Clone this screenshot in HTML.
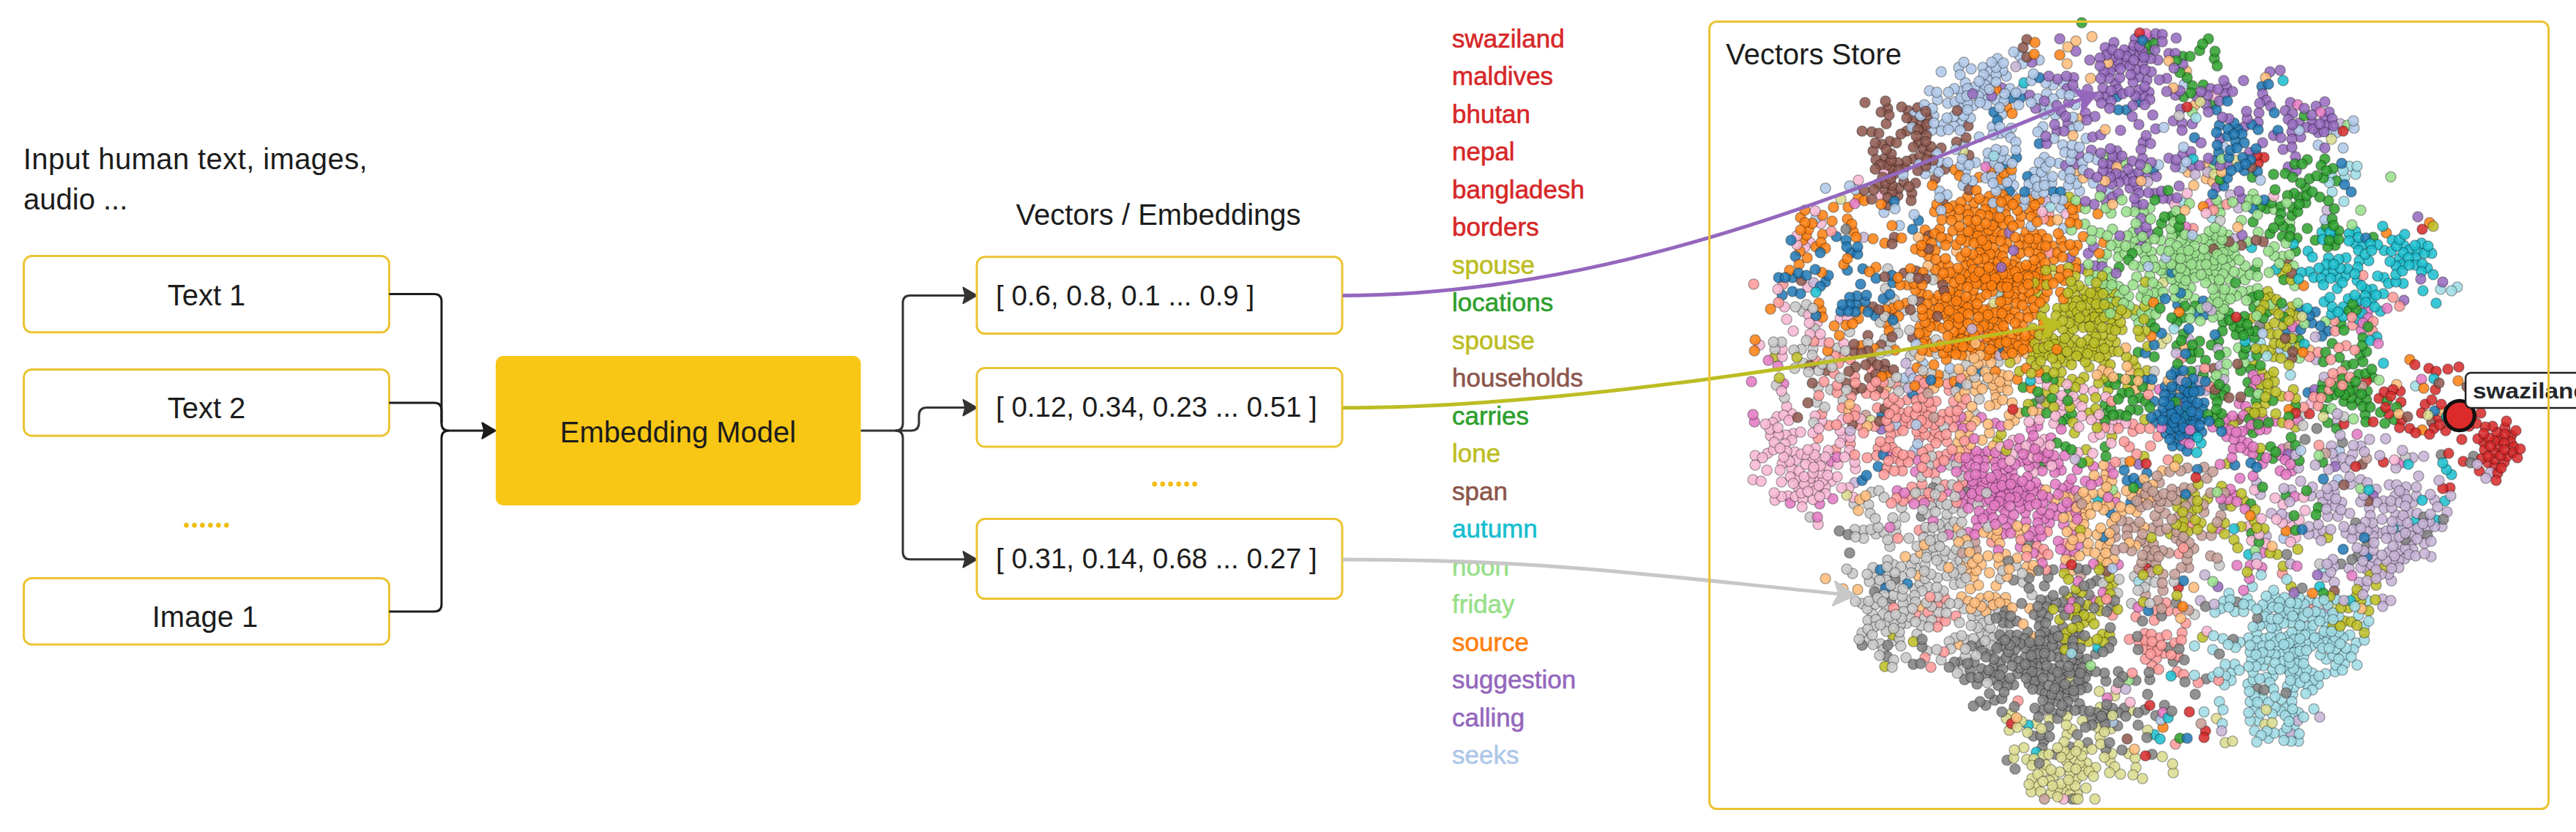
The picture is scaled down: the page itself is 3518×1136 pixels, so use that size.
<!DOCTYPE html>
<html><head><meta charset="utf-8">
<style>
html,body{margin:0;padding:0;background:#fff;width:3518px;height:1136px;overflow:hidden}
svg{position:absolute;left:0;top:0;font-family:"Liberation Sans",sans-serif}
.s circle{r:7.1px;fill-opacity:.85;stroke:rgba(0,0,0,.35);stroke-width:1.3}
.s .a{fill:#1f77b4}.s .b{fill:#aec7e8}.s .c{fill:#ff7f0e}.s .d{fill:#ffbb78}.s .e{fill:#2ca02c}.s .f{fill:#98df8a}.s .g{fill:#d62728}.s .h{fill:#ff9896}.s .i{fill:#9467bd}.s .j{fill:#c5b0d5}.s .k{fill:#8c564b}.s .l{fill:#c49c94}.s .m{fill:#e377c2}.s .n{fill:#f7b6d2}.s .o{fill:#7f7f7f}.s .p{fill:#c7c7c7}.s .q{fill:#bcbd22}.s .r{fill:#dbdb8d}.s .s{fill:#17becf}.s .t{fill:#9edae5}
.box{fill:#fff;stroke:#ebc433;stroke-width:3}
.t{font-size:40px;fill:#1c1c1c}
.w{font-size:35px}
.v{font-size:38.5px}
</style></head><body>
<svg width="3518" height="1136" viewBox="0 0 3518 1136">
<!-- left texts -->
<text class="t" x="31.8" y="231" letter-spacing=".4">Input human text, images,</text>
<text class="t" x="32" y="286">audio ...</text>
<rect class="box" x="32.5" y="349.5" width="499" height="104.3" rx="11"/>
<rect class="box" x="32.5" y="504.4" width="499" height="90.6" rx="11"/>
<rect class="box" x="32.5" y="789.4" width="499" height="90.6" rx="11"/>
<text class="t" x="282" y="417" text-anchor="middle">Text 1</text>
<text class="t" x="282" y="571" text-anchor="middle">Text 2</text>
<text class="t" x="280" y="856" text-anchor="middle">Image 1</text>
<g fill="#f0bf12"><circle cx="254.5" cy="717.1" r="3.4"/><circle cx="265.5" cy="717.1" r="3.4"/><circle cx="276.4" cy="717.1" r="3.4"/><circle cx="287.4" cy="717.1" r="3.4"/><circle cx="298.3" cy="717.1" r="3.4"/><circle cx="309.3" cy="717.1" r="3.4"/></g>
<!-- connectors left -->
<g fill="none" stroke="#1c1c1c" stroke-width="3">
<path d="M531.5 401.6H593Q603 401.6 603 411.6V578Q603 588 613 588H665"/>
<path d="M531.5 550H593Q603 550 603 560V578"/>
<path d="M531.5 835H593Q603 835 603 825V598Q603 588 613 588"/>
</g>
<path d="M677 588L658.4 577.2L661.4 588L658.4 598.8Z" fill="#1c1c1c" stroke="#1c1c1c" stroke-width="2" stroke-linejoin="round"/>
<!-- embedding model -->
<rect x="677" y="486" width="498.6" height="204" rx="10" fill="#f8c614"/>
<text class="t" x="926" y="604" text-anchor="middle">Embedding Model</text>
<!-- connectors right -->
<g fill="none" stroke="#333" stroke-width="3">
<path d="M1175.6 588H1223Q1233 588 1233 578V413.4Q1233 403.4 1243 403.4H1325"/>
<path d="M1223 588H1244Q1255 588 1255 577V567.6Q1255 556.6 1266 556.6H1325"/>
<path d="M1223 588Q1233 588 1233 598V753.8Q1233 763.8 1243 763.8H1325"/>
</g>
<g fill="#333" stroke="#333" stroke-width="2" stroke-linejoin="round">
<path d="M1334 403.4L1315.4 392.6L1318.4 403.4L1315.4 414.2Z"/>
<path d="M1334 556.6L1315.4 545.8L1318.4 556.6L1315.4 567.4Z"/>
<path d="M1334 763.8L1315.4 753L1318.4 763.8L1315.4 774.6Z"/>
</g>
<!-- vector boxes -->
<text class="t" x="1582" y="307" text-anchor="middle">Vectors / Embeddings</text>
<rect class="box" x="1334" y="350.8" width="499" height="104.8" rx="11"/>
<rect class="box" x="1334" y="502.5" width="499" height="107.5" rx="11"/>
<rect class="box" x="1334" y="708.6" width="499" height="109" rx="11"/>
<text class="t v" x="1360" y="417">[ 0.6, 0.8, 0.1 ... 0.9 ]</text>
<text class="t v" x="1360" y="569">[ 0.12, 0.34, 0.23 ... 0.51 ]</text>
<text class="t v" x="1360" y="776">[ 0.31, 0.14, 0.68 ... 0.27 ]</text>
<g fill="#f0bf12"><circle cx="1576.8" cy="660.9" r="3.4"/><circle cx="1587.8" cy="660.9" r="3.4"/><circle cx="1598.7" cy="660.9" r="3.4"/><circle cx="1609.7" cy="660.9" r="3.4"/><circle cx="1620.6" cy="660.9" r="3.4"/><circle cx="1631.6" cy="660.9" r="3.4"/></g>
<!-- word list -->
<g class="w">
<text x="1983" y="64.6" fill="#d62728" stroke="#d62728" stroke-width=".6">swaziland</text>
<text x="1983" y="116.1" fill="#d62728" stroke="#d62728" stroke-width=".6">maldives</text>
<text x="1983" y="167.6" fill="#d62728" stroke="#d62728" stroke-width=".6">bhutan</text>
<text x="1983" y="219.1" fill="#d62728" stroke="#d62728" stroke-width=".6">nepal</text>
<text x="1983" y="270.6" fill="#d62728" stroke="#d62728" stroke-width=".6">bangladesh</text>
<text x="1983" y="322.1" fill="#d62728" stroke="#d62728" stroke-width=".6">borders</text>
<text x="1983" y="373.6" fill="#bcbd22" stroke="#bcbd22" stroke-width=".6">spouse</text>
<text x="1983" y="425.1" fill="#2ca02c" stroke="#2ca02c" stroke-width=".6">locations</text>
<text x="1983" y="476.6" fill="#bcbd22" stroke="#bcbd22" stroke-width=".6">spouse</text>
<text x="1983" y="528.1" fill="#8c564b" stroke="#8c564b" stroke-width=".6">households</text>
<text x="1983" y="579.6" fill="#2ca02c" stroke="#2ca02c" stroke-width=".6">carries</text>
<text x="1983" y="631.1" fill="#bcbd22" stroke="#bcbd22" stroke-width=".6">lone</text>
<text x="1983" y="682.6" fill="#8c564b" stroke="#8c564b" stroke-width=".6">span</text>
<text x="1983" y="734.1" fill="#17becf" stroke="#17becf" stroke-width=".6">autumn</text>
<text x="1983" y="785.6" fill="#98df8a" stroke="#98df8a" stroke-width=".6">noon</text>
<text x="1983" y="837.1" fill="#98df8a" stroke="#98df8a" stroke-width=".6">friday</text>
<text x="1983" y="888.6" fill="#ff7f0e" stroke="#ff7f0e" stroke-width=".6">source</text>
<text x="1983" y="940.1" fill="#9467bd" stroke="#9467bd" stroke-width=".6">suggestion</text>
<text x="1983" y="991.6" fill="#9467bd" stroke="#9467bd" stroke-width=".6">calling</text>
<text x="1983" y="1043.1" fill="#aec7e8" stroke="#aec7e8" stroke-width=".6">seeks</text>
</g>
<!-- scatter -->
<g class="s">
<circle class=d cx=2719 cy=625 r=7.1 /><circle class=f cx=2894 cy=341 r=7.1 /><circle class=p cx=2697 cy=565 r=7.1 /><circle class=q cx=2845 cy=545 r=7.1 /><circle class=c cx=2694 cy=423 r=7.1 /><circle class=o cx=2779 cy=881 r=7.1 /><circle class=d cx=2689 cy=780 r=7.1 /><circle class=p cx=2643 cy=685 r=7.1 /><circle class=b cx=2594 cy=308 r=7.1 /><circle class=m cx=2706 cy=620 r=7.1 /><circle class=b cx=2840 cy=261 r=7.1 /><circle class=p cx=2597 cy=787 r=7.1 /><circle class=s cx=3192 cy=394 r=7.1 /><circle class=j cx=3293 cy=741 r=7.1 /><circle class=d cx=2786 cy=466 r=7.1 /><circle class=a cx=2891 cy=132 r=7.1 /><circle class=c cx=2779 cy=429 r=7.1 /><circle class=p cx=2997 cy=839 r=7.1 /><circle class=p cx=2654 cy=827 r=7.1 /><circle class=s cx=3203 cy=377 r=7.1 /><circle class=h cx=2642 cy=647 r=7.1 /><circle class=t cx=3131 cy=948 r=7.1 /><circle class=q cx=2794 cy=506 r=7.1 /><circle class=i cx=2852 cy=346 r=7.1 /><circle class=c cx=2784 cy=363 r=7.1 /><circle class=h cx=2648 cy=623 r=7.1 /><circle class=o cx=2876 cy=930 r=7.1 /><circle class=m cx=2591 cy=670 r=7.1 /><circle class=t cx=3094 cy=851 r=7.1 /><circle class=k cx=2592 cy=267 r=7.1 /><circle class=h cx=3213 cy=444 r=7.1 /><circle class=f cx=2957 cy=377 r=7.1 /><circle class=k cx=2574 cy=497 r=7.1 /><circle class=n cx=2569 cy=267 r=7.1 /><circle class=o cx=3013 cy=927 r=7.1 /><circle class=q cx=2819 cy=428 r=7.1 /><circle class=m cx=2675 cy=578 r=7.1 /><circle class=q cx=2826 cy=412 r=7.1 /><circle class=a cx=2921 cy=139 r=7.1 /><circle class=r cx=2823 cy=1003 r=7.1 /><circle class=p cx=2635 cy=373 r=7.1 /><circle class=t cx=3082 cy=865 r=7.1 /><circle class=m cx=2799 cy=714 r=7.1 /><circle class=r cx=2830 cy=996 r=7.1 /><circle class=t cx=3139 cy=973 r=7.1 /><circle class=c cx=2716 cy=327 r=7.1 /><circle class=e cx=2981 cy=77 r=7.1 /><circle class=e cx=3051 cy=446 r=7.1 /><circle class=c cx=2738 cy=453 r=7.1 /><circle class=o cx=3197 cy=770 r=7.1 /><circle class=c cx=2663 cy=482 r=7.1 /><circle class=q cx=2801 cy=481 r=7.1 /><circle class=p cx=2575 cy=394 r=7.1 /><circle class=r cx=2824 cy=1074 r=7.1 /><circle class=c cx=2743 cy=426 r=7.1 /><circle class=q cx=2820 cy=494 r=7.1 /><circle class=m cx=2859 cy=820 r=7.1 /><circle class=r cx=2952 cy=469 r=7.1 /><circle class=o cx=2787 cy=885 r=7.1 /><circle class=o cx=2624 cy=705 r=7.1 /><circle class=f cx=3019 cy=347 r=7.1 /><circle class=o cx=2815 cy=942 r=7.1 /><circle class=i cx=3130 cy=180 r=7.1 /><circle class=i cx=2935 cy=126 r=7.1 /><circle class=e cx=3004 cy=69 r=7.1 /><circle class=o cx=2703 cy=880 r=7.1 /><circle class=r cx=2837 cy=1084 r=7.1 /><circle class=h cx=2617 cy=839 r=7.1 /><circle class=l cx=2989 cy=775 r=7.1 /><circle class=p cx=3144 cy=566 r=7.1 /><circle class=q cx=2964 cy=729 r=7.1 /><circle class=q cx=2879 cy=532 r=7.1 /><circle class=e cx=2973 cy=472 r=7.1 /><circle class=c cx=2538 cy=270 r=7.1 /><circle class=e cx=2779 cy=551 r=7.1 /><circle class=d cx=3013 cy=244 r=7.1 /><circle class=n cx=2447 cy=565 r=7.1 /><circle class=p cx=2451 cy=503 r=7.1 /><circle class=c cx=2720 cy=356 r=7.1 /><circle class=f cx=3014 cy=377 r=7.1 /><circle class=j cx=3262 cy=754 r=7.1 /><circle class=q cx=3116 cy=373 r=7.1 /><circle class=k cx=3091 cy=330 r=7.1 /><circle class=f cx=3061 cy=373 r=7.1 /><circle class=r cx=3188 cy=828 r=7.1 /><circle class=f cx=2938 cy=421 r=7.1 /><circle class=p cx=2597 cy=693 r=7.1 /><circle class=f cx=2917 cy=432 r=7.1 /><circle class=a cx=2565 cy=637 r=7.1 /><circle class=b cx=2641 cy=158 r=7.1 /><circle class=j cx=3163 cy=491 r=7.1 /><circle class=i cx=3085 cy=154 r=7.1 /><circle class=r cx=2896 cy=1057 r=7.1 /><circle class=m cx=2949 cy=532 r=7.1 /><circle class=s cx=3075 cy=338 r=7.1 /><circle class=p cx=2472 cy=706 r=7.1 /><circle class=p cx=2598 cy=525 r=7.1 /><circle class=c cx=2741 cy=332 r=7.1 /><circle class=p cx=2556 cy=672 r=7.1 /><circle class=f cx=2893 cy=351 r=7.1 /><circle class=m cx=2688 cy=664 r=7.1 /><circle class=e cx=2986 cy=573 r=7.1 /><circle class=i cx=2876 cy=131 r=7.1 /><circle class=t cx=3139 cy=863 r=7.1 /><circle class=c cx=2651 cy=363 r=7.1 /><circle class=i cx=2921 cy=634 r=7.1 /><circle class=o cx=2771 cy=934 r=7.1 /><circle class=k cx=3321 cy=576 r=7.1 /><circle class=p cx=2654 cy=723 r=7.1 /><circle class=k cx=2643 cy=244 r=7.1 /><circle class=p cx=2532 cy=688 r=7.1 /><circle class=n cx=2517 cy=597 r=7.1 /><circle class=q cx=2917 cy=501 r=7.1 /><circle class=m cx=2582 cy=620 r=7.1 /><circle class=a cx=2508 cy=323 r=7.1 /><circle class=e cx=3140 cy=269 r=7.1 /><circle class=n cx=2495 cy=640 r=7.1 /><circle class=t cx=3137 cy=898 r=7.1 /><circle class=e cx=2942 cy=487 r=7.1 /><circle class=n cx=2451 cy=617 r=7.1 /><circle class=b cx=3037 cy=201 r=7.1 /><circle class=e cx=3135 cy=343 r=7.1 /><circle class=c cx=3259 cy=318 r=7.1 /><circle class=o cx=2700 cy=934 r=7.1 /><circle class=n cx=2531 cy=679 r=7.1 /><circle class=f cx=2871 cy=355 r=7.1 /><circle class=e cx=3270 cy=573 r=7.1 /><circle class=e cx=3076 cy=242 r=7.1 /><circle class=o cx=2797 cy=820 r=7.1 /><circle class=h cx=2991 cy=718 r=7.1 /><circle class=p cx=2615 cy=804 r=7.1 /><circle class=s cx=3168 cy=801 r=7.1 /><circle class=h cx=2917 cy=842 r=7.1 /><circle class=h cx=2955 cy=892 r=7.1 /><circle class=m cx=2709 cy=685 r=7.1 /><circle class=i cx=2824 cy=168 r=7.1 /><circle class=q cx=2884 cy=596 r=7.1 /><circle class=r cx=2861 cy=1091 r=7.1 /><circle class=f cx=2889 cy=421 r=7.1 /><circle class=h cx=2659 cy=603 r=7.1 /><circle class=t cx=3109 cy=863 r=7.1 /><circle class=c cx=2727 cy=304 r=7.1 /><circle class=m cx=2783 cy=582 r=7.1 /><circle class=e cx=3197 cy=442 r=7.1 /><circle class=k cx=2768 cy=54 r=7.1 /><circle class=q cx=2886 cy=442 r=7.1 /><circle class=q cx=2844 cy=409 r=7.1 /><circle class=p cx=2659 cy=512 r=7.1 /><circle class=f cx=2992 cy=393 r=7.1 /><circle class=e cx=2821 cy=610 r=7.1 /><circle class=c cx=2741 cy=146 r=7.1 /><circle class=i cx=3065 cy=173 r=7.1 /><circle class=c cx=2715 cy=451 r=7.1 /><circle class=n cx=2865 cy=575 r=7.1 /><circle class=a cx=2976 cy=567 r=7.1 /><circle class=i cx=2887 cy=91 r=7.1 /><circle class=j cx=3303 cy=650 r=7.1 /><circle class=a cx=2905 cy=656 r=7.1 /><circle class=p cx=2543 cy=824 r=7.1 /><circle class=o cx=2939 cy=1030 r=7.1 /><circle class=b cx=2836 cy=241 r=7.1 /><circle class=r cx=2910 cy=970 r=7.1 /><circle class=j cx=3254 cy=818 r=7.1 /><circle class=c cx=2684 cy=383 r=7.1 /><circle class=m cx=3022 cy=583 r=7.1 /><circle class=n cx=2483 cy=716 r=7.1 /><circle class=g cx=3414 cy=599 r=7.1 /><circle class=j cx=3236 cy=600 r=7.1 /><circle class=b cx=2983 cy=115 r=7.1 /><circle class=q cx=2813 cy=466 r=7.1 /><circle class=i cx=2916 cy=53 r=7.1 /><circle class=e cx=3004 cy=466 r=7.1 /><circle class=t cx=3158 cy=844 r=7.1 /><circle class=j cx=3192 cy=575 r=7.1 /><circle class=p cx=2721 cy=835 r=7.1 /><circle class=h cx=2662 cy=533 r=7.1 /><circle class=e cx=3173 cy=494 r=7.1 /><circle class=p cx=2476 cy=476 r=7.1 /><circle class=c cx=2690 cy=412 r=7.1 /><circle class=o cx=2883 cy=828 r=7.1 /><circle class=j cx=3266 cy=793 r=7.1 /><circle class=t cx=3075 cy=469 r=7.1 /><circle class=c cx=2740 cy=283 r=7.1 /><circle class=b cx=2778 cy=235 r=7.1 /><circle class=p cx=2670 cy=772 r=7.1 /><circle class=q cx=3008 cy=870 r=7.1 /><circle class=r cx=2888 cy=950 r=7.1 /><circle class=t cx=3118 cy=1001 r=7.1 /><circle class=h cx=3204 cy=472 r=7.1 /><circle class=a cx=2528 cy=345 r=7.1 /><circle class=j cx=3177 cy=834 r=7.1 /><circle class=d cx=2876 cy=647 r=7.1 /><circle class=e cx=3240 cy=515 r=7.1 /><circle class=p cx=2669 cy=512 r=7.1 /><circle class=b cx=2791 cy=147 r=7.1 /><circle class=q cx=2834 cy=464 r=7.1 /><circle class=r cx=2850 cy=1042 r=7.1 /><circle class=a cx=2612 cy=313 r=7.1 /><circle class=j cx=3271 cy=677 r=7.1 /><circle class=b cx=2615 cy=615 r=7.1 /><circle class=d cx=2768 cy=483 r=7.1 /><circle class=d cx=2830 cy=761 r=7.1 /><circle class=e cx=3012 cy=492 r=7.1 /><circle class=m cx=2667 cy=625 r=7.1 /><circle class=g cx=3412 cy=610 r=7.1 /><circle class=s cx=3277 cy=353 r=7.1 /><circle class=n cx=2482 cy=440 r=7.1 /><circle class=i cx=3142 cy=187 r=7.1 /><circle class=p cx=2645 cy=737 r=7.1 /><circle class=t cx=3173 cy=778 r=7.1 /><circle class=h cx=2976 cy=756 r=7.1 /><circle class=f cx=2933 cy=329 r=7.1 /><circle class=a cx=2910 cy=686 r=7.1 /><circle class=e cx=2788 cy=633 r=7.1 /><circle class=q cx=2810 cy=421 r=7.1 /><circle class=k cx=3124 cy=357 r=7.1 /><circle class=i cx=3140 cy=168 r=7.1 /><circle class=j cx=3005 cy=820 r=7.1 /><circle class=k cx=2613 cy=217 r=7.1 /><circle class=o cx=2712 cy=963 r=7.1 /><circle class=b cx=2649 cy=261 r=7.1 /><circle class=q cx=2850 cy=405 r=7.1 /><circle class=i cx=2994 cy=169 r=7.1 /><circle class=i cx=3084 cy=167 r=7.1 /><circle class=o cx=2853 cy=812 r=7.1 /><circle class=r cx=2959 cy=462 r=7.1 /><circle class=l cx=2972 cy=735 r=7.1 /><circle class=i cx=2876 cy=274 r=7.1 /><circle class=k cx=2627 cy=177 r=7.1 /><circle class=c cx=2752 cy=425 r=7.1 /><circle class=d cx=2739 cy=816 r=7.1 /><circle class=i cx=2927 cy=194 r=7.1 /><circle class=c cx=2763 cy=384 r=7.1 /><circle class=e cx=3070 cy=522 r=7.1 /><circle class=k cx=2587 cy=324 r=7.1 /><circle class=t cx=3170 cy=869 r=7.1 /><circle class=q cx=2868 cy=770 r=7.1 /><circle class=j cx=3236 cy=694 r=7.1 /><circle class=d cx=2679 cy=815 r=7.1 /><circle class=n cx=2814 cy=562 r=7.1 /><circle class=b cx=2807 cy=157 r=7.1 /><circle class=e cx=2875 cy=552 r=7.1 /><circle class=d cx=2776 cy=869 r=7.1 /><circle class=l cx=2957 cy=701 r=7.1 /><circle class=a cx=2968 cy=557 r=7.1 /><circle class=o cx=2798 cy=867 r=7.1 /><circle class=i cx=2962 cy=216 r=7.1 /><circle class=q cx=2889 cy=467 r=7.1 /><circle class=o cx=2684 cy=671 r=7.1 /><circle class=d cx=2684 cy=576 r=7.1 /><circle class=m cx=2772 cy=617 r=7.1 /><circle class=t cx=3112 cy=885 r=7.1 /><circle class=m cx=2436 cy=524 r=7.1 /><circle class=f cx=3018 cy=326 r=7.1 /><circle class=r cx=2747 cy=974 r=7.1 /><circle class=c cx=2757 cy=461 r=7.1 /><circle class=l cx=2889 cy=733 r=7.1 /><circle class=c cx=2790 cy=344 r=7.1 /><circle class=g cx=3249 cy=544 r=7.1 /><circle class=i cx=2844 cy=367 r=7.1 /><circle class=h cx=3188 cy=438 r=7.1 /><circle class=b cx=2695 cy=144 r=7.1 /><circle class=b cx=2749 cy=267 r=7.1 /><circle class=q cx=2825 cy=455 r=7.1 /><circle class=o cx=2775 cy=887 r=7.1 /><circle class=b cx=2682 cy=197 r=7.1 /><circle class=i cx=2882 cy=98 r=7.1 /><circle class=c cx=2718 cy=421 r=7.1 /><circle class=q cx=2794 cy=536 r=7.1 /><circle class=e cx=3260 cy=548 r=7.1 /><circle class=m cx=2503 cy=681 r=7.1 /><circle class=c cx=2660 cy=326 r=7.1 /><circle class=c cx=2736 cy=436 r=7.1 /><circle class=q cx=2424 cy=487 r=7.1 /><circle class=n cx=2859 cy=534 r=7.1 /><circle class=e cx=3036 cy=440 r=7.1 /><circle class=o cx=2823 cy=879 r=7.1 /><circle class=c cx=2538 cy=435 r=7.1 /><circle class=i cx=3175 cy=162 r=7.1 /><circle class=t cx=3091 cy=909 r=7.1 /><circle class=f cx=3061 cy=301 r=7.1 /><circle class=f cx=2959 cy=368 r=7.1 /><circle class=c cx=2727 cy=390 r=7.1 /><circle class=j cx=2533 cy=659 r=7.1 /><circle class=h cx=2635 cy=682 r=7.1 /><circle class=c cx=3291 cy=491 r=7.1 /><circle class=p cx=2870 cy=787 r=7.1 /><circle class=n cx=2456 cy=666 r=7.1 /><circle class=c cx=2578 cy=443 r=7.1 /><circle class=h cx=2609 cy=622 r=7.1 /><circle class=m cx=2755 cy=662 r=7.1 /><circle class=h cx=3117 cy=783 r=7.1 /><circle class=l cx=2987 cy=639 r=7.1 /><circle class=q cx=3076 cy=496 r=7.1 /><circle class=a cx=2570 cy=566 r=7.1 /><circle class=t cx=3123 cy=913 r=7.1 /><circle class=g cx=3092 cy=215 r=7.1 /><circle class=e cx=2920 cy=481 r=7.1 /><circle class=p cx=2607 cy=819 r=7.1 /><circle class=i cx=2889 cy=114 r=7.1 /><circle class=o cx=2678 cy=904 r=7.1 /><circle class=d cx=2974 cy=535 r=7.1 /><circle class=f cx=2902 cy=222 r=7.1 /><circle class=m cx=2485 cy=688 r=7.1 /><circle class=t cx=3096 cy=833 r=7.1 /><circle class=f cx=3127 cy=304 r=7.1 /><circle class=q cx=2832 cy=434 r=7.1 /><circle class=q cx=2997 cy=675 r=7.1 /><circle class=l cx=2930 cy=812 r=7.1 /><circle class=p cx=2619 cy=776 r=7.1 /><circle class=g cx=3398 cy=632 r=7.1 /><circle class=n cx=2447 cy=640 r=7.1 /><circle class=m cx=2820 cy=774 r=7.1 /><circle class=i cx=2901 cy=86 r=7.1 /><circle class=j cx=3210 cy=661 r=7.1 /><circle class=q cx=2788 cy=432 r=7.1 /><circle class=f cx=2876 cy=215 r=7.1 /><circle class=i cx=2940 cy=157 r=7.1 /><circle class=o cx=2669 cy=904 r=7.1 /><circle class=a cx=3141 cy=423 r=7.1 /><circle class=i cx=2978 cy=149 r=7.1 /><circle class=q cx=3110 cy=757 r=7.1 /><circle class=p cx=2651 cy=688 r=7.1 /><circle class=d cx=2927 cy=682 r=7.1 /><circle class=s cx=3348 cy=648 r=7.1 /><circle class=e cx=3221 cy=547 r=7.1 /><circle class=b cx=3183 cy=180 r=7.1 /><circle class=q cx=2833 cy=591 r=7.1 /><circle class=t cx=3093 cy=872 r=7.1 /><circle class=d cx=2844 cy=698 r=7.1 /><circle class=m cx=2688 cy=727 r=7.1 /><circle class=b cx=2698 cy=222 r=7.1 /><circle class=f cx=3023 cy=380 r=7.1 /><circle class=h cx=2679 cy=553 r=7.1 /><circle class=c cx=2712 cy=468 r=7.1 /><circle class=a cx=3179 cy=452 r=7.1 /><circle class=j cx=3209 cy=701 r=7.1 /><circle class=l cx=2975 cy=672 r=7.1 /><circle class=c cx=2686 cy=456 r=7.1 /><circle class=n cx=2890 cy=941 r=7.1 /><circle class=t cx=3079 cy=968 r=7.1 /><circle class=c cx=2487 cy=424 r=7.1 /><circle class=n cx=2455 cy=653 r=7.1 /><circle class=m cx=2832 cy=686 r=7.1 /><circle class=p cx=2500 cy=532 r=7.1 /><circle class=k cx=2622 cy=168 r=7.1 /><circle class=m cx=2747 cy=713 r=7.1 /><circle class=k cx=3226 cy=634 r=7.1 /><circle class=c cx=2543 cy=421 r=7.1 /><circle class=c cx=2719 cy=383 r=7.1 /><circle class=j cx=3129 cy=669 r=7.1 /><circle class=o cx=2706 cy=913 r=7.1 /><circle class=t cx=3047 cy=919 r=7.1 /><circle class=t cx=3137 cy=924 r=7.1 /><circle class=h cx=2668 cy=548 r=7.1 /><circle class=q cx=2849 cy=474 r=7.1 /><circle class=g cx=3278 cy=534 r=7.1 /><circle class=a cx=3124 cy=452 r=7.1 /><circle class=b cx=2802 cy=250 r=7.1 /><circle class=q cx=2728 cy=602 r=7.1 /><circle class=b cx=2815 cy=284 r=7.1 /><circle class=t cx=3084 cy=984 r=7.1 /><circle class=t cx=3233 cy=820 r=7.1 /><circle class=e cx=3074 cy=504 r=7.1 /><circle class=i cx=2943 cy=264 r=7.1 /><circle class=h cx=2787 cy=760 r=7.1 /><circle class=m cx=2482 cy=706 r=7.1 /><circle class=e cx=3257 cy=578 r=7.1 /><circle class=n cx=3127 cy=717 r=7.1 /><circle class=j cx=3233 cy=778 r=7.1 /><circle class=t cx=3180 cy=869 r=7.1 /><circle class=b cx=2601 cy=516 r=7.1 /><circle class=a cx=3075 cy=170 r=7.1 /><circle class=p cx=2557 cy=838 r=7.1 /><circle class=p cx=2677 cy=766 r=7.1 /><circle class=c cx=2711 cy=343 r=7.1 /><circle class=j cx=3156 cy=677 r=7.1 /><circle class=q cx=3065 cy=684 r=7.1 /><circle class=q cx=2803 cy=368 r=7.1 /><circle class=m cx=2758 cy=612 r=7.1 /><circle class=q cx=2829 cy=840 r=7.1 /><circle class=q cx=2776 cy=448 r=7.1 /><circle class=a cx=2930 cy=482 r=7.1 /><circle class=t cx=3185 cy=262 r=7.1 /><circle class=h cx=2913 cy=589 r=7.1 /><circle class=g cx=3255 cy=631 r=7.1 /><circle class=f cx=2951 cy=369 r=7.1 /><circle class=n cx=2472 cy=331 r=7.1 /><circle class=o cx=3148 cy=600 r=7.1 /><circle class=o cx=2841 cy=902 r=7.1 /><circle class=j cx=2794 cy=275 r=7.1 /><circle class=o cx=2719 cy=890 r=7.1 /><circle class=o cx=3164 cy=585 r=7.1 /><circle class=c cx=2731 cy=383 r=7.1 /><circle class=b cx=2731 cy=182 r=7.1 /><circle class=t cx=3122 cy=842 r=7.1 /><circle class=c cx=2722 cy=486 r=7.1 /><circle class=h cx=2596 cy=564 r=7.1 /><circle class=e cx=3201 cy=548 r=7.1 /><circle class=j cx=3012 cy=533 r=7.1 /><circle class=e cx=3212 cy=553 r=7.1 /><circle class=e cx=3074 cy=688 r=7.1 /><circle class=o cx=2834 cy=814 r=7.1 /><circle class=e cx=3096 cy=285 r=7.1 /><circle class=h cx=2624 cy=679 r=7.1 /><circle class=l cx=2979 cy=775 r=7.1 /><circle class=i cx=2734 cy=120 r=7.1 /><circle class=m cx=3041 cy=596 r=7.1 /><circle class=c cx=2825 cy=278 r=7.1 /><circle class=j cx=3295 cy=686 r=7.1 /><circle class=e cx=3080 cy=368 r=7.1 /><circle class=r cx=2836 cy=1064 r=7.1 /><circle class=o cx=2582 cy=821 r=7.1 /><circle class=e cx=3128 cy=313 r=7.1 /><circle class=h cx=2660 cy=524 r=7.1 /><circle class=i cx=2962 cy=73 r=7.1 /><circle class=o cx=2784 cy=902 r=7.1 /><circle class=c cx=2661 cy=363 r=7.1 /><circle class=h cx=2621 cy=598 r=7.1 /><circle class=p cx=2609 cy=486 r=7.1 /><circle class=f cx=3040 cy=481 r=7.1 /><circle class=h cx=2705 cy=459 r=7.1 /><circle class=l cx=2931 cy=742 r=7.1 /><circle class=j cx=3176 cy=788 r=7.1 /><circle class=p cx=2628 cy=844 r=7.1 /><circle class=f cx=3106 cy=286 r=7.1 /><circle class=e cx=3030 cy=466 r=7.1 /><circle class=o cx=2777 cy=1005 r=7.1 /><circle class=o cx=2786 cy=934 r=7.1 /><circle class=q cx=2853 cy=564 r=7.1 /><circle class=a cx=2965 cy=537 r=7.1 /><circle class=j cx=3002 cy=506 r=7.1 /><circle class=s cx=3206 cy=367 r=7.1 /><circle class=q cx=2814 cy=521 r=7.1 /><circle class=r cx=2847 cy=1023 r=7.1 /><circle class=f cx=3046 cy=359 r=7.1 /><circle class=c cx=2819 cy=383 r=7.1 /><circle class=g cx=3407 cy=637 r=7.1 /><circle class=n cx=2788 cy=555 r=7.1 /><circle class=b cx=2728 cy=237 r=7.1 /><circle class=c cx=2749 cy=381 r=7.1 /><circle class=m cx=2832 cy=727 r=7.1 /><circle class=h cx=3240 cy=452 r=7.1 /><circle class=d cx=2841 cy=162 r=7.1 /><circle class=r cx=3039 cy=1014 r=7.1 /><circle class=d cx=2739 cy=757 r=7.1 /><circle class=f cx=2997 cy=408 r=7.1 /><circle class=c cx=2685 cy=285 r=7.1 /><circle class=c cx=2768 cy=369 r=7.1 /><circle class=b cx=2745 cy=121 r=7.1 /><circle class=g cx=3154 cy=565 r=7.1 /><circle class=b cx=2758 cy=76 r=7.1 /><circle class=o cx=2750 cy=792 r=7.1 /><circle class=n cx=2730 cy=624 r=7.1 /><circle class=r cx=2968 cy=1055 r=7.1 /><circle class=q cx=2828 cy=426 r=7.1 /><circle class=n cx=2817 cy=553 r=7.1 /><circle class=c cx=2639 cy=437 r=7.1 /><circle class=e cx=2876 cy=565 r=7.1 /><circle class=s cx=3283 cy=335 r=7.1 /><circle class=c cx=2758 cy=305 r=7.1 /><circle class=p cx=2622 cy=797 r=7.1 /><circle class=f cx=2893 cy=391 r=7.1 /><circle class=b cx=2678 cy=125 r=7.1 /><circle class=k cx=2654 cy=277 r=7.1 /><circle class=c cx=2769 cy=408 r=7.1 /><circle class=b cx=2818 cy=113 r=7.1 /><circle class=n cx=2534 cy=640 r=7.1 /><circle class=o cx=2835 cy=907 r=7.1 /><circle class=j cx=3224 cy=655 r=7.1 /><circle class=t cx=3142 cy=833 r=7.1 /><circle class=g cx=3407 cy=627 r=7.1 /><circle class=k cx=2620 cy=195 r=7.1 /><circle class=e cx=2937 cy=440 r=7.1 /><circle class=f cx=2907 cy=404 r=7.1 /><circle class=i cx=2936 cy=52 r=7.1 /><circle class=o cx=2704 cy=958 r=7.1 /><circle class=j cx=3095 cy=732 r=7.1 /><circle class=n cx=2469 cy=392 r=7.1 /><circle class=k cx=2613 cy=201 r=7.1 /><circle class=o cx=2808 cy=958 r=7.1 /><circle class=p cx=2681 cy=914 r=7.1 /><circle class=h cx=2516 cy=488 r=7.1 /><circle class=a cx=2434 cy=403 r=7.1 /><circle class=k cx=2558 cy=419 r=7.1 /><circle class=h cx=2498 cy=581 r=7.1 /><circle class=b cx=2675 cy=92 r=7.1 /><circle class=g cx=3280 cy=574 r=7.1 /><circle class=t cx=3122 cy=965 r=7.1 /><circle class=d cx=2715 cy=759 r=7.1 /><circle class=q cx=2824 cy=815 r=7.1 /><circle class=d cx=2688 cy=517 r=7.1 /><circle class=c cx=2722 cy=469 r=7.1 /><circle class=f cx=3073 cy=397 r=7.1 /><circle class=j cx=3237 cy=704 r=7.1 /><circle class=h cx=2533 cy=514 r=7.1 /><circle class=q cx=3129 cy=419 r=7.1 /><circle class=r cx=2907 cy=1029 r=7.1 /><circle class=o cx=2863 cy=793 r=7.1 /><circle class=i cx=2926 cy=87 r=7.1 /><circle class=m cx=3090 cy=633 r=7.1 /><circle class=m cx=2809 cy=704 r=7.1 /><circle class=o cx=2936 cy=928 r=7.1 /><circle class=o cx=2807 cy=1030 r=7.1 /><circle class=c cx=2666 cy=470 r=7.1 /><circle class=c cx=2634 cy=350 r=7.1 /><circle class=i cx=2932 cy=109 r=7.1 /><circle class=b cx=2573 cy=290 r=7.1 /><circle class=d cx=2725 cy=534 r=7.1 /><circle class=t cx=3086 cy=854 r=7.1 /><circle class=h cx=2590 cy=589 r=7.1 /><circle class=h cx=2985 cy=851 r=7.1 /><circle class=p cx=2562 cy=729 r=7.1 /><circle class=e cx=3149 cy=257 r=7.1 /><circle class=l cx=2548 cy=567 r=7.1 /><circle class=r cx=2822 cy=1039 r=7.1 /><circle class=t cx=3071 cy=871 r=7.1 /><circle class=o cx=2776 cy=924 r=7.1 /><circle class=o cx=2795 cy=884 r=7.1 /><circle class=c cx=2696 cy=405 r=7.1 /><circle class=m cx=2859 cy=770 r=7.1 /><circle class=h cx=2582 cy=594 r=7.1 /><circle class=a cx=3009 cy=411 r=7.1 /><circle class=a cx=2984 cy=540 r=7.1 /><circle class=q cx=2837 cy=442 r=7.1 /><circle class=p cx=2899 cy=632 r=7.1 /><circle class=c cx=2562 cy=365 r=7.1 /><circle class=t cx=3107 cy=815 r=7.1 /><circle class=a cx=2739 cy=227 r=7.1 /><circle class=e cx=2991 cy=527 r=7.1 /><circle class=c cx=2776 cy=457 r=7.1 /><circle class=c cx=2605 cy=389 r=7.1 /><circle class=o cx=2741 cy=1038 r=7.1 /><circle class=t cx=3128 cy=920 r=7.1 /><circle class=p cx=2599 cy=824 r=7.1 /><circle class=o cx=2787 cy=819 r=7.1 /><circle class=d cx=2734 cy=512 r=7.1 /><circle class=p cx=2462 cy=425 r=7.1 /><circle class=b cx=2793 cy=243 r=7.1 /><circle class=d cx=2988 cy=235 r=7.1 /><circle class=t cx=3073 cy=958 r=7.1 /><circle class=q cx=2814 cy=483 r=7.1 /><circle class=s cx=3221 cy=436 r=7.1 /><circle class=q cx=2886 cy=796 r=7.1 /><circle class=t cx=3141 cy=916 r=7.1 /><circle class=e cx=2981 cy=434 r=7.1 /><circle class=d cx=2725 cy=816 r=7.1 /><circle class=r cx=2916 cy=1035 r=7.1 /><circle class=s cx=3200 cy=432 r=7.1 /><circle class=a cx=2561 cy=431 r=7.1 /><circle class=c cx=2531 cy=316 r=7.1 /><circle class=n cx=2516 cy=573 r=7.1 /><circle class=m cx=2740 cy=667 r=7.1 /><circle class=j cx=3325 cy=683 r=7.1 /><circle class=g cx=3410 cy=590 r=7.1 /><circle class=t cx=3087 cy=468 r=7.1 /><circle class=t cx=3116 cy=955 r=7.1 /><circle class=e cx=3077 cy=303 r=7.1 /><circle class=n cx=2856 cy=573 r=7.1 /><circle class=c cx=2649 cy=381 r=7.1 /><circle class=t cx=3087 cy=974 r=7.1 /><circle class=j cx=2477 cy=386 r=7.1 /><circle class=j cx=3263 cy=662 r=7.1 /><circle class=a cx=2959 cy=580 r=7.1 /><circle class=c cx=2664 cy=292 r=7.1 /><circle class=t cx=3076 cy=801 r=7.1 /><circle class=s cx=3207 cy=408 r=7.1 /><circle class=q cx=2880 cy=405 r=7.1 /><circle class=f cx=3038 cy=413 r=7.1 /><circle class=g cx=2930 cy=1032 r=7.1 /><circle class=n cx=3135 cy=734 r=7.1 /><circle class=e cx=2974 cy=318 r=7.1 /><circle class=g cx=3279 cy=549 r=7.1 /><circle class=f cx=2878 cy=383 r=7.1 /><circle class=c cx=2649 cy=313 r=7.1 /><circle class=t cx=3070 cy=934 r=7.1 /><circle class=c cx=2779 cy=58 r=7.1 /><circle class=q cx=2838 cy=838 r=7.1 /><circle class=p cx=2467 cy=416 r=7.1 /><circle class=b cx=2818 cy=239 r=7.1 /><circle class=m cx=2748 cy=645 r=7.1 /><circle class=m cx=2785 cy=667 r=7.1 /><circle class=b cx=2849 cy=189 r=7.1 /><circle class=c cx=2680 cy=420 r=7.1 /><circle class=m cx=2826 cy=695 r=7.1 /><circle class=s cx=3255 cy=401 r=7.1 /><circle class=f cx=3028 cy=422 r=7.1 /><circle class=g cx=3420 cy=631 r=7.1 /><circle class=d cx=2726 cy=543 r=7.1 /><circle class=f cx=2861 cy=376 r=7.1 /><circle class=q cx=2882 cy=436 r=7.1 /><circle class=m cx=2693 cy=622 r=7.1 /><circle class=d cx=2705 cy=817 r=7.1 /><circle class=o cx=2901 cy=967 r=7.1 /><circle class=h cx=2656 cy=817 r=7.1 /><circle class=t cx=3134 cy=832 r=7.1 /><circle class=i cx=2964 cy=272 r=7.1 /><circle class=o cx=2819 cy=916 r=7.1 /><circle class=n cx=2835 cy=550 r=7.1 /><circle class=c cx=2735 cy=460 r=7.1 /><circle class=m cx=2681 cy=633 r=7.1 /><circle class=o cx=2783 cy=910 r=7.1 /><circle class=g cx=3430 cy=594 r=7.1 /><circle class=m cx=3107 cy=575 r=7.1 /><circle class=h cx=2908 cy=873 r=7.1 /><circle class=c cx=2468 cy=352 r=7.1 /><circle class=m cx=2714 cy=702 r=7.1 /><circle class=h cx=3190 cy=519 r=7.1 /><circle class=p cx=2932 cy=793 r=7.1 /><circle class=f cx=2990 cy=329 r=7.1 /><circle class=c cx=2708 cy=362 r=7.1 /><circle class=c cx=2459 cy=297 r=7.1 /><circle class=d cx=3014 cy=225 r=7.1 /><circle class=l cx=2962 cy=755 r=7.1 /><circle class=t cx=3098 cy=1008 r=7.1 /><circle class=f cx=2928 cy=347 r=7.1 /><circle class=i cx=2919 cy=75 r=7.1 /><circle class=c cx=2597 cy=325 r=7.1 /><circle class=q cx=2879 cy=468 r=7.1 /><circle class=h cx=2483 cy=598 r=7.1 /><circle class=n cx=2792 cy=600 r=7.1 /><circle class=m cx=2882 cy=638 r=7.1 /><circle class=k cx=2581 cy=193 r=7.1 /><circle class=c cx=2718 cy=443 r=7.1 /><circle class=c cx=2769 cy=424 r=7.1 /><circle class=q cx=2856 cy=425 r=7.1 /><circle class=f cx=3023 cy=229 r=7.1 /><circle class=h cx=2549 cy=537 r=7.1 /><circle class=t cx=3115 cy=971 r=7.1 /><circle class=r cx=3093 cy=989 r=7.1 /><circle class=d cx=2751 cy=574 r=7.1 /><circle class=a cx=2932 cy=646 r=7.1 /><circle class=o cx=2795 cy=829 r=7.1 /><circle class=h cx=2947 cy=596 r=7.1 /><circle class=b cx=2679 cy=144 r=7.1 /><circle class=o cx=3378 cy=623 r=7.1 /><circle class=t cx=3133 cy=938 r=7.1 /><circle class=e cx=3115 cy=282 r=7.1 /><circle class=a cx=3171 cy=459 r=7.1 /><circle class=t cx=3022 cy=924 r=7.1 /><circle class=f cx=3134 cy=390 r=7.1 /><circle class=h cx=2913 cy=579 r=7.1 /><circle class=s cx=3274 cy=719 r=7.1 /><circle class=d cx=2794 cy=669 r=7.1 /><circle class=i cx=2883 cy=138 r=7.1 /><circle class=o cx=3334 cy=621 r=7.1 /><circle class=c cx=2803 cy=336 r=7.1 /><circle class=p cx=2657 cy=712 r=7.1 /><circle class=n cx=2573 cy=233 r=7.1 /><circle class=s cx=3240 cy=395 r=7.1 /><circle class=n cx=2481 cy=654 r=7.1 /><circle class=o cx=2775 cy=903 r=7.1 /><circle class=o cx=2817 cy=856 r=7.1 /><circle class=r cx=2818 cy=1081 r=7.1 /><circle class=q cx=2846 cy=850 r=7.1 /><circle class=b cx=2831 cy=160 r=7.1 /><circle class=e cx=2875 cy=610 r=7.1 /><circle class=f cx=3017 cy=369 r=7.1 /><circle class=e cx=3218 cy=532 r=7.1 /><circle class=s cx=3291 cy=341 r=7.1 /><circle class=s cx=3204 cy=352 r=7.1 /><circle class=f cx=3140 cy=489 r=7.1 /><circle class=j cx=3250 cy=728 r=7.1 /><circle class=f cx=2973 cy=387 r=7.1 /><circle class=o cx=2827 cy=1020 r=7.1 /><circle class=e cx=3119 cy=382 r=7.1 /><circle class=d cx=2953 cy=643 r=7.1 /><circle class=m cx=2830 cy=822 r=7.1 /><circle class=e cx=2920 cy=560 r=7.1 /><circle class=d cx=2873 cy=635 r=7.1 /><circle class=j cx=3164 cy=729 r=7.1 /><circle class=m cx=2789 cy=643 r=7.1 /><circle class=c cx=2705 cy=380 r=7.1 /><circle class=m cx=2735 cy=644 r=7.1 /><circle class=o cx=2865 cy=985 r=7.1 /><circle class=p cx=2460 cy=477 r=7.1 /><circle class=t cx=3120 cy=816 r=7.1 /><circle class=p cx=2713 cy=823 r=7.1 /><circle class=p cx=2607 cy=735 r=7.1 /><circle class=c cx=2727 cy=346 r=7.1 /><circle class=c cx=2687 cy=354 r=7.1 /><circle class=h cx=2647 cy=846 r=7.1 /><circle class=t cx=3150 cy=856 r=7.1 /><circle class=j cx=3203 cy=638 r=7.1 /><circle class=q cx=2855 cy=843 r=7.1 /><circle class=g cx=3326 cy=532 r=7.1 /><circle class=q cx=2916 cy=423 r=7.1 /><circle class=p cx=2450 cy=478 r=7.1 /><circle class=o cx=2810 cy=933 r=7.1 /><circle class=h cx=2638 cy=597 r=7.1 /><circle class=c cx=2676 cy=456 r=7.1 /><circle class=e cx=2982 cy=132 r=7.1 /><circle class=t cx=3160 cy=968 r=7.1 /><circle class=p cx=2618 cy=866 r=7.1 /><circle class=l cx=2954 cy=784 r=7.1 /><circle class=n cx=2442 cy=677 r=7.1 /><circle class=c cx=2484 cy=414 r=7.1 /><circle class=n cx=2440 cy=555 r=7.1 /><circle class=n cx=2501 cy=657 r=7.1 /><circle class=e cx=3175 cy=559 r=7.1 /><circle class=i cx=2892 cy=83 r=7.1 /><circle class=p cx=2545 cy=724 r=7.1 /><circle class=m cx=3058 cy=551 r=7.1 /><circle class=e cx=2763 cy=529 r=7.1 /><circle class=s cx=3217 cy=333 r=7.1 /><circle class=m cx=2415 cy=492 r=7.1 /><circle class=q cx=2993 cy=698 r=7.1 /><circle class=a cx=2976 cy=527 r=7.1 /><circle class=g cx=3232 cy=520 r=7.1 /><circle class=l cx=2996 cy=749 r=7.1 /><circle class=e cx=2998 cy=418 r=7.1 /><circle class=t cx=3299 cy=527 r=7.1 /><circle class=q cx=2886 cy=399 r=7.1 /><circle class=k cx=2574 cy=506 r=7.1 /><circle class=l cx=2923 cy=738 r=7.1 /><circle class=l cx=2954 cy=806 r=7.1 /><circle class=l cx=2933 cy=752 r=7.1 /><circle class=j cx=2609 cy=509 r=7.1 /><circle class=m cx=2825 cy=671 r=7.1 /><circle class=b cx=2716 cy=219 r=7.1 /><circle class=k cx=2611 cy=264 r=7.1 /><circle class=f cx=3026 cy=330 r=7.1 /><circle class=a cx=2547 cy=412 r=7.1 /><circle class=q cx=2933 cy=473 r=7.1 /><circle class=o cx=2961 cy=884 r=7.1 /><circle class=i cx=2809 cy=179 r=7.1 /><circle class=d cx=2846 cy=707 r=7.1 /><circle class=j cx=3196 cy=169 r=7.1 /><circle class=s cx=3339 cy=684 r=7.1 /><circle class=t cx=3106 cy=1001 r=7.1 /><circle class=d cx=2620 cy=786 r=7.1 /><circle class=t cx=3077 cy=928 r=7.1 /><circle class=j cx=3259 cy=725 r=7.1 /><circle class=e cx=3022 cy=142 r=7.1 /><circle class=q cx=2846 cy=396 r=7.1 /><circle class=o cx=3037 cy=690 r=7.1 /><circle class=i cx=3041 cy=119 r=7.1 /><circle class=l cx=2935 cy=768 r=7.1 /><circle class=m cx=2445 cy=687 r=7.1 /><circle class=m cx=3031 cy=722 r=7.1 /><circle class=m cx=3069 cy=615 r=7.1 /><circle class=o cx=2789 cy=970 r=7.1 /><circle class=f cx=3089 cy=532 r=7.1 /><circle class=n cx=2457 cy=643 r=7.1 /><circle class=g cx=3330 cy=570 r=7.1 /><circle class=b cx=2736 cy=258 r=7.1 /><circle class=e cx=2823 cy=572 r=7.1 /><circle class=n cx=2452 cy=678 r=7.1 /><circle class=c cx=2622 cy=446 r=7.1 /><circle class=o cx=2862 cy=893 r=7.1 /><circle class=b cx=2750 cy=253 r=7.1 /><circle class=m cx=3018 cy=278 r=7.1 /><circle class=i cx=2954 cy=271 r=7.1 /><circle class=i cx=3178 cy=171 r=7.1 /><circle class=i cx=2861 cy=363 r=7.1 /><circle class=c cx=2640 cy=423 r=7.1 /><circle class=h cx=3138 cy=440 r=7.1 /><circle class=q cx=2777 cy=484 r=7.1 /><circle class=c cx=2734 cy=404 r=7.1 /><circle class=i cx=3181 cy=153 r=7.1 /><circle class=f cx=2885 cy=313 r=7.1 /><circle class=s cx=3192 cy=379 r=7.1 /><circle class=s cx=3315 cy=366 r=7.1 /><circle class=n cx=2449 cy=592 r=7.1 /><circle class=j cx=3242 cy=723 r=7.1 /><circle class=a cx=2941 cy=232 r=7.1 /><circle class=p cx=2915 cy=787 r=7.1 /><circle class=c cx=2635 cy=469 r=7.1 /><circle class=c cx=2722 cy=338 r=7.1 /><circle class=p cx=2616 cy=432 r=7.1 /><circle class=j cx=3188 cy=795 r=7.1 /><circle class=e cx=3024 cy=80 r=7.1 /><circle class=p cx=2670 cy=731 r=7.1 /><circle class=k cx=2622 cy=213 r=7.1 /><circle class=t cx=3124 cy=869 r=7.1 /><circle class=q cx=2871 cy=866 r=7.1 /><circle class=e cx=3188 cy=539 r=7.1 /><circle class=f cx=2966 cy=322 r=7.1 /><circle class=g cx=3358 cy=501 r=7.1 /><circle class=q cx=2854 cy=438 r=7.1 /><circle class=m cx=2769 cy=673 r=7.1 /><circle class=i cx=2921 cy=105 r=7.1 /><circle class=g cx=3343 cy=504 r=7.1 /><circle class=e cx=3087 cy=282 r=7.1 /><circle class=i cx=2875 cy=65 r=7.1 /><circle class=o cx=2791 cy=1012 r=7.1 /><circle class=q cx=2783 cy=402 r=7.1 /><circle class=m cx=3067 cy=555 r=7.1 /><circle class=a cx=2760 cy=133 r=7.1 /><circle class=c cx=2697 cy=315 r=7.1 /><circle class=o cx=2817 cy=831 r=7.1 /><circle class=j cx=3184 cy=609 r=7.1 /><circle class=c cx=2805 cy=354 r=7.1 /><circle class=h cx=2657 cy=848 r=7.1 /><circle class=p cx=2560 cy=785 r=7.1 /><circle class=t cx=3120 cy=828 r=7.1 /><circle class=f cx=3043 cy=321 r=7.1 /><circle class=c cx=2673 cy=476 r=7.1 /><circle class=d cx=2910 cy=509 r=7.1 /><circle class=d cx=2846 cy=716 r=7.1 /><circle class=m cx=2816 cy=693 r=7.1 /><circle class=e cx=2966 cy=295 r=7.1 /><circle class=n cx=2474 cy=662 r=7.1 /><circle class=s cx=3302 cy=343 r=7.1 /><circle class=i cx=2898 cy=240 r=7.1 /><circle class=l cx=2944 cy=769 r=7.1 /><circle class=f cx=3066 cy=382 r=7.1 /><circle class=o cx=2794 cy=918 r=7.1 /><circle class=c cx=2788 cy=320 r=7.1 /><circle class=p cx=2663 cy=720 r=7.1 /><circle class=f cx=3206 cy=171 r=7.1 /><circle class=t cx=3176 cy=877 r=7.1 /><circle class=p cx=2568 cy=879 r=7.1 /><circle class=a cx=3025 cy=219 r=7.1 /><circle class=i cx=3158 cy=167 r=7.1 /><circle class=s cx=3176 cy=372 r=7.1 /><circle class=h cx=2618 cy=589 r=7.1 /><circle class=a cx=3089 cy=118 r=7.1 /><circle class=t cx=3139 cy=1012 r=7.1 /><circle class=g cx=3317 cy=503 r=7.1 /><circle class=c cx=2643 cy=368 r=7.1 /><circle class=e cx=2815 cy=576 r=7.1 /><circle class=t cx=3209 cy=867 r=7.1 /><circle class=t cx=3137 cy=906 r=7.1 /><circle class=k cx=2574 cy=259 r=7.1 /><circle class=f cx=2936 cy=284 r=7.1 /><circle class=g cx=3421 cy=584 r=7.1 /><circle class=r cx=2883 cy=995 r=7.1 /><circle class=f cx=2985 cy=360 r=7.1 /><circle class=f cx=2912 cy=336 r=7.1 /><circle class=q cx=2843 cy=809 r=7.1 /><circle class=t cx=3077 cy=918 r=7.1 /><circle class=b cx=2635 cy=124 r=7.1 /><circle class=p cx=2610 cy=772 r=7.1 /><circle class=d cx=2623 cy=828 r=7.1 /><circle class=a cx=2992 cy=597 r=7.1 /><circle class=f cx=2883 cy=413 r=7.1 /><circle class=o cx=2749 cy=897 r=7.1 /><circle class=d cx=2984 cy=473 r=7.1 /><circle class=d cx=2833 cy=717 r=7.1 /><circle class=q cx=3202 cy=848 r=7.1 /><circle class=q cx=3097 cy=398 r=7.1 /><circle class=c cx=2727 cy=373 r=7.1 /><circle class=k cx=2593 cy=257 r=7.1 /><circle class=r cx=2866 cy=994 r=7.1 /><circle class=e cx=2804 cy=519 r=7.1 /><circle class=p cx=2586 cy=813 r=7.1 /><circle class=h cx=2885 cy=840 r=7.1 /><circle class=c cx=2772 cy=464 r=7.1 /><circle class=f cx=3062 cy=398 r=7.1 /><circle class=c cx=2502 cy=302 r=7.1 /><circle class=h cx=2611 cy=665 r=7.1 /><circle class=p cx=2483 cy=529 r=7.1 /><circle class=j cx=3306 cy=729 r=7.1 /><circle class=c cx=2780 cy=289 r=7.1 /><circle class=k cx=3057 cy=573 r=7.1 /><circle class=b cx=2682 cy=85 r=7.1 /><circle class=c cx=2635 cy=480 r=7.1 /><circle class=p cx=2640 cy=382 r=7.1 /><circle class=q cx=3211 cy=849 r=7.1 /><circle class=p cx=2550 cy=874 r=7.1 /><circle class=c cx=2724 cy=325 r=7.1 /><circle class=c cx=3009 cy=282 r=7.1 /><circle class=f cx=3038 cy=336 r=7.1 /><circle class=d cx=2740 cy=825 r=7.1 /><circle class=h cx=2720 cy=740 r=7.1 /><circle class=m cx=2697 cy=666 r=7.1 /><circle class=m cx=2893 cy=771 r=7.1 /><circle class=d cx=2672 cy=343 r=7.1 /><circle class=a cx=2535 cy=416 r=7.1 /><circle class=q cx=2862 cy=397 r=7.1 /><circle class=r cx=2514 cy=272 r=7.1 /><circle class=i cx=2910 cy=70 r=7.1 /><circle class=q cx=3092 cy=722 r=7.1 /><circle class=d cx=2772 cy=831 r=7.1 /><circle class=f cx=3026 cy=321 r=7.1 /><circle class=q cx=2846 cy=515 r=7.1 /><circle class=e cx=3191 cy=585 r=7.1 /><circle class=k cx=2627 cy=203 r=7.1 /><circle class=c cx=2660 cy=434 r=7.1 /><circle class=p cx=2694 cy=841 r=7.1 /><circle class=e cx=3185 cy=469 r=7.1 /><circle class=m cx=2792 cy=708 r=7.1 /><circle class=t cx=3082 cy=875 r=7.1 /><circle class=i cx=3163 cy=145 r=7.1 /><circle class=t cx=3037 cy=821 r=7.1 /><circle class=c cx=2775 cy=271 r=7.1 /><circle class=q cx=2813 cy=490 r=7.1 /><circle class=f cx=3043 cy=351 r=7.1 /><circle class=p cx=2574 cy=463 r=7.1 /><circle class=c cx=2647 cy=512 r=7.1 /><circle class=t cx=3356 cy=392 r=7.1 /><circle class=a cx=2973 cy=602 r=7.1 /><circle class=c cx=2772 cy=474 r=7.1 /><circle class=j cx=3241 cy=732 r=7.1 /><circle class=t cx=3166 cy=934 r=7.1 /><circle class=j cx=2989 cy=463 r=7.1 /><circle class=k cx=2532 cy=533 r=7.1 /><circle class=p cx=2669 cy=713 r=7.1 /><circle class=n cx=2427 cy=569 r=7.1 /><circle class=a cx=2993 cy=570 r=7.1 /><circle class=n cx=2487 cy=466 r=7.1 /><circle class=q cx=2574 cy=910 r=7.1 /><circle class=e cx=2894 cy=365 r=7.1 /><circle class=c cx=2736 cy=306 r=7.1 /><circle class=q cx=2803 cy=462 r=7.1 /><circle class=h cx=2564 cy=557 r=7.1 /><circle class=d cx=2709 cy=493 r=7.1 /><circle class=c cx=2777 cy=371 r=7.1 /><circle class=e cx=3162 cy=328 r=7.1 /><circle class=a cx=3027 cy=150 r=7.1 /><circle class=b cx=2747 cy=175 r=7.1 /><circle class=i cx=2947 cy=82 r=7.1 /><circle class=o cx=3055 cy=822 r=7.1 /><circle class=j cx=3190 cy=628 r=7.1 /><circle class=k cx=3023 cy=503 r=7.1 /><circle class=p cx=2585 cy=875 r=7.1 /><circle class=l cx=2940 cy=721 r=7.1 /><circle class=q cx=3135 cy=583 r=7.1 /><circle class=d cx=2685 cy=479 r=7.1 /><circle class=q cx=2868 cy=834 r=7.1 /><circle class=q cx=2928 cy=623 r=7.1 /><circle class=e cx=3009 cy=512 r=7.1 /><circle class=l cx=2975 cy=706 r=7.1 /><circle class=e cx=3102 cy=277 r=7.1 /><circle class=q cx=2828 cy=486 r=7.1 /><circle class=q cx=2869 cy=468 r=7.1 /><circle class=o cx=2810 cy=888 r=7.1 /><circle class=a cx=2493 cy=385 r=7.1 /><circle class=p cx=2892 cy=810 r=7.1 /><circle class=j cx=3198 cy=686 r=7.1 /><circle class=t cx=3081 cy=885 r=7.1 /><circle class=k cx=2586 cy=238 r=7.1 /><circle class=o cx=2844 cy=831 r=7.1 /><circle class=d cx=2707 cy=601 r=7.1 /><circle class=q cx=2813 cy=846 r=7.1 /><circle class=h cx=2945 cy=899 r=7.1 /><circle class=l cx=2947 cy=713 r=7.1 /><circle class=o cx=2797 cy=842 r=7.1 /><circle class=c cx=2489 cy=320 r=7.1 /><circle class=b cx=2727 cy=137 r=7.1 /><circle class=a cx=2967 cy=609 r=7.1 /><circle class=c cx=2624 cy=401 r=7.1 /><circle class=b cx=2730 cy=253 r=7.1 /><circle class=h cx=2625 cy=565 r=7.1 /><circle class=m cx=2763 cy=666 r=7.1 /><circle class=j cx=3142 cy=657 r=7.1 /><circle class=i cx=2930 cy=239 r=7.1 /><circle class=j cx=3173 cy=725 r=7.1 /><circle class=k cx=2905 cy=1009 r=7.1 /><circle class=c cx=2954 cy=993 r=7.1 /><circle class=c cx=2489 cy=433 r=7.1 /><circle class=p cx=2706 cy=865 r=7.1 /><circle class=r cx=2740 cy=981 r=7.1 /><circle class=e cx=3028 cy=90 r=7.1 /><circle class=f cx=3083 cy=394 r=7.1 /><circle class=j cx=3188 cy=672 r=7.1 /><circle class=j cx=3276 cy=752 r=7.1 /><circle class=d cx=2868 cy=744 r=7.1 /><circle class=i cx=2909 cy=257 r=7.1 /><circle class=s cx=3152 cy=343 r=7.1 /><circle class=e cx=3039 cy=531 r=7.1 /><circle class=m cx=2766 cy=684 r=7.1 /><circle class=c cx=2697 cy=289 r=7.1 /><circle class=l cx=2966 cy=668 r=7.1 /><circle class=i cx=2924 cy=332 r=7.1 /><circle class=o cx=2821 cy=949 r=7.1 /><circle class=j cx=3032 cy=500 r=7.1 /><circle class=c cx=2865 cy=292 r=7.1 /><circle class=q cx=2898 cy=450 r=7.1 /><circle class=b cx=2684 cy=113 r=7.1 /><circle class=f cx=3054 cy=404 r=7.1 /><circle class=h cx=3011 cy=503 r=7.1 /><circle class=c cx=2684 cy=363 r=7.1 /><circle class=b cx=3193 cy=655 r=7.1 /><circle class=h cx=2922 cy=878 r=7.1 /><circle class=i cx=2981 cy=211 r=7.1 /><circle class=o cx=2844 cy=934 r=7.1 /><circle class=j cx=3153 cy=729 r=7.1 /><circle class=i cx=3039 cy=128 r=7.1 /><circle class=o cx=2774 cy=910 r=7.1 /><circle class=i cx=3121 cy=151 r=7.1 /><circle class=p cx=2659 cy=702 r=7.1 /><circle class=q cx=3097 cy=447 r=7.1 /><circle class=h cx=2939 cy=909 r=7.1 /><circle class=q cx=2884 cy=459 r=7.1 /><circle class=b cx=2746 cy=241 r=7.1 /><circle class=c cx=2762 cy=326 r=7.1 /><circle class=k cx=3188 cy=807 r=7.1 /><circle class=j cx=3277 cy=686 r=7.1 /><circle class=c cx=2645 cy=445 r=7.1 /><circle class=c cx=2786 cy=372 r=7.1 /><circle class=a cx=2976 cy=543 r=7.1 /><circle class=o cx=2745 cy=867 r=7.1 /><circle class=o cx=2766 cy=885 r=7.1 /><circle class=j cx=3208 cy=776 r=7.1 /><circle class=c cx=2629 cy=514 r=7.1 /><circle class=d cx=2674 cy=721 r=7.1 /><circle class=m cx=2815 cy=642 r=7.1 /><circle class=h cx=2628 cy=556 r=7.1 /><circle class=d cx=2936 cy=527 r=7.1 /><circle class=i cx=2885 cy=78 r=7.1 /><circle class=i cx=2968 cy=165 r=7.1 /><circle class=h cx=2756 cy=957 r=7.1 /><circle class=c cx=2764 cy=467 r=7.1 /><circle class=o cx=2852 cy=917 r=7.1 /><circle class=l cx=2983 cy=666 r=7.1 /><circle class=p cx=2679 cy=729 r=7.1 /><circle class=f cx=3031 cy=337 r=7.1 /><circle class=t cx=2980 cy=277 r=7.1 /><circle class=d cx=2897 cy=701 r=7.1 /><circle class=k cx=2689 cy=212 r=7.1 /><circle class=i cx=2980 cy=168 r=7.1 /><circle class=m cx=2396 cy=576 r=7.1 /><circle class=d cx=2698 cy=534 r=7.1 /><circle class=r cx=2781 cy=1073 r=7.1 /><circle class=c cx=2748 cy=390 r=7.1 /><circle class=l cx=2950 cy=725 r=7.1 /><circle class=d cx=2540 cy=682 r=7.1 /><circle class=c cx=2724 cy=365 r=7.1 /><circle class=k cx=2571 cy=242 r=7.1 /><circle class=f cx=3027 cy=371 r=7.1 /><circle class=b cx=2805 cy=189 r=7.1 /><circle class=c cx=2679 cy=318 r=7.1 /><circle class=b cx=2834 cy=143 r=7.1 /><circle class=s cx=2865 cy=884 r=7.1 /><circle class=j cx=3289 cy=699 r=7.1 /><circle class=l cx=2993 cy=667 r=7.1 /><circle class=e cx=3078 cy=420 r=7.1 /><circle class=c cx=2760 cy=406 r=7.1 /><circle class=m cx=3040 cy=581 r=7.1 /><circle class=m cx=2743 cy=638 r=7.1 /><circle class=l cx=2907 cy=713 r=7.1 /><circle class=q cx=3135 cy=431 r=7.1 /><circle class=l cx=2941 cy=743 r=7.1 /><circle class=h cx=2653 cy=566 r=7.1 /><circle class=f cx=3047 cy=397 r=7.1 /><circle class=d cx=2827 cy=705 r=7.1 /><circle class=c cx=2672 cy=396 r=7.1 /><circle class=c cx=2695 cy=396 r=7.1 /><circle class=b cx=2740 cy=218 r=7.1 /><circle class=t cx=3131 cy=470 r=7.1 /><circle class=q cx=2974 cy=627 r=7.1 /><circle class=q cx=2845 cy=447 r=7.1 /><circle class=e cx=2935 cy=71 r=7.1 /><circle class=n cx=2465 cy=337 r=7.1 /><circle class=m cx=2706 cy=570 r=7.1 /><circle class=n cx=2893 cy=575 r=7.1 /><circle class=p cx=2551 cy=847 r=7.1 /><circle class=c cx=2667 cy=405 r=7.1 /><circle class=m cx=2797 cy=630 r=7.1 /><circle class=c cx=2756 cy=389 r=7.1 /><circle class=a cx=2964 cy=544 r=7.1 /><circle class=r cx=2882 cy=1040 r=7.1 /><circle class=m cx=2699 cy=616 r=7.1 /><circle class=i cx=2976 cy=254 r=7.1 /><circle class=j cx=3179 cy=705 r=7.1 /><circle class=o cx=2944 cy=977 r=7.1 /><circle class=g cx=3084 cy=223 r=7.1 /><circle class=e cx=2992 cy=490 r=7.1 /><circle class=p cx=2510 cy=475 r=7.1 /><circle class=o cx=2956 cy=963 r=7.1 /><circle class=d cx=2918 cy=699 r=7.1 /><circle class=e cx=3175 cy=217 r=7.1 /><circle class=n cx=3105 cy=268 r=7.1 /><circle class=q cx=3050 cy=579 r=7.1 /><circle class=q cx=2832 cy=475 r=7.1 /><circle class=i cx=2971 cy=73 r=7.1 /><circle class=r cx=2791 cy=1053 r=7.1 /><circle class=c cx=2781 cy=343 r=7.1 /><circle class=m cx=2724 cy=681 r=7.1 /><circle class=c cx=2747 cy=460 r=7.1 /><circle class=f cx=2951 cy=328 r=7.1 /><circle class=p cx=2704 cy=842 r=7.1 /><circle class=d cx=2879 cy=86 r=7.1 /><circle class=j cx=3335 cy=719 r=7.1 /><circle class=o cx=2819 cy=807 r=7.1 /><circle class=n cx=2884 cy=576 r=7.1 /><circle class=c cx=2669 cy=462 r=7.1 /><circle class=c cx=2762 cy=443 r=7.1 /><circle class=m cx=2685 cy=680 r=7.1 /><circle class=q cx=3101 cy=406 r=7.1 /><circle class=a cx=2944 cy=577 r=7.1 /><circle class=f cx=2982 cy=391 r=7.1 /><circle class=i cx=3128 cy=140 r=7.1 /><circle class=m cx=2774 cy=604 r=7.1 /><circle class=f cx=3035 cy=404 r=7.1 /><circle class=t cx=3132 cy=913 r=7.1 /><circle class=o cx=2803 cy=973 r=7.1 /><circle class=n cx=3071 cy=719 r=7.1 /><circle class=b cx=2711 cy=133 r=7.1 /><circle class=r cx=2954 cy=386 r=7.1 /><circle class=h cx=2948 cy=914 r=7.1 /><circle class=p cx=2640 cy=757 r=7.1 /><circle class=h cx=2540 cy=581 r=7.1 /><circle class=j cx=3316 cy=722 r=7.1 /><circle class=e cx=3221 cy=511 r=7.1 /><circle class=r cx=2681 cy=207 r=7.1 /><circle class=b cx=2859 cy=250 r=7.1 /><circle class=c cx=2815 cy=368 r=7.1 /><circle class=o cx=2769 cy=863 r=7.1 /><circle class=t cx=3191 cy=819 r=7.1 /><circle class=q cx=2913 cy=492 r=7.1 /><circle class=i cx=3125 cy=228 r=7.1 /><circle class=b cx=2534 cy=259 r=7.1 /><circle class=b cx=2836 cy=251 r=7.1 /><circle class=g cx=3346 cy=666 r=7.1 /><circle class=r cx=2833 cy=1036 r=7.1 /><circle class=p cx=2534 cy=821 r=7.1 /><circle class=r cx=2744 cy=997 r=7.1 /><circle class=o cx=2917 cy=929 r=7.1 /><circle class=j cx=3239 cy=771 r=7.1 /><circle class=o cx=2832 cy=951 r=7.1 /><circle class=k cx=2551 cy=458 r=7.1 /><circle class=i cx=3100 cy=98 r=7.1 /><circle class=s cx=3256 cy=379 r=7.1 /><circle class=r cx=2781 cy=988 r=7.1 /><circle class=c cx=2671 cy=375 r=7.1 /><circle class=b cx=2734 cy=156 r=7.1 /><circle class=i cx=2569 cy=586 r=7.1 /><circle class=b cx=2708 cy=92 r=7.1 /><circle class=c cx=2628 cy=461 r=7.1 /><circle class=d cx=3335 cy=562 r=7.1 /><circle class=q cx=2585 cy=867 r=7.1 /><circle class=m cx=3040 cy=572 r=7.1 /><circle class=c cx=2739 cy=293 r=7.1 /><circle class=t cx=3157 cy=882 r=7.1 /><circle class=f cx=2916 cy=326 r=7.1 /><circle class=k cx=2617 cy=370 r=7.1 /><circle class=l cx=2961 cy=685 r=7.1 /><circle class=q cx=3015 cy=681 r=7.1 /><circle class=q cx=2906 cy=527 r=7.1 /><circle class=e cx=3104 cy=626 r=7.1 /><circle class=b cx=2774 cy=259 r=7.1 /><circle class=q cx=3237 cy=785 r=7.1 /><circle class=r cx=2844 cy=1050 r=7.1 /><circle class=o cx=2893 cy=917 r=7.1 /><circle class=i cx=2772 cy=130 r=7.1 /><circle class=r cx=2826 cy=1030 r=7.1 /><circle class=c cx=2755 cy=518 r=7.1 /><circle class=h cx=2973 cy=917 r=7.1 /><circle class=a cx=2744 cy=261 r=7.1 /><circle class=g cx=3262 cy=565 r=7.1 /><circle class=t cx=3221 cy=840 r=7.1 /><circle class=m cx=2651 cy=638 r=7.1 /><circle class=c cx=2752 cy=398 r=7.1 /><circle class=a cx=2974 cy=416 r=7.1 /><circle class=g cx=3392 cy=604 r=7.1 /><circle class=m cx=3226 cy=419 r=7.1 /><circle class=j cx=2603 cy=496 r=7.1 /><circle class=c cx=2735 cy=266 r=7.1 /><circle class=c cx=2616 cy=396 r=7.1 /><circle class=m cx=3219 cy=593 r=7.1 /><circle class=f cx=3073 cy=375 r=7.1 /><circle class=b cx=2761 cy=122 r=7.1 /><circle class=o cx=2784 cy=919 r=7.1 /><circle class=e cx=3137 cy=325 r=7.1 /><circle class=c cx=2755 cy=451 r=7.1 /><circle class=j cx=3401 cy=645 r=7.1 /><circle class=b cx=2792 cy=156 r=7.1 /><circle class=e cx=3189 cy=335 r=7.1 /><circle class=b cx=3119 cy=422 r=7.1 /><circle class=c cx=3308 cy=587 r=7.1 /><circle class=d cx=2874 cy=656 r=7.1 /><circle class=m cx=2762 cy=677 r=7.1 /><circle class=c cx=2771 cy=286 r=7.1 /><circle class=o cx=2933 cy=948 r=7.1 /><circle class=n cx=2476 cy=682 r=7.1 /><circle class=e cx=2922 cy=543 r=7.1 /><circle class=t cx=3073 cy=487 r=7.1 /><circle class=c cx=2523 cy=299 r=7.1 /><circle class=j cx=3015 cy=235 r=7.1 /><circle class=f cx=2936 cy=376 r=7.1 /><circle class=m cx=2725 cy=631 r=7.1 /><circle class=c cx=2631 cy=453 r=7.1 /><circle class=h cx=2923 cy=585 r=7.1 /><circle class=i cx=3118 cy=204 r=7.1 /><circle class=r cx=3027 cy=981 r=7.1 /><circle class=j cx=3286 cy=665 r=7.1 /><circle class=i cx=2854 cy=82 r=7.1 /><circle class=k cx=2610 cy=274 r=7.1 /><circle class=a cx=2769 cy=241 r=7.1 /><circle class=a cx=2534 cy=426 r=7.1 /><circle class=h cx=2556 cy=504 r=7.1 /><circle class=p cx=2615 cy=763 r=7.1 /><circle class=e cx=3142 cy=250 r=7.1 /><circle class=o cx=2834 cy=914 r=7.1 /><circle class=j cx=3134 cy=454 r=7.1 /><circle class=r cx=2775 cy=1063 r=7.1 /><circle class=n cx=2421 cy=577 r=7.1 /><circle class=c cx=2696 cy=277 r=7.1 /><circle class=f cx=3031 cy=363 r=7.1 /><circle class=i cx=2935 cy=319 r=7.1 /><circle class=f cx=3176 cy=439 r=7.1 /><circle class=a cx=2448 cy=379 r=7.1 /><circle class=h cx=2944 cy=833 r=7.1 /><circle class=p cx=2667 cy=694 r=7.1 /><circle class=f cx=2981 cy=409 r=7.1 /><circle class=o cx=2801 cy=924 r=7.1 /><circle class=e cx=3035 cy=452 r=7.1 /><circle class=c cx=2720 cy=232 r=7.1 /><circle class=p cx=2588 cy=446 r=7.1 /><circle class=b cx=2730 cy=285 r=7.1 /><circle class=e cx=3086 cy=622 r=7.1 /><circle class=p cx=2526 cy=453 r=7.1 /><circle class=b cx=2817 cy=198 r=7.1 /><circle class=f cx=2966 cy=381 r=7.1 /><circle class=n cx=3156 cy=551 r=7.1 /><circle class=n cx=2453 cy=628 r=7.1 /><circle class=b cx=2879 cy=259 r=7.1 /><circle class=j cx=3170 cy=676 r=7.1 /><circle class=e cx=3172 cy=524 r=7.1 /><circle class=c cx=2458 cy=343 r=7.1 /><circle class=i cx=2877 cy=75 r=7.1 /><circle class=e cx=3054 cy=457 r=7.1 /><circle class=c cx=2736 cy=383 r=7.1 /><circle class=h cx=2608 cy=578 r=7.1 /><circle class=t cx=3107 cy=966 r=7.1 /><circle class=a cx=2979 cy=609 r=7.1 /><circle class=d cx=2878 cy=747 r=7.1 /><circle class=o cx=2755 cy=867 r=7.1 /><circle class=t cx=3133 cy=992 r=7.1 /><circle class=l cx=2942 cy=686 r=7.1 /><circle class=f cx=3023 cy=520 r=7.1 /><circle class=e cx=2829 cy=565 r=7.1 /><circle class=e cx=2984 cy=561 r=7.1 /><circle class=f cx=3084 cy=412 r=7.1 /><circle class=f cx=2990 cy=376 r=7.1 /><circle class=n cx=2513 cy=435 r=7.1 /><circle class=c cx=2524 cy=283 r=7.1 /><circle class=a cx=3010 cy=550 r=7.1 /><circle class=n cx=2414 cy=619 r=7.1 /><circle class=q cx=2774 cy=493 r=7.1 /><circle class=t cx=3021 cy=297 r=7.1 /><circle class=f cx=3012 cy=352 r=7.1 /><circle class=l cx=2989 cy=706 r=7.1 /><circle class=i cx=3090 cy=128 r=7.1 /><circle class=j cx=3295 cy=625 r=7.1 /><circle class=s cx=2764 cy=113 r=7.1 /><circle class=c cx=2726 cy=316 r=7.1 /><circle class=t cx=3333 cy=395 r=7.1 /><circle class=p cx=2637 cy=509 r=7.1 /><circle class=b cx=3119 cy=735 r=7.1 /><circle class=c cx=2714 cy=460 r=7.1 /><circle class=p cx=2582 cy=470 r=7.1 /><circle class=o cx=2789 cy=1021 r=7.1 /><circle class=m cx=2659 cy=671 r=7.1 /><circle class=o cx=2695 cy=964 r=7.1 /><circle class=j cx=3181 cy=686 r=7.1 /><circle class=c cx=2678 cy=390 r=7.1 /><circle class=a cx=2987 cy=579 r=7.1 /><circle class=r cx=2555 cy=574 r=7.1 /><circle class=h cx=2598 cy=579 r=7.1 /><circle class=m cx=2734 cy=693 r=7.1 /><circle class=c cx=2703 cy=242 r=7.1 /><circle class=s cx=3188 cy=322 r=7.1 /><circle class=f cx=3031 cy=281 r=7.1 /><circle class=e cx=3009 cy=116 r=7.1 /><circle class=q cx=2846 cy=840 r=7.1 /><circle class=k cx=2584 cy=229 r=7.1 /><circle class=c cx=2750 cy=406 r=7.1 /><circle class=c cx=2671 cy=420 r=7.1 /><circle class=s cx=3200 cy=419 r=7.1 /><circle class=o cx=2723 cy=928 r=7.1 /><circle class=h cx=2820 cy=742 r=7.1 /><circle class=d cx=2576 cy=530 r=7.1 /><circle class=f cx=3052 cy=348 r=7.1 /><circle class=o cx=2736 cy=929 r=7.1 /><circle class=c cx=3122 cy=725 r=7.1 /><circle class=j cx=2933 cy=248 r=7.1 /><circle class=p cx=2558 cy=880 r=7.1 /><circle class=t cx=3031 cy=958 r=7.1 /><circle class=n cx=2749 cy=601 r=7.1 /><circle class=h cx=3146 cy=556 r=7.1 /><circle class=h cx=2930 cy=900 r=7.1 /><circle class=i cx=3019 cy=121 r=7.1 /><circle class=l cx=2943 cy=704 r=7.1 /><circle class=q cx=2874 cy=494 r=7.1 /><circle class=h cx=2798 cy=292 r=7.1 /><circle class=k cx=2622 cy=412 r=7.1 /><circle class=f cx=2892 cy=331 r=7.1 /><circle class=i cx=2887 cy=58 r=7.1 /><circle class=c cx=2669 cy=521 r=7.1 /><circle class=h cx=2980 cy=864 r=7.1 /><circle class=h cx=3194 cy=475 r=7.1 /><circle class=a cx=2947 cy=566 r=7.1 /><circle class=d cx=2676 cy=880 r=7.1 /><circle class=m cx=2726 cy=658 r=7.1 /><circle class=d cx=2917 cy=745 r=7.1 /><circle class=b cx=2980 cy=229 r=7.1 /><circle class=j cx=3284 cy=763 r=7.1 /><circle class=o cx=2840 cy=961 r=7.1 /><circle class=a cx=3162 cy=426 r=7.1 /><circle class=b cx=2728 cy=80 r=7.1 /><circle class=i cx=2901 cy=68 r=7.1 /><circle class=m cx=2715 cy=616 r=7.1 /><circle class=o cx=2851 cy=1014 r=7.1 /><circle class=k cx=2574 cy=216 r=7.1 /><circle class=c cx=3146 cy=390 r=7.1 /><circle class=o cx=2821 cy=925 r=7.1 /><circle class=a cx=2929 cy=519 r=7.1 /><circle class=m cx=2787 cy=617 r=7.1 /><circle class=h cx=2929 cy=865 r=7.1 /><circle class=h cx=2608 cy=680 r=7.1 /><circle class=d cx=2768 cy=774 r=7.1 /><circle class=m cx=3049 cy=568 r=7.1 /><circle class=b cx=2707 cy=124 r=7.1 /><circle class=c cx=2788 cy=381 r=7.1 /><circle class=n cx=2523 cy=435 r=7.1 /><circle class=c cx=2735 cy=320 r=7.1 /><circle class=e cx=2973 cy=440 r=7.1 /><circle class=q cx=2827 cy=556 r=7.1 /><circle class=o cx=2765 cy=898 r=7.1 /><circle class=p cx=2632 cy=889 r=7.1 /><circle class=a cx=3152 cy=536 r=7.1 /><circle class=d cx=2726 cy=552 r=7.1 /><circle class=f cx=2902 cy=346 r=7.1 /><circle class=r cx=2805 cy=1059 r=7.1 /><circle class=p cx=2633 cy=801 r=7.1 /><circle class=b cx=2785 cy=82 r=7.1 /><circle class=m cx=2806 cy=645 r=7.1 /><circle class=a cx=2882 cy=700 r=7.1 /><circle class=t cx=3104 cy=923 r=7.1 /><circle class=d cx=2493 cy=790 r=7.1 /><circle class=j cx=3347 cy=677 r=7.1 /><circle class=c cx=2580 cy=513 r=7.1 /><circle class=c cx=2745 cy=435 r=7.1 /><circle class=n cx=3024 cy=131 r=7.1 /><circle class=d cx=3154 cy=478 r=7.1 /><circle class=n cx=2487 cy=305 r=7.1 /><circle class=l cx=2920 cy=675 r=7.1 /><circle class=q cx=2879 cy=802 r=7.1 /><circle class=p cx=2700 cy=834 r=7.1 /><circle class=b cx=2721 cy=173 r=7.1 /><circle class=i cx=2870 cy=258 r=7.1 /><circle class=r cx=2750 cy=1035 r=7.1 /><circle class=b cx=2864 cy=218 r=7.1 /><circle class=t cx=3117 cy=893 r=7.1 /><circle class=k cx=2556 cy=180 r=7.1 /><circle class=a cx=2746 cy=134 r=7.1 /><circle class=o cx=2711 cy=923 r=7.1 /><circle class=h cx=2605 cy=546 r=7.1 /><circle class=j cx=3124 cy=707 r=7.1 /><circle class=j cx=3276 cy=765 r=7.1 /><circle class=l cx=2949 cy=659 r=7.1 /><circle class=j cx=3172 cy=686 r=7.1 /><circle class=p cx=2589 cy=726 r=7.1 /><circle class=q cx=2932 cy=506 r=7.1 /><circle class=d cx=2688 cy=568 r=7.1 /><circle class=p cx=2942 cy=507 r=7.1 /><circle class=f cx=3017 cy=334 r=7.1 /><circle class=o cx=2968 cy=903 r=7.1 /><circle class=c cx=2779 cy=394 r=7.1 /><circle class=h cx=2633 cy=529 r=7.1 /><circle class=n cx=2781 cy=680 r=7.1 /><circle class=p cx=2566 cy=801 r=7.1 /><circle class=q cx=3118 cy=444 r=7.1 /><circle class=a cx=2523 cy=369 r=7.1 /><circle class=f cx=3044 cy=381 r=7.1 /><circle class=d cx=2872 cy=686 r=7.1 /><circle class=c cx=2692 cy=308 r=7.1 /><circle class=e cx=3179 cy=337 r=7.1 /><circle class=i cx=3189 cy=637 r=7.1 /><circle class=d cx=2688 cy=821 r=7.1 /><circle class=e cx=3025 cy=570 r=7.1 /><circle class=h cx=2961 cy=834 r=7.1 /><circle class=o cx=2845 cy=970 r=7.1 /><circle class=h cx=2511 cy=496 r=7.1 /><circle class=r cx=2868 cy=966 r=7.1 /><circle class=c cx=2679 cy=463 r=7.1 /><circle class=o cx=2824 cy=968 r=7.1 /><circle class=b cx=2684 cy=234 r=7.1 /><circle class=d cx=2829 cy=679 r=7.1 /><circle class=j cx=3245 cy=668 r=7.1 /><circle class=q cx=3079 cy=712 r=7.1 /><circle class=a cx=3000 cy=429 r=7.1 /><circle class=d cx=2889 cy=677 r=7.1 /><circle class=o cx=2724 cy=918 r=7.1 /><circle class=i cx=2861 cy=159 r=7.1 /><circle class=q cx=2880 cy=420 r=7.1 /><circle class=f cx=2924 cy=405 r=7.1 /><circle class=i cx=2860 cy=279 r=7.1 /><circle class=c cx=2718 cy=347 r=7.1 /><circle class=a cx=2804 cy=262 r=7.1 /><circle class=r cx=2768 cy=1037 r=7.1 /><circle class=f cx=2925 cy=427 r=7.1 /><circle class=m cx=3234 cy=424 r=7.1 /><circle class=m cx=2811 cy=633 r=7.1 /><circle class=g cx=3429 cy=603 r=7.1 /><circle class=b cx=3195 cy=616 r=7.1 /><circle class=i cx=2880 cy=107 r=7.1 /><circle class=a cx=3011 cy=430 r=7.1 /><circle class=p cx=2553 cy=794 r=7.1 /><circle class=j cx=3255 cy=684 r=7.1 /><circle class=a cx=3056 cy=176 r=7.1 /><circle class=m cx=2767 cy=712 r=7.1 /><circle class=d cx=3022 cy=248 r=7.1 /><circle class=a cx=3065 cy=233 r=7.1 /><circle class=e cx=3079 cy=461 r=7.1 /><circle class=t cx=2921 cy=794 r=7.1 /><circle class=t cx=3166 cy=878 r=7.1 /><circle class=o cx=2811 cy=898 r=7.1 /><circle class=c cx=2636 cy=446 r=7.1 /><circle class=q cx=3074 cy=435 r=7.1 /><circle class=d cx=2884 cy=714 r=7.1 /><circle class=k cx=2578 cy=148 r=7.1 /><circle class=t cx=3218 cy=878 r=7.1 /><circle class=b cx=2654 cy=170 r=7.1 /><circle class=s cx=3219 cy=383 r=7.1 /><circle class=i cx=2823 cy=121 r=7.1 /><circle class=l cx=2979 cy=741 r=7.1 /><circle class=e cx=2826 cy=534 r=7.1 /><circle class=d cx=2806 cy=683 r=7.1 /><circle class=d cx=2767 cy=722 r=7.1 /><circle class=k cx=2578 cy=280 r=7.1 /><circle class=e cx=3035 cy=540 r=7.1 /><circle class=f cx=3117 cy=350 r=7.1 /><circle class=c cx=2757 cy=481 r=7.1 /><circle class=c cx=2650 cy=412 r=7.1 /><circle class=a cx=2983 cy=568 r=7.1 /><circle class=b cx=2712 cy=243 r=7.1 /><circle class=k cx=3130 cy=489 r=7.1 /><circle class=j cx=3262 cy=784 r=7.1 /><circle class=d cx=2911 cy=677 r=7.1 /><circle class=o cx=2811 cy=949 r=7.1 /><circle class=p cx=2676 cy=786 r=7.1 /><circle class=j cx=3129 cy=1002 r=7.1 /><circle class=m cx=2739 cy=700 r=7.1 /><circle class=s cx=2781 cy=1027 r=7.1 /><circle class=e cx=3016 cy=53 r=7.1 /><circle class=h cx=3156 cy=828 r=7.1 /><circle class=t cx=3033 cy=831 r=7.1 /><circle class=p cx=2629 cy=790 r=7.1 /><circle class=p cx=2665 cy=757 r=7.1 /><circle class=t cx=3133 cy=883 r=7.1 /><circle class=h cx=2634 cy=613 r=7.1 /><circle class=s cx=3184 cy=429 r=7.1 /><circle class=d cx=2716 cy=814 r=7.1 /><circle class=p cx=2730 cy=833 r=7.1 /><circle class=c cx=2640 cy=409 r=7.1 /><circle class=i cx=2892 cy=122 r=7.1 /><circle class=c cx=2614 cy=387 r=7.1 /><circle class=l cx=3232 cy=626 r=7.1 /><circle class=m cx=2721 cy=673 r=7.1 /><circle class=t cx=3158 cy=919 r=7.1 /><circle class=r cx=2804 cy=377 r=7.1 /><circle class=i cx=2959 cy=107 r=7.1 /><circle class=h cx=2491 cy=521 r=7.1 /><circle class=p cx=3168 cy=770 r=7.1 /><circle class=e cx=2880 cy=522 r=7.1 /><circle class=h cx=2643 cy=632 r=7.1 /><circle class=r cx=2844 cy=1059 r=7.1 /><circle class=s cx=3298 cy=712 r=7.1 /><circle class=b cx=2626 cy=496 r=7.1 /><circle class=t cx=3177 cy=852 r=7.1 /><circle class=f cx=2873 cy=425 r=7.1 /><circle class=f cx=3032 cy=291 r=7.1 /><circle class=r cx=2774 cy=1081 r=7.1 /><circle class=h cx=2527 cy=606 r=7.1 /><circle class=a cx=2914 cy=653 r=7.1 /><circle class=a cx=3030 cy=208 r=7.1 /><circle class=d cx=2785 cy=564 r=7.1 /><circle class=h cx=2528 cy=542 r=7.1 /><circle class=e cx=3117 cy=323 r=7.1 /><circle class=r cx=2827 cy=1056 r=7.1 /><circle class=n cx=2424 cy=683 r=7.1 /><circle class=e cx=3097 cy=426 r=7.1 /><circle class=i cx=3165 cy=785 r=7.1 /><circle class=j cx=3166 cy=716 r=7.1 /><circle class=m cx=3131 cy=446 r=7.1 /><circle class=o cx=2834 cy=923 r=7.1 /><circle class=a cx=2723 cy=153 r=7.1 /><circle class=r cx=2799 cy=982 r=7.1 /><circle class=a cx=2702 cy=507 r=7.1 /><circle class=t cx=3115 cy=837 r=7.1 /><circle class=m cx=3078 cy=528 r=7.1 /><circle class=m cx=2825 cy=662 r=7.1 /><circle class=s cx=3226 cy=428 r=7.1 /><circle class=b cx=2951 cy=983 r=7.1 /><circle class=a cx=2785 cy=196 r=7.1 /><circle class=q cx=2852 cy=372 r=7.1 /><circle class=g cx=3327 cy=507 r=7.1 /><circle class=d cx=2683 cy=509 r=7.1 /><circle class=t cx=3156 cy=863 r=7.1 /><circle class=q cx=2809 cy=443 r=7.1 /><circle class=p cx=2734 cy=859 r=7.1 /><circle class=t cx=3130 cy=863 r=7.1 /><circle class=r cx=3053 cy=219 r=7.1 /><circle class=p cx=2586 cy=771 r=7.1 /><circle class=m cx=2978 cy=552 r=7.1 /><circle class=o cx=2813 cy=879 r=7.1 /><circle class=a cx=2942 cy=471 r=7.1 /><circle class=o cx=2729 cy=936 r=7.1 /><circle class=r cx=2794 cy=1044 r=7.1 /><circle class=t cx=3159 cy=929 r=7.1 /><circle class=k cx=2577 cy=225 r=7.1 /><circle class=p cx=2545 cy=735 r=7.1 /><circle class=a cx=3142 cy=450 r=7.1 /><circle class=s cx=3154 cy=371 r=7.1 /><circle class=s cx=3327 cy=414 r=7.1 /><circle class=b cx=2783 cy=135 r=7.1 /><circle class=d cx=2710 cy=476 r=7.1 /><circle class=f cx=2991 cy=425 r=7.1 /><circle class=d cx=2722 cy=609 r=7.1 /><circle class=c cx=2835 cy=358 r=7.1 /><circle class=s cx=3171 cy=317 r=7.1 /><circle class=f cx=2947 cy=392 r=7.1 /><circle class=c cx=2639 cy=253 r=7.1 /><circle class=a cx=2952 cy=455 r=7.1 /><circle class=c cx=2642 cy=289 r=7.1 /><circle class=f cx=3132 cy=363 r=7.1 /><circle class=f cx=2965 cy=312 r=7.1 /><circle class=i cx=3150 cy=174 r=7.1 /><circle class=i cx=3175 cy=139 r=7.1 /><circle class=h cx=2949 cy=871 r=7.1 /><circle class=i cx=2780 cy=148 r=7.1 /><circle class=n cx=3140 cy=710 r=7.1 /><circle class=s cx=3132 cy=333 r=7.1 /><circle class=m cx=2694 cy=683 r=7.1 /><circle class=m cx=3066 cy=695 r=7.1 /><circle class=m cx=2616 cy=644 r=7.1 /><circle class=m cx=2766 cy=700 r=7.1 /><circle class=p cx=2600 cy=424 r=7.1 /><circle class=g cx=3362 cy=600 r=7.1 /><circle class=q cx=3071 cy=563 r=7.1 /><circle class=e cx=3166 cy=693 r=7.1 /><circle class=b cx=2718 cy=97 r=7.1 /><circle class=q cx=3224 cy=821 r=7.1 /><circle class=j cx=3052 cy=326 r=7.1 /><circle class=j cx=3241 cy=761 r=7.1 /><circle class=q cx=2793 cy=485 r=7.1 /><circle class=p cx=2713 cy=524 r=7.1 /><circle class=m cx=2779 cy=634 r=7.1 /><circle class=h cx=2799 cy=345 r=7.1 /><circle class=e cx=3273 cy=556 r=7.1 /><circle class=o cx=2836 cy=847 r=7.1 /><circle class=f cx=2948 cy=407 r=7.1 /><circle class=d cx=2688 cy=486 r=7.1 /><circle class=d cx=3273 cy=525 r=7.1 /><circle class=i cx=2882 cy=232 r=7.1 /><circle class=q cx=2884 cy=480 r=7.1 /><circle class=o cx=2779 cy=967 r=7.1 /><circle class=o cx=2998 cy=948 r=7.1 /><circle class=k cx=2556 cy=492 r=7.1 /><circle class=o cx=2786 cy=942 r=7.1 /><circle class=h cx=3166 cy=554 r=7.1 /><circle class=g cx=2975 cy=802 r=7.1 /><circle class=t cx=3208 cy=227 r=7.1 /><circle class=t cx=3125 cy=887 r=7.1 /><circle class=d cx=2917 cy=531 r=7.1 /><circle class=h cx=2435 cy=388 r=7.1 /><circle class=l cx=2949 cy=693 r=7.1 /><circle class=p cx=2635 cy=729 r=7.1 /><circle class=c cx=2480 cy=337 r=7.1 /><circle class=k cx=2612 cy=461 r=7.1 /><circle class=i cx=3029 cy=122 r=7.1 /><circle class=k cx=2601 cy=229 r=7.1 /><circle class=h cx=2477 cy=466 r=7.1 /><circle class=o cx=2765 cy=872 r=7.1 /><circle class=f cx=3020 cy=412 r=7.1 /><circle class=m cx=2931 cy=46 r=7.1 /><circle class=s cx=3187 cy=370 r=7.1 /><circle class=c cx=2641 cy=498 r=7.1 /><circle class=p cx=2686 cy=874 r=7.1 /><circle class=c cx=2754 cy=414 r=7.1 /><circle class=c cx=2504 cy=283 r=7.1 /><circle class=c cx=2873 cy=331 r=7.1 /><circle class=q cx=2852 cy=876 r=7.1 /><circle class=s cx=3006 cy=605 r=7.1 /><circle class=s cx=3222 cy=356 r=7.1 /><circle class=a cx=3053 cy=193 r=7.1 /><circle class=f cx=2907 cy=929 r=7.1 /><circle class=g cx=3386 cy=643 r=7.1 /><circle class=m cx=2712 cy=228 r=7.1 /><circle class=i cx=2927 cy=131 r=7.1 /><circle class=c cx=2629 cy=314 r=7.1 /><circle class=o cx=2759 cy=879 r=7.1 /><circle class=t cx=3105 cy=806 r=7.1 /><circle class=e cx=3147 cy=158 r=7.1 /><circle class=s cx=3158 cy=351 r=7.1 /><circle class=f cx=2921 cy=441 r=7.1 /><circle class=f cx=3065 cy=495 r=7.1 /><circle class=p cx=2478 cy=449 r=7.1 /><circle class=m cx=2683 cy=642 r=7.1 /><circle class=m cx=2759 cy=694 r=7.1 /><circle class=h cx=2506 cy=486 r=7.1 /><circle class=o cx=3086 cy=445 r=7.1 /><circle class=i cx=2851 cy=122 r=7.1 /><circle class=o cx=2837 cy=1003 r=7.1 /><circle class=k cx=2460 cy=383 r=7.1 /><circle class=q cx=3089 cy=509 r=7.1 /><circle class=g cx=2747 cy=988 r=7.1 /><circle class=j cx=3188 cy=773 r=7.1 /><circle class=q cx=3245 cy=799 r=7.1 /><circle class=n cx=2513 cy=588 r=7.1 /><circle class=m cx=2774 cy=586 r=7.1 /><circle class=b cx=2651 cy=179 r=7.1 /><circle class=m cx=2865 cy=657 r=7.1 /><circle class=c cx=2774 cy=530 r=7.1 /><circle class=j cx=3282 cy=721 r=7.1 /><circle class=f cx=3004 cy=351 r=7.1 /><circle class=c cx=2704 cy=336 r=7.1 /><circle class=i cx=2775 cy=85 r=7.1 /><circle class=p cx=2872 cy=796 r=7.1 /><circle class=h cx=2629 cy=898 r=7.1 /><circle class=c cx=2771 cy=399 r=7.1 /><circle class=s cx=2865 cy=681 r=7.1 /><circle class=b cx=2820 cy=208 r=7.1 /><circle class=h cx=2527 cy=491 r=7.1 /><circle class=c cx=2634 cy=429 r=7.1 /><circle class=i cx=2871 cy=364 r=7.1 /><circle class=t cx=3177 cy=900 r=7.1 /><circle class=c cx=2760 cy=295 r=7.1 /><circle class=o cx=2683 cy=928 r=7.1 /><circle class=r cx=2953 cy=1033 r=7.1 /><circle class=d cx=2851 cy=752 r=7.1 /><circle class=j cx=3082 cy=659 r=7.1 /><circle class=c cx=2786 cy=334 r=7.1 /><circle class=j cx=3278 cy=743 r=7.1 /><circle class=g cx=3364 cy=630 r=7.1 /><circle class=f cx=2883 cy=291 r=7.1 /><circle class=o cx=2786 cy=845 r=7.1 /><circle class=e cx=3133 cy=264 r=7.1 /><circle class=n cx=2538 cy=246 r=7.1 /><circle class=p cx=2753 cy=772 r=7.1 /><circle class=l cx=2991 cy=683 r=7.1 /><circle class=c cx=2713 cy=335 r=7.1 /><circle class=t cx=3201 cy=275 r=7.1 /><circle class=k cx=2532 cy=480 r=7.1 /><circle class=b cx=2724 cy=223 r=7.1 /><circle class=b cx=2740 cy=181 r=7.1 /><circle class=j cx=3268 cy=731 r=7.1 /><circle class=c cx=2835 cy=367 r=7.1 /><circle class=c cx=2737 cy=340 r=7.1 /><circle class=n cx=2777 cy=645 r=7.1 /><circle class=n cx=2518 cy=469 r=7.1 /><circle class=e cx=3135 cy=554 r=7.1 /><circle class=e cx=2984 cy=418 r=7.1 /><circle class=h cx=2560 cy=582 r=7.1 /><circle class=n cx=2459 cy=590 r=7.1 /><circle class=o cx=2739 cy=834 r=7.1 /><circle class=i cx=3166 cy=181 r=7.1 /><circle class=g cx=3256 cy=535 r=7.1 /><circle class=e cx=3122 cy=677 r=7.1 /><circle class=t cx=3090 cy=882 r=7.1 /><circle class=g cx=2931 cy=776 r=7.1 /><circle class=h cx=2509 cy=536 r=7.1 /><circle class=q cx=2849 cy=614 r=7.1 /><circle class=o cx=2787 cy=1004 r=7.1 /><circle class=q cx=2864 cy=427 r=7.1 /><circle class=e cx=3208 cy=525 r=7.1 /><circle class=d cx=2753 cy=490 r=7.1 /><circle class=m cx=2859 cy=637 r=7.1 /><circle class=a cx=2904 cy=150 r=7.1 /><circle class=c cx=2681 cy=373 r=7.1 /><circle class=e cx=2971 cy=549 r=7.1 /><circle class=m cx=2750 cy=703 r=7.1 /><circle class=t cx=3052 cy=835 r=7.1 /><circle class=k cx=2600 cy=373 r=7.1 /><circle class=g cx=3411 cy=646 r=7.1 /><circle class=n cx=2859 cy=597 r=7.1 /><circle class=r cx=2819 cy=1025 r=7.1 /><circle class=h cx=2580 cy=603 r=7.1 /><circle class=h cx=2633 cy=836 r=7.1 /><circle class=m cx=2501 cy=630 r=7.1 /><circle class=m cx=2780 cy=737 r=7.1 /><circle class=r cx=2828 cy=929 r=7.1 /><circle class=c cx=2670 cy=232 r=7.1 /><circle class=f cx=3040 cy=366 r=7.1 /><circle class=s cx=3217 cy=316 r=7.1 /><circle class=o cx=2804 cy=778 r=7.1 /><circle class=c cx=2675 cy=296 r=7.1 /><circle class=e cx=3223 cy=485 r=7.1 /><circle class=l cx=3019 cy=673 r=7.1 /><circle class=q cx=2843 cy=487 r=7.1 /><circle class=i cx=2972 cy=52 r=7.1 /><circle class=j cx=3189 cy=691 r=7.1 /><circle class=c cx=2521 cy=444 r=7.1 /><circle class=r cx=2967 cy=1043 r=7.1 /><circle class=o cx=3315 cy=731 r=7.1 /><circle class=b cx=2771 cy=251 r=7.1 /><circle class=b cx=2589 cy=580 r=7.1 /><circle class=t cx=3217 cy=238 r=7.1 /><circle class=f cx=2920 cy=341 r=7.1 /><circle class=m cx=2818 cy=716 r=7.1 /><circle class=a cx=2754 cy=215 r=7.1 /><circle class=m cx=3279 cy=632 r=7.1 /><circle class=m cx=2803 cy=693 r=7.1 /><circle class=h cx=2643 cy=589 r=7.1 /><circle class=m cx=2739 cy=623 r=7.1 /><circle class=i cx=2744 cy=318 r=7.1 /><circle class=j cx=3254 cy=828 r=7.1 /><circle class=b cx=2679 cy=168 r=7.1 /><circle class=p cx=2610 cy=782 r=7.1 /><circle class=c cx=2709 cy=318 r=7.1 /><circle class=d cx=2748 cy=830 r=7.1 /><circle class=t cx=3177 cy=843 r=7.1 /><circle class=p cx=2651 cy=901 r=7.1 /><circle class=m cx=2823 cy=755 r=7.1 /><circle class=l cx=2699 cy=751 r=7.1 /><circle class=k cx=2763 cy=65 r=7.1 /><circle class=b cx=2638 cy=178 r=7.1 /><circle class=p cx=2550 cy=831 r=7.1 /><circle class=k cx=2606 cy=151 r=7.1 /><circle class=l cx=2953 cy=752 r=7.1 /><circle class=m cx=2392 cy=521 r=7.1 /><circle class=h cx=2649 cy=596 r=7.1 /><circle class=s cx=3281 cy=361 r=7.1 /><circle class=c cx=2796 cy=379 r=7.1 /><circle class=d cx=2740 cy=523 r=7.1 /><circle class=c cx=2728 cy=441 r=7.1 /><circle class=t cx=3200 cy=871 r=7.1 /><circle class=t cx=3179 cy=826 r=7.1 /><circle class=s cx=3256 cy=342 r=7.1 /><circle class=m cx=2801 cy=598 r=7.1 /><circle class=i cx=2896 cy=178 r=7.1 /><circle class=a cx=3233 cy=759 r=7.1 /><circle class=d cx=2928 cy=720 r=7.1 /><circle class=p cx=2577 cy=851 r=7.1 /><circle class=q cx=3235 cy=834 r=7.1 /><circle class=b cx=2614 cy=156 r=7.1 /><circle class=f cx=3066 cy=363 r=7.1 /><circle class=m cx=2726 cy=639 r=7.1 /><circle class=l cx=3007 cy=731 r=7.1 /><circle class=c cx=2698 cy=441 r=7.1 /><circle class=q cx=2881 cy=867 r=7.1 /><circle class=m cx=3070 cy=586 r=7.1 /><circle class=p cx=2603 cy=898 r=7.1 /><circle class=e cx=3107 cy=259 r=7.1 /><circle class=c cx=2645 cy=279 r=7.1 /><circle class=n cx=2460 cy=620 r=7.1 /><circle class=d cx=2871 cy=762 r=7.1 /><circle class=p cx=2576 cy=783 r=7.1 /><circle class=i cx=3241 cy=677 r=7.1 /><circle class=q cx=2881 cy=788 r=7.1 /><circle class=i cx=2913 cy=144 r=7.1 /><circle class=h cx=2603 cy=570 r=7.1 /><circle class=p cx=2976 cy=158 r=7.1 /><circle class=e cx=3135 cy=724 r=7.1 /><circle class=q cx=2880 cy=449 r=7.1 /><circle class=m cx=3077 cy=620 r=7.1 /><circle class=f cx=2908 cy=418 r=7.1 /><circle class=d cx=2623 cy=755 r=7.1 /><circle class=t cx=3131 cy=978 r=7.1 /><circle class=p cx=2663 cy=635 r=7.1 /><circle class=c cx=2702 cy=424 r=7.1 /><circle class=i cx=2905 cy=246 r=7.1 /><circle class=o cx=2863 cy=973 r=7.1 /><circle class=a cx=2543 cy=656 r=7.1 /><circle class=f cx=2927 cy=289 r=7.1 /><circle class=c cx=2785 cy=273 r=7.1 /><circle class=e cx=3194 cy=315 r=7.1 /><circle class=o cx=2793 cy=947 r=7.1 /><circle class=e cx=3060 cy=506 r=7.1 /><circle class=f cx=3069 cy=330 r=7.1 /><circle class=m cx=2760 cy=630 r=7.1 /><circle class=a cx=3025 cy=457 r=7.1 /><circle class=m cx=3083 cy=571 r=7.1 /><circle class=j cx=3293 cy=722 r=7.1 /><circle class=j cx=3246 cy=686 r=7.1 /><circle class=b cx=2812 cy=223 r=7.1 /><circle class=m cx=3061 cy=601 r=7.1 /><circle class=o cx=3083 cy=941 r=7.1 /><circle class=i cx=2872 cy=120 r=7.1 /><circle class=m cx=3077 cy=512 r=7.1 /><circle class=h cx=2588 cy=626 r=7.1 /><circle class=g cx=3082 cy=212 r=7.1 /><circle class=g cx=3312 cy=552 r=7.1 /><circle class=c cx=2792 cy=407 r=7.1 /><circle class=s cx=3227 cy=334 r=7.1 /><circle class=t cx=3093 cy=842 r=7.1 /><circle class=e cx=2947 cy=317 r=7.1 /><circle class=g cx=3424 cy=623 r=7.1 /><circle class=q cx=2779 cy=469 r=7.1 /><circle class=p cx=2654 cy=762 r=7.1 /><circle class=p cx=2576 cy=829 r=7.1 /><circle class=o cx=2794 cy=875 r=7.1 /><circle class=t cx=3202 cy=242 r=7.1 /><circle class=d cx=2881 cy=738 r=7.1 /><circle class=b cx=2781 cy=265 r=7.1 /><circle class=d cx=2699 cy=524 r=7.1 /><circle class=o cx=2893 cy=973 r=7.1 /><circle class=j cx=3272 cy=639 r=7.1 /><circle class=c cx=2674 cy=366 r=7.1 /><circle class=p cx=2632 cy=752 r=7.1 /><circle class=b cx=2804 cy=116 r=7.1 /><circle class=k cx=2619 cy=147 r=7.1 /><circle class=s cx=2942 cy=1003 r=7.1 /><circle class=c cx=2462 cy=328 r=7.1 /><circle class=i cx=2895 cy=106 r=7.1 /><circle class=p cx=2682 cy=831 r=7.1 /><circle class=i cx=2912 cy=220 r=7.1 /><circle class=e cx=3025 cy=540 r=7.1 /><circle class=k cx=2576 cy=169 r=7.1 /><circle class=t cx=3036 cy=872 r=7.1 /><circle class=h cx=3166 cy=481 r=7.1 /><circle class=q cx=3117 cy=577 r=7.1 /><circle class=o cx=2824 cy=958 r=7.1 /><circle class=t cx=3169 cy=894 r=7.1 /><circle class=r cx=3049 cy=1012 r=7.1 /><circle class=o cx=2724 cy=956 r=7.1 /><circle class=k cx=2600 cy=248 r=7.1 /><circle class=b cx=2737 cy=138 r=7.1 /><circle class=p cx=2590 cy=801 r=7.1 /><circle class=t cx=3186 cy=895 r=7.1 /><circle class=e cx=3121 cy=237 r=7.1 /><circle class=p cx=2625 cy=670 r=7.1 /><circle class=c cx=2616 cy=340 r=7.1 /><circle class=s cx=3246 cy=460 r=7.1 /><circle class=g cx=3268 cy=532 r=7.1 /><circle class=q cx=2860 cy=433 r=7.1 /><circle class=b cx=2779 cy=245 r=7.1 /><circle class=l cx=2697 cy=740 r=7.1 /><circle class=f cx=2868 cy=318 r=7.1 /><circle class=c cx=2729 cy=357 r=7.1 /><circle class=k cx=2632 cy=161 r=7.1 /><circle class=k cx=2542 cy=530 r=7.1 /><circle class=o cx=2799 cy=956 r=7.1 /><circle class=t cx=3059 cy=877 r=7.1 /><circle class=g cx=3416 cy=639 r=7.1 /><circle class=d cx=2735 cy=546 r=7.1 /><circle class=n cx=2479 cy=670 r=7.1 /><circle class=a cx=2873 cy=733 r=7.1 /><circle class=c cx=2667 cy=315 r=7.1 /><circle class=h cx=2599 cy=588 r=7.1 /><circle class=f cx=3036 cy=374 r=7.1 /><circle class=i cx=3161 cy=532 r=7.1 /><circle class=i cx=3062 cy=271 r=7.1 /><circle class=a cx=2612 cy=538 r=7.1 /><circle class=o cx=2813 cy=909 r=7.1 /><circle class=f cx=2924 cy=364 r=7.1 /><circle class=e cx=3080 cy=452 r=7.1 /><circle class=p cx=2576 cy=862 r=7.1 /><circle class=e cx=3233 cy=534 r=7.1 /><circle class=f cx=3031 cy=431 r=7.1 /><circle class=m cx=2702 cy=656 r=7.1 /><circle class=e cx=3176 cy=481 r=7.1 /><circle class=i cx=3105 cy=185 r=7.1 /><circle class=f cx=2991 cy=435 r=7.1 /><circle class=i cx=3029 cy=801 r=7.1 /><circle class=b cx=2669 cy=172 r=7.1 /><circle class=o cx=2874 cy=919 r=7.1 /><circle class=e cx=3082 cy=485 r=7.1 /><circle class=o cx=3012 cy=828 r=7.1 /><circle class=i cx=2858 cy=187 r=7.1 /><circle class=m cx=2748 cy=671 r=7.1 /><circle class=n cx=2397 cy=622 r=7.1 /><circle class=h cx=2889 cy=631 r=7.1 /><circle class=o cx=2798 cy=992 r=7.1 /><circle class=d cx=2871 cy=673 r=7.1 /><circle class=t cx=3129 cy=1012 r=7.1 /><circle class=q cx=2826 cy=269 r=7.1 /><circle class=p cx=2481 cy=549 r=7.1 /><circle class=d cx=2923 cy=668 r=7.1 /><circle class=e cx=3101 cy=610 r=7.1 /><circle class=k cx=2584 cy=262 r=7.1 /><circle class=l cx=2915 cy=720 r=7.1 /><circle class=c cx=2518 cy=361 r=7.1 /><circle class=h cx=2480 cy=493 r=7.1 /><circle class=n cx=2525 cy=666 r=7.1 /><circle class=p cx=2463 cy=496 r=7.1 /><circle class=h cx=2958 cy=823 r=7.1 /><circle class=n cx=2437 cy=419 r=7.1 /><circle class=c cx=2775 cy=363 r=7.1 /><circle class=l cx=2905 cy=723 r=7.1 /><circle class=l cx=3020 cy=731 r=7.1 /><circle class=m cx=3051 cy=676 r=7.1 /><circle class=o cx=2876 cy=971 r=7.1 /><circle class=k cx=2472 cy=499 r=7.1 /><circle class=c cx=2711 cy=437 r=7.1 /><circle class=o cx=2752 cy=1050 r=7.1 /><circle class=i cx=2926 cy=216 r=7.1 /><circle class=k cx=2651 cy=202 r=7.1 /><circle class=k cx=3061 cy=335 r=7.1 /><circle class=k cx=2578 cy=270 r=7.1 /><circle class=q cx=2904 cy=487 r=7.1 /><circle class=e cx=3241 cy=324 r=7.1 /><circle class=q cx=2829 cy=498 r=7.1 /><circle class=b cx=2669 cy=121 r=7.1 /><circle class=k cx=3234 cy=684 r=7.1 /><circle class=c cx=2722 cy=435 r=7.1 /><circle class=l cx=3014 cy=653 r=7.1 /><circle class=n cx=2970 cy=279 r=7.1 /><circle class=f cx=3184 cy=558 r=7.1 /><circle class=r cx=2888 cy=1047 r=7.1 /><circle class=f cx=3083 cy=377 r=7.1 /><circle class=m cx=3064 cy=567 r=7.1 /><circle class=c cx=2767 cy=317 r=7.1 /><circle class=t cx=3099 cy=822 r=7.1 /><circle class=q cx=2848 cy=433 r=7.1 /><circle class=r cx=2840 cy=1042 r=7.1 /><circle class=q cx=2830 cy=518 r=7.1 /><circle class=b cx=2702 cy=131 r=7.1 /><circle class=b cx=2687 cy=140 r=7.1 /><circle class=f cx=2918 cy=378 r=7.1 /><circle class=p cx=2697 cy=515 r=7.1 /><circle class=b cx=2659 cy=266 r=7.1 /><circle class=t cx=3128 cy=512 r=7.1 /><circle class=a cx=3083 cy=234 r=7.1 /><circle class=c cx=2467 cy=321 r=7.1 /><circle class=a cx=2957 cy=565 r=7.1 /><circle class=p cx=2894 cy=791 r=7.1 /><circle class=c cx=2707 cy=389 r=7.1 /><circle class=d cx=2997 cy=144 r=7.1 /><circle class=p cx=2452 cy=419 r=7.1 /><circle class=p cx=2625 cy=807 r=7.1 /><circle class=o cx=2735 cy=841 r=7.1 /><circle class=s cx=3282 cy=345 r=7.1 /><circle class=r cx=2787 cy=1081 r=7.1 /><circle class=p cx=2579 cy=414 r=7.1 /><circle class=i cx=2949 cy=109 r=7.1 /><circle class=l cx=2888 cy=723 r=7.1 /><circle class=j cx=3259 cy=735 r=7.1 /><circle class=n cx=2468 cy=624 r=7.1 /><circle class=b cx=2668 cy=159 r=7.1 /><circle class=i cx=2821 cy=226 r=7.1 /><circle class=c cx=2749 cy=469 r=7.1 /><circle class=i cx=3069 cy=162 r=7.1 /><circle class=d cx=2852 cy=742 r=7.1 /><circle class=c cx=2697 cy=479 r=7.1 /><circle class=l cx=2938 cy=781 r=7.1 /><circle class=t cx=3137 cy=846 r=7.1 /><circle class=t cx=3022 cy=887 r=7.1 /><circle class=f cx=2938 cy=344 r=7.1 /><circle class=n cx=2439 cy=594 r=7.1 /><circle class=g cx=3344 cy=619 r=7.1 /><circle class=e cx=3020 cy=471 r=7.1 /><circle class=p cx=2572 cy=887 r=7.1 /><circle class=t cx=3044 cy=810 r=7.1 /><circle class=f cx=3044 cy=342 r=7.1 /><circle class=h cx=2573 cy=538 r=7.1 /><circle class=k cx=2569 cy=471 r=7.1 /><circle class=l cx=3010 cy=638 r=7.1 /><circle class=c cx=2800 cy=302 r=7.1 /><circle class=d cx=2936 cy=680 r=7.1 /><circle class=p cx=2608 cy=451 r=7.1 /><circle class=e cx=3115 cy=292 r=7.1 /><circle class=p cx=2708 cy=851 r=7.1 /><circle class=i cx=2917 cy=95 r=7.1 /><circle class=b cx=3215 cy=175 r=7.1 /><circle class=h cx=2929 cy=886 r=7.1 /><circle class=n cx=2785 cy=517 r=7.1 /><circle class=b cx=2646 cy=136 r=7.1 /><circle class=f cx=3022 cy=362 r=7.1 /><circle class=p cx=2601 cy=706 r=7.1 /><circle class=i cx=2882 cy=223 r=7.1 /><circle class=c cx=2839 cy=283 r=7.1 /><circle class=o cx=2543 cy=881 r=7.1 /><circle class=p cx=2604 cy=851 r=7.1 /><circle class=h cx=2623 cy=531 r=7.1 /><circle class=m cx=3115 cy=622 r=7.1 /><circle class=d cx=2850 cy=728 r=7.1 /><circle class=e cx=3227 cy=494 r=7.1 /><circle class=a cx=2954 cy=557 r=7.1 /><circle class=p cx=2670 cy=871 r=7.1 /><circle class=e cx=3149 cy=277 r=7.1 /><circle class=j cx=3301 cy=701 r=7.1 /><circle class=f cx=3083 cy=359 r=7.1 /><circle class=m cx=3062 cy=589 r=7.1 /><circle class=o cx=2778 cy=839 r=7.1 /><circle class=o cx=2750 cy=935 r=7.1 /><circle class=d cx=2986 cy=97 r=7.1 /><circle class=a cx=2429 cy=379 r=7.1 /><circle class=e cx=3171 cy=533 r=7.1 /><circle class=o cx=2802 cy=948 r=7.1 /><circle class=q cx=3042 cy=633 r=7.1 /><circle class=p cx=2645 cy=658 r=7.1 /><circle class=d cx=2748 cy=550 r=7.1 /><circle class=i cx=2994 cy=227 r=7.1 /><circle class=r cx=2790 cy=1031 r=7.1 /><circle class=t cx=3169 cy=838 r=7.1 /><circle class=j cx=3087 cy=675 r=7.1 /><circle class=n cx=3117 cy=714 r=7.1 /><circle class=n cx=2462 cy=682 r=7.1 /><circle class=t cx=3047 cy=929 r=7.1 /><circle class=i cx=2894 cy=249 r=7.1 /><circle class=j cx=3273 cy=662 r=7.1 /><circle class=d cx=2823 cy=726 r=7.1 /><circle class=r cx=2827 cy=1085 r=7.1 /><circle class=q cx=2794 cy=464 r=7.1 /><circle class=t cx=3189 cy=917 r=7.1 /><circle class=e cx=2932 cy=62 r=7.1 /><circle class=b cx=2788 cy=235 r=7.1 /><circle class=q cx=2820 cy=419 r=7.1 /><circle class=c cx=2753 cy=353 r=7.1 /><circle class=p cx=2517 cy=547 r=7.1 /><circle class=o cx=2736 cy=850 r=7.1 /><circle class=d cx=2864 cy=730 r=7.1 /><circle class=m cx=2835 cy=700 r=7.1 /><circle class=i cx=3027 cy=256 r=7.1 /><circle class=i cx=2992 cy=207 r=7.1 /><circle class=d cx=2852 cy=691 r=7.1 /><circle class=d cx=2685 cy=771 r=7.1 /><circle class=r cx=3024 cy=238 r=7.1 /><circle class=m cx=2983 cy=601 r=7.1 /><circle class=t cx=2729 cy=399 r=7.1 /><circle class=e cx=3133 cy=704 r=7.1 /><circle class=p cx=2596 cy=774 r=7.1 /><circle class=t cx=3194 cy=842 r=7.1 /><circle class=j cx=3256 cy=694 r=7.1 /><circle class=m cx=3134 cy=678 r=7.1 /><circle class=a cx=2998 cy=589 r=7.1 /><circle class=c cx=2810 cy=345 r=7.1 /><circle class=q cx=2860 cy=852 r=7.1 /><circle class=a cx=2521 cy=328 r=7.1 /><circle class=j cx=3233 cy=725 r=7.1 /><circle class=p cx=2615 cy=480 r=7.1 /><circle class=e cx=3179 cy=543 r=7.1 /><circle class=i cx=2883 cy=124 r=7.1 /><circle class=c cx=2725 cy=507 r=7.1 /><circle class=b cx=2795 cy=128 r=7.1 /><circle class=q cx=2853 cy=501 r=7.1 /><circle class=q cx=2865 cy=478 r=7.1 /><circle class=h cx=2629 cy=593 r=7.1 /><circle class=l cx=3019 cy=759 r=7.1 /><circle class=m cx=2759 cy=747 r=7.1 /><circle class=c cx=2732 cy=245 r=7.1 /><circle class=m cx=2678 cy=569 r=7.1 /><circle class=c cx=2756 cy=472 r=7.1 /><circle class=a cx=2901 cy=642 r=7.1 /><circle class=m cx=2680 cy=688 r=7.1 /><circle class=j cx=3272 cy=703 r=7.1 /><circle class=a cx=2986 cy=548 r=7.1 /><circle class=o cx=2766 cy=917 r=7.1 /><circle class=h cx=2646 cy=826 r=7.1 /><circle class=j cx=3138 cy=984 r=7.1 /><circle class=s cx=3160 cy=379 r=7.1 /><circle class=k cx=2569 cy=153 r=7.1 /><circle class=s cx=3272 cy=363 r=7.1 /><circle class=q cx=2921 cy=510 r=7.1 /><circle class=q cx=2794 cy=550 r=7.1 /><circle class=m cx=2777 cy=671 r=7.1 /><circle class=p cx=2775 cy=812 r=7.1 /><circle class=d cx=2887 cy=764 r=7.1 /><circle class=f cx=2997 cy=369 r=7.1 /><circle class=c cx=2633 cy=403 r=7.1 /><circle class=l cx=2946 cy=650 r=7.1 /><circle class=q cx=3101 cy=456 r=7.1 /><circle class=n cx=2527 cy=597 r=7.1 /><circle class=m cx=2773 cy=681 r=7.1 /><circle class=q cx=2867 cy=420 r=7.1 /><circle class=o cx=3220 cy=759 r=7.1 /><circle class=t cx=3149 cy=877 r=7.1 /><circle class=e cx=3232 cy=546 r=7.1 /><circle class=o cx=2512 cy=725 r=7.1 /><circle class=k cx=2604 cy=220 r=7.1 /><circle class=p cx=2637 cy=691 r=7.1 /><circle class=h cx=2908 cy=610 r=7.1 /><circle class=p cx=2595 cy=853 r=7.1 /><circle class=l cx=3010 cy=699 r=7.1 /><circle class=r cx=2778 cy=1036 r=7.1 /><circle class=l cx=3226 cy=527 r=7.1 /><circle class=r cx=2862 cy=1048 r=7.1 /><circle class=b cx=2746 cy=188 r=7.1 /><circle class=d cx=2674 cy=604 r=7.1 /><circle class=i cx=3032 cy=189 r=7.1 /><circle class=o cx=2784 cy=979 r=7.1 /><circle class=o cx=2691 cy=915 r=7.1 /><circle class=h cx=3154 cy=487 r=7.1 /><circle class=s cx=3299 cy=352 r=7.1 /><circle class=t cx=3052 cy=907 r=7.1 /><circle class=a cx=2452 cy=350 r=7.1 /><circle class=c cx=2776 cy=334 r=7.1 /><circle class=b cx=3214 cy=165 r=7.1 /><circle class=c cx=2689 cy=375 r=7.1 /><circle class=e cx=3044 cy=427 r=7.1 /><circle class=p cx=2651 cy=772 r=7.1 /><circle class=e cx=2898 cy=537 r=7.1 /><circle class=b cx=2715 cy=209 r=7.1 /><circle class=q cx=3002 cy=661 r=7.1 /><circle class=n cx=2445 cy=651 r=7.1 /><circle class=t cx=3146 cy=897 r=7.1 /><circle class=o cx=3123 cy=757 r=7.1 /><circle class=p cx=2929 cy=802 r=7.1 /><circle class=f cx=3084 cy=317 r=7.1 /><circle class=g cx=3389 cy=626 r=7.1 /><circle class=p cx=2568 cy=440 r=7.1 /><circle class=s cx=3239 cy=409 r=7.1 /><circle class=j cx=3295 cy=750 r=7.1 /><circle class=c cx=2726 cy=270 r=7.1 /><circle class=a cx=2922 cy=660 r=7.1 /><circle class=j cx=3229 cy=802 r=7.1 /><circle class=i cx=3049 cy=125 r=7.1 /><circle class=e cx=3077 cy=591 r=7.1 /><circle class=s cx=3208 cy=319 r=7.1 /><circle class=a cx=3037 cy=254 r=7.1 /><circle class=m cx=2756 cy=671 r=7.1 /><circle class=n cx=2434 cy=633 r=7.1 /><circle class=k cx=2583 cy=429 r=7.1 /><circle class=g cx=3291 cy=585 r=7.1 /><circle class=i cx=3031 cy=138 r=7.1 /><circle class=m cx=2725 cy=578 r=7.1 /><circle class=f cx=2835 cy=274 r=7.1 /><circle class=t cx=3202 cy=906 r=7.1 /><circle class=q cx=3118 cy=773 r=7.1 /><circle class=f cx=3037 cy=509 r=7.1 /><circle class=q cx=2871 cy=457 r=7.1 /><circle class=q cx=3098 cy=533 r=7.1 /><circle class=n cx=2447 cy=601 r=7.1 /><circle class=b cx=2697 cy=119 r=7.1 /><circle class=n cx=2509 cy=651 r=7.1 /><circle class=e cx=3025 cy=70 r=7.1 /><circle class=i cx=2919 cy=255 r=7.1 /><circle class=c cx=2678 cy=351 r=7.1 /><circle class=p cx=2587 cy=409 r=7.1 /><circle class=i cx=3130 cy=190 r=7.1 /><circle class=a cx=2497 cy=376 r=7.1 /><circle class=q cx=3129 cy=382 r=7.1 /><circle class=i cx=2904 cy=77 r=7.1 /><circle class=a cx=2814 cy=262 r=7.1 /><circle class=m cx=2816 cy=667 r=7.1 /><circle class=c cx=2787 cy=352 r=7.1 /><circle class=b cx=2650 cy=222 r=7.1 /><circle class=e cx=3204 cy=499 r=7.1 /><circle class=r cx=2857 cy=1023 r=7.1 /><circle class=m cx=2820 cy=622 r=7.1 /><circle class=a cx=2537 cy=347 r=7.1 /><circle class=c cx=2814 cy=399 r=7.1 /><circle class=a cx=2728 cy=164 r=7.1 /><circle class=c cx=2658 cy=491 r=7.1 /><circle class=a cx=3052 cy=635 r=7.1 /><circle class=f cx=3025 cy=355 r=7.1 /><circle class=c cx=2796 cy=326 r=7.1 /><circle class=e cx=2943 cy=273 r=7.1 /><circle class=c cx=2542 cy=472 r=7.1 /><circle class=b cx=2660 cy=141 r=7.1 /><circle class=q cx=3106 cy=423 r=7.1 /><circle class=t cx=3190 cy=908 r=7.1 /><circle class=k cx=2635 cy=209 r=7.1 /><circle class=d cx=2845 cy=243 r=7.1 /><circle class=e cx=2994 cy=117 r=7.1 /><circle class=i cx=2795 cy=196 r=7.1 /><circle class=o cx=2588 cy=791 r=7.1 /><circle class=t cx=3121 cy=482 r=7.1 /><circle class=o cx=2820 cy=840 r=7.1 /><circle class=i cx=2896 cy=94 r=7.1 /><circle class=g cx=3012 cy=998 r=7.1 /><circle class=s cx=3321 cy=346 r=7.1 /><circle class=c cx=2465 cy=287 r=7.1 /><circle class=n cx=3094 cy=742 r=7.1 /><circle class=c cx=2716 cy=314 r=7.1 /><circle class=f cx=2940 cy=355 r=7.1 /><circle class=k cx=2543 cy=179 r=7.1 /><circle class=c cx=2678 cy=449 r=7.1 /><circle class=p cx=2589 cy=716 r=7.1 /><circle class=m cx=2889 cy=686 r=7.1 /><circle class=a cx=3031 cy=171 r=7.1 /><circle class=j cx=3311 cy=742 r=7.1 /><circle class=b cx=2678 cy=226 r=7.1 /><circle class=q cx=2454 cy=488 r=7.1 /><circle class=a cx=3008 cy=559 r=7.1 /><circle class=j cx=3284 cy=675 r=7.1 /><circle class=t cx=3129 cy=850 r=7.1 /><circle class=m cx=2740 cy=720 r=7.1 /><circle class=b cx=2731 cy=173 r=7.1 /><circle class=d cx=2685 cy=737 r=7.1 /><circle class=c cx=2784 cy=508 r=7.1 /><circle class=p cx=2715 cy=866 r=7.1 /><circle class=d cx=2688 cy=592 r=7.1 /><circle class=m cx=2757 cy=685 r=7.1 /><circle class=b cx=2692 cy=94 r=7.1 /><circle class=n cx=2822 cy=292 r=7.1 /><circle class=n cx=2470 cy=430 r=7.1 /><circle class=h cx=2939 cy=884 r=7.1 /><circle class=c cx=2837 cy=335 r=7.1 /><circle class=p cx=2672 cy=634 r=7.1 /><circle class=a cx=2958 cy=592 r=7.1 /><circle class=d cx=2903 cy=475 r=7.1 /><circle class=q cx=3218 cy=814 r=7.1 /><circle class=c cx=2625 cy=344 r=7.1 /><circle class=i cx=2981 cy=88 r=7.1 /><circle class=c cx=2648 cy=403 r=7.1 /><circle class=o cx=2717 cy=947 r=7.1 /><circle class=f cx=3051 cy=337 r=7.1 /><circle class=i cx=2918 cy=280 r=7.1 /><circle class=e cx=3081 cy=547 r=7.1 /><circle class=m cx=2428 cy=500 r=7.1 /><circle class=h cx=3181 cy=532 r=7.1 /><circle class=q cx=3106 cy=441 r=7.1 /><circle class=t cx=3151 cy=935 r=7.1 /><circle class=n cx=2454 cy=334 r=7.1 /><circle class=e cx=3053 cy=386 r=7.1 /><circle class=j cx=3180 cy=641 r=7.1 /><circle class=h cx=2930 cy=874 r=7.1 /><circle class=c cx=2731 cy=420 r=7.1 /><circle class=k cx=2558 cy=206 r=7.1 /><circle class=a cx=2966 cy=372 r=7.1 /><circle class=o cx=2736 cy=883 r=7.1 /><circle class=h cx=2961 cy=628 r=7.1 /><circle class=c cx=2574 cy=332 r=7.1 /><circle class=e cx=3072 cy=535 r=7.1 /><circle class=h cx=2671 cy=841 r=7.1 /><circle class=m cx=2739 cy=675 r=7.1 /><circle class=j cx=3128 cy=770 r=7.1 /><circle class=c cx=2778 cy=355 r=7.1 /><circle class=q cx=2840 cy=522 r=7.1 /><circle class=q cx=2981 cy=683 r=7.1 /><circle class=t cx=3010 cy=972 r=7.1 /><circle class=q cx=3061 cy=719 r=7.1 /><circle class=p cx=2645 cy=483 r=7.1 /><circle class=f cx=3025 cy=404 r=7.1 /><circle class=m cx=2736 cy=729 r=7.1 /><circle class=b cx=3111 cy=479 r=7.1 /><circle class=h cx=2625 cy=617 r=7.1 /><circle class=b cx=2663 cy=503 r=7.1 /><circle class=q cx=2868 cy=821 r=7.1 /><circle class=q cx=3038 cy=714 r=7.1 /><circle class=q cx=2873 cy=516 r=7.1 /><circle class=o cx=2806 cy=861 r=7.1 /><circle class=r cx=2799 cy=1066 r=7.1 /><circle class=m cx=2710 cy=629 r=7.1 /><circle class=s cx=3327 cy=710 r=7.1 /><circle class=j cx=3224 cy=609 r=7.1 /><circle class=e cx=2911 cy=519 r=7.1 /><circle class=j cx=3046 cy=266 r=7.1 /><circle class=i cx=3015 cy=130 r=7.1 /><circle class=n cx=2488 cy=575 r=7.1 /><circle class=f cx=2990 cy=278 r=7.1 /><circle class=j cx=3174 cy=515 r=7.1 /><circle class=b cx=2757 cy=143 r=7.1 /><circle class=h cx=2580 cy=583 r=7.1 /><circle class=j cx=2606 cy=530 r=7.1 /><circle class=j cx=3287 cy=682 r=7.1 /><circle class=j cx=3224 cy=775 r=7.1 /><circle class=k cx=2685 cy=188 r=7.1 /><circle class=s cx=3180 cy=352 r=7.1 /><circle class=p cx=3341 cy=578 r=7.1 /><circle class=h cx=2617 cy=546 r=7.1 /><circle class=o cx=2798 cy=966 r=7.1 /><circle class=c cx=2740 cy=418 r=7.1 /><circle class=d cx=2698 cy=575 r=7.1 /><circle class=a cx=2541 cy=388 r=7.1 /><circle class=t cx=3090 cy=952 r=7.1 /><circle class=f cx=2985 cy=335 r=7.1 /><circle class=a cx=2999 cy=526 r=7.1 /><circle class=f cx=2894 cy=403 r=7.1 /><circle class=h cx=2942 cy=847 r=7.1 /><circle class=o cx=2862 cy=917 r=7.1 /><circle class=q cx=2866 cy=523 r=7.1 /><circle class=a cx=3057 cy=228 r=7.1 /><circle class=a cx=2536 cy=404 r=7.1 /><circle class=h cx=2970 cy=878 r=7.1 /><circle class=m cx=2872 cy=809 r=7.1 /><circle class=c cx=2687 cy=269 r=7.1 /><circle class=m cx=2717 cy=663 r=7.1 /><circle class=q cx=2938 cy=734 r=7.1 /><circle class=t cx=3158 cy=942 r=7.1 /><circle class=d cx=2909 cy=695 r=7.1 /><circle class=a cx=3077 cy=285 r=7.1 /><circle class=p cx=2679 cy=777 r=7.1 /><circle class=j cx=3249 cy=769 r=7.1 /><circle class=l cx=2951 cy=684 r=7.1 /><circle class=c cx=2735 cy=350 r=7.1 /><circle class=a cx=2994 cy=554 r=7.1 /><circle class=d cx=2928 cy=654 r=7.1 /><circle class=k cx=2532 cy=470 r=7.1 /><circle class=e cx=3172 cy=631 r=7.1 /><circle class=c cx=2664 cy=414 r=7.1 /><circle class=o cx=2640 cy=666 r=7.1 /><circle class=d cx=2706 cy=771 r=7.1 /><circle class=g cx=3407 cy=602 r=7.1 /><circle class=n cx=2403 cy=471 r=7.1 /><circle class=q cx=2862 cy=445 r=7.1 /><circle class=m cx=2743 cy=653 r=7.1 /><circle class=c cx=2732 cy=329 r=7.1 /><circle class=j cx=3302 cy=721 r=7.1 /><circle class=a cx=2969 cy=593 r=7.1 /><circle class=g cx=3384 cy=599 r=7.1 /><circle class=k cx=2612 cy=165 r=7.1 /><circle class=i cx=2909 cy=90 r=7.1 /><circle class=e cx=3230 cy=566 r=7.1 /><circle class=r cx=2810 cy=1078 r=7.1 /><circle class=s cx=3108 cy=368 r=7.1 /><circle class=b cx=2790 cy=173 r=7.1 /><circle class=f cx=3077 cy=265 r=7.1 /><circle class=l cx=2987 cy=764 r=7.1 /><circle class=h cx=3227 cy=376 r=7.1 /><circle class=d cx=2858 cy=674 r=7.1 /><circle class=t cx=3229 cy=874 r=7.1 /><circle class=l cx=2990 cy=741 r=7.1 /><circle class=h cx=2971 cy=1016 r=7.1 /><circle class=c cx=2719 cy=374 r=7.1 /><circle class=t cx=3069 cy=817 r=7.1 /><circle class=h cx=2979 cy=489 r=7.1 /><circle class=d cx=2876 cy=755 r=7.1 /><circle class=f cx=3017 cy=316 r=7.1 /><circle class=q cx=2815 cy=508 r=7.1 /><circle class=d cx=2756 cy=728 r=7.1 /><circle class=h cx=2516 cy=557 r=7.1 /><circle class=n cx=2418 cy=595 r=7.1 /><circle class=l cx=2947 cy=820 r=7.1 /><circle class=c cx=2693 cy=323 r=7.1 /><circle class=c cx=2686 cy=465 r=7.1 /><circle class=p cx=2594 cy=872 r=7.1 /><circle class=q cx=3093 cy=408 r=7.1 /><circle class=n cx=2493 cy=665 r=7.1 /><circle class=b cx=3166 cy=198 r=7.1 /><circle class=o cx=2751 cy=965 r=7.1 /><circle class=o cx=2577 cy=896 r=7.1 /><circle class=m cx=2753 cy=679 r=7.1 /><circle class=o cx=3374 cy=632 r=7.1 /><circle class=a cx=2562 cy=380 r=7.1 /><circle class=b cx=2762 cy=87 r=7.1 /><circle class=i cx=3174 cy=180 r=7.1 /><circle class=i cx=3283 cy=410 r=7.1 /><circle class=m cx=3046 cy=587 r=7.1 /><circle class=b cx=2645 cy=209 r=7.1 /><circle class=k cx=2562 cy=218 r=7.1 /><circle class=r cx=2917 cy=1048 r=7.1 /><circle class=o cx=2884 cy=876 r=7.1 /><circle class=c cx=2789 cy=449 r=7.1 /><circle class=c cx=2728 cy=450 r=7.1 /><circle class=q cx=2869 cy=394 r=7.1 /><circle class=f cx=3004 cy=362 r=7.1 /><circle class=q cx=3244 cy=819 r=7.1 /><circle class=k cx=2586 cy=505 r=7.1 /><circle class=f cx=3036 cy=345 r=7.1 /><circle class=p cx=2646 cy=789 r=7.1 /><circle class=q cx=2808 cy=498 r=7.1 /><circle class=t cx=3184 cy=240 r=7.1 /><circle class=k cx=2580 cy=157 r=7.1 /><circle class=b cx=2670 cy=139 r=7.1 /><circle class=t cx=3095 cy=814 r=7.1 /><circle class=f cx=3101 cy=416 r=7.1 /><circle class=k cx=2469 cy=550 r=7.1 /><circle class=j cx=3268 cy=768 r=7.1 /><circle class=e cx=3208 cy=424 r=7.1 /><circle class=a cx=3169 cy=445 r=7.1 /><circle class=d cx=2836 cy=233 r=7.1 /><circle class=k cx=2634 cy=322 r=7.1 /><circle class=a cx=2985 cy=592 r=7.1 /><circle class=j cx=3177 cy=695 r=7.1 /><circle class=m cx=2720 cy=696 r=7.1 /><circle class=o cx=2850 cy=900 r=7.1 /><circle class=m cx=2780 cy=659 r=7.1 /><circle class=g cx=3324 cy=585 r=7.1 /><circle class=q cx=3047 cy=691 r=7.1 /><circle class=b cx=2613 cy=517 r=7.1 /><circle class=c cx=2761 cy=374 r=7.1 /><circle class=p cx=2645 cy=765 r=7.1 /><circle class=t cx=3154 cy=819 r=7.1 /><circle class=q cx=2781 cy=499 r=7.1 /><circle class=l cx=2911 cy=752 r=7.1 /><circle class=j cx=2545 cy=324 r=7.1 /><circle class=c cx=2701 cy=322 r=7.1 /><circle class=l cx=2842 cy=785 r=7.1 /><circle class=e cx=3150 cy=267 r=7.1 /><circle class=c cx=2692 cy=384 r=7.1 /><circle class=p cx=2558 cy=775 r=7.1 /><circle class=c cx=2560 cy=476 r=7.1 /><circle class=e cx=2987 cy=106 r=7.1 /><circle class=p cx=2669 cy=798 r=7.1 /><circle class=r cx=2853 cy=1053 r=7.1 /><circle class=a cx=3042 cy=138 r=7.1 /><circle class=b cx=3191 cy=181 r=7.1 /><circle class=s cx=3299 cy=362 r=7.1 /><circle class=t cx=3190 cy=886 r=7.1 /><circle class=c cx=2717 cy=268 r=7.1 /><circle class=o cx=2723 cy=909 r=7.1 /><circle class=j cx=3193 cy=705 r=7.1 /><circle class=j cx=3220 cy=730 r=7.1 /><circle class=a cx=2544 cy=367 r=7.1 /><circle class=e cx=3075 cy=728 r=7.1 /><circle class=e cx=3045 cy=437 r=7.1 /><circle class=p cx=2578 cy=367 r=7.1 /><circle class=c cx=2767 cy=335 r=7.1 /><circle class=d cx=2775 cy=781 r=7.1 /><circle class=f cx=2868 cy=268 r=7.1 /><circle class=a cx=2976 cy=513 r=7.1 /><circle class=j cx=3320 cy=739 r=7.1 /><circle class=m cx=2833 cy=753 r=7.1 /><circle class=s cx=3262 cy=387 r=7.1 /><circle class=m cx=3130 cy=643 r=7.1 /><circle class=p cx=2684 cy=896 r=7.1 /><circle class=i cx=2973 cy=270 r=7.1 /><circle class=s cx=3308 cy=360 r=7.1 /><circle class=h cx=2621 cy=724 r=7.1 /><circle class=f cx=2931 cy=338 r=7.1 /><circle class=h cx=2637 cy=911 r=7.1 /><circle class=a cx=2977 cy=595 r=7.1 /><circle class=q cx=3080 cy=696 r=7.1 /><circle class=m cx=2815 cy=586 r=7.1 /><circle class=t cx=3146 cy=979 r=7.1 /><circle class=q cx=2868 cy=438 r=7.1 /><circle class=c cx=2688 cy=293 r=7.1 /><circle class=h cx=2669 cy=570 r=7.1 /><circle class=n cx=2429 cy=594 r=7.1 /><circle class=i cx=2868 cy=79 r=7.1 /><circle class=f cx=3022 cy=433 r=7.1 /><circle class=m cx=3138 cy=574 r=7.1 /><circle class=g cx=2931 cy=633 r=7.1 /><circle class=c cx=2642 cy=474 r=7.1 /><circle class=c cx=2709 cy=445 r=7.1 /><circle class=o cx=2696 cy=904 r=7.1 /><circle class=m cx=3064 cy=806 r=7.1 /><circle class=e cx=2895 cy=566 r=7.1 /><circle class=e cx=3231 cy=576 r=7.1 /><circle class=e cx=3118 cy=309 r=7.1 /><circle class=p cx=2763 cy=795 r=7.1 /><circle class=a cx=2549 cy=403 r=7.1 /><circle class=l cx=3009 cy=689 r=7.1 /><circle class=f cx=3072 cy=273 r=7.1 /><circle class=q cx=3127 cy=428 r=7.1 /><circle class=k cx=2534 cy=501 r=7.1 /><circle class=i cx=3037 cy=110 r=7.1 /><circle class=n cx=2838 cy=618 r=7.1 /><circle class=o cx=2803 cy=913 r=7.1 /><circle class=n cx=2903 cy=578 r=7.1 /><circle class=a cx=3325 cy=561 r=7.1 /><circle class=b cx=2825 cy=253 r=7.1 /><circle class=r cx=2815 cy=1070 r=7.1 /><circle class=i cx=2914 cy=62 r=7.1 /><circle class=t cx=3199 cy=915 r=7.1 /><circle class=o cx=2560 cy=808 r=7.1 /><circle class=o cx=2771 cy=742 r=7.1 /><circle class=o cx=3199 cy=604 r=7.1 /><circle class=h cx=2577 cy=639 r=7.1 /><circle class=i cx=2813 cy=53 r=7.1 /><circle class=h cx=2501 cy=316 r=7.1 /><circle class=f cx=2877 cy=347 r=7.1 /><circle class=f cx=3122 cy=332 r=7.1 /><circle class=q cx=3207 cy=830 r=7.1 /><circle class=k cx=2494 cy=506 r=7.1 /><circle class=b cx=2774 cy=110 r=7.1 /><circle class=c cx=2757 cy=335 r=7.1 /><circle class=o cx=2687 cy=906 r=7.1 /><circle class=b cx=2834 cy=125 r=7.1 /><circle class=d cx=2884 cy=657 r=7.1 /><circle class=j cx=3268 cy=746 r=7.1 /><circle class=h cx=2565 cy=612 r=7.1 /><circle class=j cx=3204 cy=728 r=7.1 /><circle class=b cx=2750 cy=71 r=7.1 /><circle class=t cx=3079 cy=950 r=7.1 /><circle class=b cx=2645 cy=126 r=7.1 /><circle class=m cx=2677 cy=674 r=7.1 /><circle class=e cx=2942 cy=59 r=7.1 /><circle class=a cx=3157 cy=441 r=7.1 /><circle class=e cx=3032 cy=245 r=7.1 /><circle class=m cx=2681 cy=585 r=7.1 /><circle class=o cx=2856 cy=980 r=7.1 /><circle class=e cx=3191 cy=247 r=7.1 /><circle class=j cx=3011 cy=785 r=7.1 /><circle class=o cx=2779 cy=930 r=7.1 /><circle class=r cx=2819 cy=1013 r=7.1 /><circle class=t cx=3146 cy=842 r=7.1 /><circle class=s cx=3172 cy=327 r=7.1 /><circle class=c cx=2749 cy=362 r=7.1 /><circle class=d cx=2719 cy=729 r=7.1 /><circle class=t cx=3181 cy=249 r=7.1 /><circle class=h cx=3189 cy=452 r=7.1 /><circle class=h cx=2918 cy=620 r=7.1 /><circle class=a cx=2964 cy=586 r=7.1 /><circle class=k cx=2553 cy=516 r=7.1 /><circle class=h cx=2596 cy=631 r=7.1 /><circle class=n cx=2843 cy=555 r=7.1 /><circle class=s cx=3245 cy=403 r=7.1 /><circle class=b cx=2659 cy=161 r=7.1 /><circle class=k cx=2584 cy=253 r=7.1 /><circle class=b cx=2715 cy=109 r=7.1 /><circle class=j cx=3224 cy=685 r=7.1 /><circle class=h cx=2667 cy=583 r=7.1 /><circle class=p cx=2701 cy=689 r=7.1 /><circle class=o cx=2903 cy=978 r=7.1 /><circle class=p cx=2566 cy=670 r=7.1 /><circle class=d cx=2550 cy=582 r=7.1 /><circle class=c cx=2721 cy=308 r=7.1 /><circle class=j cx=3300 cy=677 r=7.1 /><circle class=a cx=2572 cy=408 r=7.1 /><circle class=e cx=3130 cy=294 r=7.1 /><circle class=a cx=2585 cy=386 r=7.1 /><circle class=o cx=2935 cy=918 r=7.1 /><circle class=d cx=2871 cy=505 r=7.1 /><circle class=c cx=2742 cy=366 r=7.1 /><circle class=o cx=2785 cy=855 r=7.1 /><circle class=q cx=3105 cy=487 r=7.1 /><circle class=c cx=2457 cy=361 r=7.1 /><circle class=c cx=2693 cy=360 r=7.1 /><circle class=i cx=2848 cy=154 r=7.1 /><circle class=f cx=2974 cy=371 r=7.1 /><circle class=m cx=3137 cy=773 r=7.1 /><circle class=p cx=2552 cy=689 r=7.1 /><circle class=m cx=2752 cy=654 r=7.1 /><circle class=n cx=2909 cy=959 r=7.1 /><circle class=k cx=3044 cy=330 r=7.1 /><circle class=n cx=2431 cy=642 r=7.1 /><circle class=p cx=2533 cy=723 r=7.1 /><circle class=k cx=2604 cy=179 r=7.1 /><circle class=g cx=3336 cy=667 r=7.1 /><circle class=j cx=3270 cy=759 r=7.1 /><circle class=t cx=3110 cy=854 r=7.1 /><circle class=c cx=2742 cy=383 r=7.1 /><circle class=e cx=3218 cy=423 r=7.1 /><circle class=p cx=3031 cy=772 r=7.1 /><circle class=c cx=2618 cy=502 r=7.1 /><circle class=c cx=2727 cy=477 r=7.1 /><circle class=b cx=2815 cy=128 r=7.1 /><circle class=i cx=3013 cy=143 r=7.1 /><circle class=m cx=2797 cy=679 r=7.1 /><circle class=n cx=2422 cy=614 r=7.1 /><circle class=b cx=2803 cy=241 r=7.1 /><circle class=h cx=2621 cy=519 r=7.1 /><circle class=m cx=3234 cy=434 r=7.1 /><circle class=e cx=3119 cy=433 r=7.1 /><circle class=n cx=2434 cy=487 r=7.1 /><circle class=h cx=2936 cy=585 r=7.1 /><circle class=t cx=3201 cy=894 r=7.1 /><circle class=o cx=3083 cy=844 r=7.1 /><circle class=s cx=3307 cy=371 r=7.1 /><circle class=f cx=2994 cy=153 r=7.1 /><circle class=o cx=2878 cy=981 r=7.1 /><circle class=p cx=2634 cy=635 r=7.1 /><circle class=h cx=2760 cy=737 r=7.1 /><circle class=s cx=3341 cy=569 r=7.1 /><circle class=o cx=2524 cy=730 r=7.1 /><circle class=b cx=3140 cy=178 r=7.1 /><circle class=i cx=2936 cy=136 r=7.1 /><circle class=p cx=2729 cy=893 r=7.1 /><circle class=o cx=3233 cy=744 r=7.1 /><circle class=h cx=2625 cy=661 r=7.1 /><circle class=t cx=3124 cy=937 r=7.1 /><circle class=m cx=2783 cy=704 r=7.1 /><circle class=e cx=3179 cy=577 r=7.1 /><circle class=b cx=2661 cy=126 r=7.1 /><circle class=q cx=2806 cy=470 r=7.1 /><circle class=d cx=2633 cy=363 r=7.1 /><circle class=i cx=2980 cy=178 r=7.1 /><circle class=p cx=2729 cy=494 r=7.1 /><circle class=c cx=2470 cy=313 r=7.1 /><circle class=i cx=2926 cy=70 r=7.1 /><circle class=e cx=2908 cy=536 r=7.1 /><circle class=n cx=2423 cy=604 r=7.1 /><circle class=a cx=2522 cy=337 r=7.1 /><circle class=k cx=2530 cy=579 r=7.1 /><circle class=b cx=2681 cy=253 r=7.1 /><circle class=l cx=2921 cy=777 r=7.1 /><circle class=p cx=2648 cy=716 r=7.1 /><circle class=e cx=2994 cy=480 r=7.1 /><circle class=i cx=2856 cy=205 r=7.1 /><circle class=m cx=2878 cy=953 r=7.1 /><circle class=m cx=2661 cy=730 r=7.1 /><circle class=h cx=2796 cy=726 r=7.1 /><circle class=p cx=3032 cy=301 r=7.1 /><circle class=i cx=2873 cy=98 r=7.1 /><circle class=o cx=3050 cy=873 r=7.1 /><circle class=c cx=2588 cy=478 r=7.1 /><circle class=m cx=2735 cy=709 r=7.1 /><circle class=t cx=3095 cy=925 r=7.1 /><circle class=e cx=2912 cy=346 r=7.1 /><circle class=q cx=2873 cy=877 r=7.1 /><circle class=o cx=2857 cy=990 r=7.1 /><circle class=d cx=2733 cy=529 r=7.1 /><circle class=o cx=2692 cy=925 r=7.1 /><circle class=c cx=3357 cy=520 r=7.1 /><circle class=j cx=3342 cy=699 r=7.1 /><circle class=h cx=2660 cy=574 r=7.1 /><circle class=a cx=2963 cy=600 r=7.1 /><circle class=n cx=2810 cy=548 r=7.1 /><circle class=n cx=2407 cy=625 r=7.1 /><circle class=p cx=2543 cy=864 r=7.1 /><circle class=d cx=2828 cy=780 r=7.1 /><circle class=g cx=3388 cy=564 r=7.1 /><circle class=o cx=2792 cy=800 r=7.1 /><circle class=i cx=3062 cy=321 r=7.1 /><circle class=j cx=3240 cy=714 r=7.1 /><circle class=i cx=2869 cy=184 r=7.1 /><circle class=q cx=3101 cy=478 r=7.1 /><circle class=d cx=2810 cy=300 r=7.1 /><circle class=d cx=2707 cy=531 r=7.1 /><circle class=t cx=3098 cy=959 r=7.1 /><circle class=n cx=2479 cy=612 r=7.1 /><circle class=m cx=3090 cy=517 r=7.1 /><circle class=i cx=2832 cy=106 r=7.1 /><circle class=c cx=2488 cy=372 r=7.1 /><circle class=b cx=2763 cy=281 r=7.1 /><circle class=j cx=3186 cy=764 r=7.1 /><circle class=m cx=3169 cy=153 r=7.1 /><circle class=q cx=3099 cy=514 r=7.1 /><circle class=q cx=2988 cy=726 r=7.1 /><circle class=i cx=2825 cy=140 r=7.1 /><circle class=b cx=2480 cy=298 r=7.1 /><circle class=a cx=2994 cy=544 r=7.1 /><circle class=t cx=3186 cy=877 r=7.1 /><circle class=o cx=2625 cy=883 r=7.1 /><circle class=o cx=2729 cy=876 r=7.1 /><circle class=j cx=3162 cy=635 r=7.1 /><circle class=e cx=2952 cy=305 r=7.1 /><circle class=f cx=3224 cy=287 r=7.1 /><circle class=e cx=2909 cy=560 r=7.1 /><circle class=h cx=2626 cy=584 r=7.1 /><circle class=h cx=2979 cy=874 r=7.1 /><circle class=m cx=3095 cy=586 r=7.1 /><circle class=a cx=3084 cy=177 r=7.1 /><circle class=m cx=2835 cy=670 r=7.1 /><circle class=l cx=2889 cy=751 r=7.1 /><circle class=j cx=3180 cy=676 r=7.1 /><circle class=t cx=3077 cy=856 r=7.1 /><circle class=e cx=3105 cy=238 r=7.1 /><circle class=m cx=2758 cy=599 r=7.1 /><circle class=s cx=3221 cy=342 r=7.1 /><circle class=m cx=3043 cy=682 r=7.1 /><circle class=p cx=2626 cy=506 r=7.1 /><circle class=m cx=3077 cy=650 r=7.1 /><circle class=d cx=2726 cy=800 r=7.1 /><circle class=c cx=2553 cy=371 r=7.1 /><circle class=h cx=2974 cy=835 r=7.1 /><circle class=c cx=2626 cy=372 r=7.1 /><circle class=f cx=2876 cy=284 r=7.1 /><circle class=t cx=3101 cy=869 r=7.1 /><circle class=c cx=2777 cy=410 r=7.1 /><circle class=e cx=3065 cy=432 r=7.1 /><circle class=h cx=3198 cy=507 r=7.1 /><circle class=b cx=3087 cy=246 r=7.1 /><circle class=o cx=2854 cy=971 r=7.1 /><circle class=t cx=3074 cy=826 r=7.1 /><circle class=c cx=2487 cy=331 r=7.1 /><circle class=c cx=2695 cy=368 r=7.1 /><circle class=o cx=2849 cy=778 r=7.1 /><circle class=a cx=2977 cy=587 r=7.1 /><circle class=d cx=3094 cy=106 r=7.1 /><circle class=c cx=2512 cy=458 r=7.1 /><circle class=p cx=2662 cy=876 r=7.1 /><circle class=i cx=2835 cy=224 r=7.1 /><circle class=n cx=2490 cy=656 r=7.1 /><circle class=p cx=2615 cy=813 r=7.1 /><circle class=o cx=2882 cy=857 r=7.1 /><circle class=h cx=2975 cy=896 r=7.1 /><circle class=n cx=2472 cy=456 r=7.1 /><circle class=e cx=3087 cy=499 r=7.1 /><circle class=m cx=2731 cy=671 r=7.1 /><circle class=j cx=3395 cy=653 r=7.1 /><circle class=d cx=2758 cy=564 r=7.1 /><circle class=j cx=3241 cy=751 r=7.1 /><circle class=n cx=2454 cy=322 r=7.1 /><circle class=f cx=3106 cy=349 r=7.1 /><circle class=c cx=2667 cy=438 r=7.1 /><circle class=r cx=2823 cy=978 r=7.1 /><circle class=i cx=2839 cy=211 r=7.1 /><circle class=k cx=2597 cy=146 r=7.1 /><circle class=n cx=2526 cy=615 r=7.1 /><circle class=l cx=3022 cy=644 r=7.1 /><circle class=m cx=3051 cy=600 r=7.1 /><circle class=f cx=2885 cy=669 r=7.1 /><circle class=q cx=2857 cy=453 r=7.1 /><circle class=j cx=2731 cy=485 r=7.1 /><circle class=j cx=3222 cy=795 r=7.1 /><circle class=q cx=3116 cy=541 r=7.1 /><circle class=l cx=2946 cy=677 r=7.1 /><circle class=a cx=2736 cy=476 r=7.1 /><circle class=s cx=2773 cy=520 r=7.1 /><circle class=p cx=2608 cy=842 r=7.1 /><circle class=f cx=3030 cy=390 r=7.1 /><circle class=g cx=3404 cy=582 r=7.1 /><circle class=n cx=2417 cy=586 r=7.1 /><circle class=e cx=3211 cy=543 r=7.1 /><circle class=g cx=3433 cy=610 r=7.1 /><circle class=i cx=3159 cy=176 r=7.1 /><circle class=f cx=2903 cy=336 r=7.1 /><circle class=b cx=2844 cy=222 r=7.1 /><circle class=k cx=2656 cy=231 r=7.1 /><circle class=t cx=3176 cy=920 r=7.1 /><circle class=j cx=3139 cy=639 r=7.1 /><circle class=p cx=2718 cy=857 r=7.1 /><circle class=b cx=2845 cy=232 r=7.1 /><circle class=o cx=2792 cy=862 r=7.1 /><circle class=s cx=3051 cy=722 r=7.1 /><circle class=i cx=3135 cy=214 r=7.1 /><circle class=r cx=2884 cy=1029 r=7.1 /><circle class=q cx=2862 cy=460 r=7.1 /><circle class=t cx=3147 cy=825 r=7.1 /><circle class=p cx=2943 cy=795 r=7.1 /><circle class=p cx=2656 cy=752 r=7.1 /><circle class=a cx=2587 cy=275 r=7.1 /><circle class=h cx=2607 cy=562 r=7.1 /><circle class=o cx=2919 cy=869 r=7.1 /><circle class=o cx=2817 cy=822 r=7.1 /><circle class=p cx=2633 cy=702 r=7.1 /><circle class=c cx=2703 cy=345 r=7.1 /><circle class=a cx=2999 cy=573 r=7.1 /><circle class=m cx=3212 cy=786 r=7.1 /><circle class=t cx=3096 cy=900 r=7.1 /><circle class=i cx=2885 cy=68 r=7.1 /><circle class=l cx=3033 cy=704 r=7.1 /><circle class=m cx=2717 cy=682 r=7.1 /><circle class=c cx=2603 cy=414 r=7.1 /><circle class=q cx=3135 cy=544 r=7.1 /><circle class=f cx=2984 cy=371 r=7.1 /><circle class=h cx=3160 cy=542 r=7.1 /><circle class=f cx=2942 cy=326 r=7.1 /><circle class=d cx=2692 cy=831 r=7.1 /><circle class=t cx=3189 cy=870 r=7.1 /><circle class=l cx=2973 cy=726 r=7.1 /><circle class=s cx=2770 cy=990 r=7.1 /><circle class=l cx=2925 cy=768 r=7.1 /><circle class=i cx=2937 cy=80 r=7.1 /><circle class=h cx=2550 cy=625 r=7.1 /><circle class=q cx=2833 cy=402 r=7.1 /><circle class=j cx=3178 cy=287 r=7.1 /><circle class=d cx=2996 cy=802 r=7.1 /><circle class=a cx=3007 cy=590 r=7.1 /><circle class=m cx=3117 cy=613 r=7.1 /><circle class=f cx=2883 cy=335 r=7.1 /><circle class=b cx=2651 cy=98 r=7.1 /><circle class=c cx=2786 cy=389 r=7.1 /><circle class=n cx=3014 cy=862 r=7.1 /><circle class=h cx=2638 cy=558 r=7.1 /><circle class=g cx=3201 cy=579 r=7.1 /><circle class=e cx=2943 cy=448 r=7.1 /><circle class=b cx=2711 cy=116 r=7.1 /><circle class=c cx=2726 cy=122 r=7.1 /><circle class=c cx=2796 cy=398 r=7.1 /><circle class=i cx=2921 cy=123 r=7.1 /><circle class=e cx=2894 cy=517 r=7.1 /><circle class=i cx=2914 cy=82 r=7.1 /><circle class=c cx=2676 cy=403 r=7.1 /><circle class=s cx=3231 cy=395 r=7.1 /><circle class=k cx=2521 cy=523 r=7.1 /><circle class=b cx=2982 cy=201 r=7.1 /><circle class=t cx=3103 cy=975 r=7.1 /><circle class=h cx=2641 cy=580 r=7.1 /><circle class=o cx=2952 cy=841 r=7.1 /><circle class=p cx=2475 cy=485 r=7.1 /><circle class=p cx=2686 cy=762 r=7.1 /><circle class=s cx=3174 cy=412 r=7.1 /><circle class=e cx=3173 cy=243 r=7.1 /><circle class=p cx=2572 cy=838 r=7.1 /><circle class=b cx=2628 cy=143 r=7.1 /><circle class=q cx=2785 cy=484 r=7.1 /><circle class=l cx=2978 cy=643 r=7.1 /><circle class=d cx=2622 cy=487 r=7.1 /><circle class=h cx=2782 cy=746 r=7.1 /><circle class=c cx=2723 cy=293 r=7.1 /><circle class=i cx=2944 cy=46 r=7.1 /><circle class=c cx=2593 cy=432 r=7.1 /><circle class=s cx=3071 cy=757 r=7.1 /><circle class=p cx=2576 cy=792 r=7.1 /><circle class=h cx=2685 cy=615 r=7.1 /><circle class=m cx=2771 cy=637 r=7.1 /><circle class=q cx=2882 cy=811 r=7.1 /><circle class=j cx=3199 cy=625 r=7.1 /><circle class=a cx=2942 cy=548 r=7.1 /><circle class=t cx=3148 cy=867 r=7.1 /><circle class=p cx=2714 cy=932 r=7.1 /><circle class=m cx=2701 cy=628 r=7.1 /><circle class=i cx=2924 cy=204 r=7.1 /><circle class=m cx=3089 cy=775 r=7.1 /><circle class=g cx=3361 cy=580 r=7.1 /><circle class=s cx=3222 cy=410 r=7.1 /><circle class=f cx=2942 cy=400 r=7.1 /><circle class=t cx=3121 cy=977 r=7.1 /><circle class=d cx=2722 cy=526 r=7.1 /><circle class=s cx=2995 cy=217 r=7.1 /><circle class=n cx=2460 cy=673 r=7.1 /><circle class=c cx=2739 cy=358 r=7.1 /><circle class=n cx=2434 cy=477 r=7.1 /><circle class=h cx=2659 cy=620 r=7.1 /><circle class=q cx=2852 cy=630 r=7.1 /><circle class=b cx=2791 cy=263 r=7.1 /><circle class=t cx=3200 cy=233 r=7.1 /><circle class=i cx=2913 cy=112 r=7.1 /><circle class=n cx=2796 cy=526 r=7.1 /><circle class=i cx=3090 cy=195 r=7.1 /><circle class=o cx=2810 cy=981 r=7.1 /><circle class=j cx=3325 cy=719 r=7.1 /><circle class=g cx=2922 cy=45 r=7.1 /><circle class=e cx=2972 cy=83 r=7.1 /><circle class=n cx=2533 cy=631 r=7.1 /><circle class=m cx=3054 cy=590 r=7.1 /><circle class=o cx=2892 cy=991 r=7.1 /><circle class=b cx=2828 cy=219 r=7.1 /><circle class=p cx=2554 cy=701 r=7.1 /><circle class=t cx=3086 cy=901 r=7.1 /><circle class=e cx=2802 cy=544 r=7.1 /><circle class=t cx=3102 cy=857 r=7.1 /><circle class=p cx=2530 cy=783 r=7.1 /><circle class=d cx=2755 cy=762 r=7.1 /><circle class=j cx=3037 cy=518 r=7.1 /><circle class=a cx=2970 cy=520 r=7.1 /><circle class=t cx=3214 cy=887 r=7.1 /><circle class=m cx=2739 cy=685 r=7.1 /><circle class=h cx=2680 cy=659 r=7.1 /><circle class=g cx=3318 cy=593 r=7.1 /><circle class=a cx=2957 cy=528 r=7.1 /><circle class=h cx=2508 cy=580 r=7.1 /><circle class=p cx=2674 cy=824 r=7.1 /><circle class=o cx=2920 cy=990 r=7.1 /><circle class=p cx=2630 cy=720 r=7.1 /><circle class=d cx=2538 cy=697 r=7.1 /><circle class=c cx=2688 cy=316 r=7.1 /><circle class=a cx=2982 cy=793 r=7.1 /><circle class=e cx=3232 cy=480 r=7.1 /><circle class=i cx=2912 cy=238 r=7.1 /><circle class=d cx=2727 cy=734 r=7.1 /><circle class=d cx=2676 cy=616 r=7.1 /><circle class=c cx=2642 cy=319 r=7.1 /><circle class=k cx=2688 cy=172 r=7.1 /><circle class=b cx=2691 cy=161 r=7.1 /><circle class=q cx=3006 cy=714 r=7.1 /><circle class=c cx=2660 cy=381 r=7.1 /><circle class=o cx=2743 cy=766 r=7.1 /><circle class=j cx=3212 cy=735 r=7.1 /><circle class=q cx=2998 cy=710 r=7.1 /><circle class=p cx=2567 cy=792 r=7.1 /><circle class=j cx=3266 cy=693 r=7.1 /><circle class=i cx=2815 cy=152 r=7.1 /><circle class=t cx=3079 cy=998 r=7.1 /><circle class=m cx=2777 cy=725 r=7.1 /><circle class=f cx=2935 cy=429 r=7.1 /><circle class=c cx=2699 cy=387 r=7.1 /><circle class=h cx=2507 cy=614 r=7.1 /><circle class=k cx=3130 cy=373 r=7.1 /><circle class=b cx=2830 cy=209 r=7.1 /><circle class=s cx=3235 cy=356 r=7.1 /><circle class=e cx=3195 cy=488 r=7.1 /><circle class=p cx=2578 cy=765 r=7.1 /><circle class=f cx=2847 cy=306 r=7.1 /><circle class=q cx=2892 cy=832 r=7.1 /><circle class=t cx=3039 cy=923 r=7.1 /><circle class=q cx=2783 cy=476 r=7.1 /><circle class=l cx=2924 cy=692 r=7.1 /><circle class=t cx=3140 cy=816 r=7.1 /><circle class=t cx=3053 cy=884 r=7.1 /><circle class=o cx=2885 cy=967 r=7.1 /><circle class=e cx=2829 cy=614 r=7.1 /><circle class=e cx=3231 cy=510 r=7.1 /><circle class=p cx=2638 cy=623 r=7.1 /><circle class=k cx=2672 cy=194 r=7.1 /><circle class=j cx=3285 cy=691 r=7.1 /><circle class=d cx=2857 cy=50 r=7.1 /><circle class=h cx=2644 cy=548 r=7.1 /><circle class=c cx=2779 cy=378 r=7.1 /><circle class=p cx=2654 cy=807 r=7.1 /><circle class=h cx=2598 cy=643 r=7.1 /><circle class=d cx=2711 cy=508 r=7.1 /><circle class=f cx=2857 cy=315 r=7.1 /><circle class=a cx=3001 cy=641 r=7.1 /><circle class=m cx=3073 cy=772 r=7.1 /><circle class=h cx=3241 cy=439 r=7.1 /><circle class=t cx=3126 cy=833 r=7.1 /><circle class=m cx=2725 cy=618 r=7.1 /><circle class=n cx=2987 cy=264 r=7.1 /><circle class=a cx=2526 cy=406 r=7.1 /><circle class=r cx=2839 cy=1017 r=7.1 /><circle class=r cx=2771 cy=1071 r=7.1 /><circle class=m cx=2838 cy=744 r=7.1 /><circle class=f cx=2944 cy=429 r=7.1 /><circle class=m cx=2694 cy=657 r=7.1 /><circle class=s cx=3221 cy=324 r=7.1 /><circle class=q cx=3123 cy=473 r=7.1 /><circle class=n cx=2475 cy=630 r=7.1 /><circle class=a cx=3008 cy=572 r=7.1 /><circle class=o cx=3031 cy=893 r=7.1 /><circle class=p cx=2426 cy=526 r=7.1 /><circle class=d cx=2986 cy=514 r=7.1 /><circle class=o cx=2888 cy=820 r=7.1 /><circle class=r cx=2813 cy=1054 r=7.1 /><circle class=h cx=2959 cy=867 r=7.1 /><circle class=q cx=2851 cy=826 r=7.1 /><circle class=q cx=2893 cy=480 r=7.1 /><circle class=d cx=2691 cy=804 r=7.1 /><circle class=t cx=3141 cy=881 r=7.1 /><circle class=j cx=3233 cy=793 r=7.1 /><circle class=q cx=3129 cy=801 r=7.1 /><circle class=d cx=2996 cy=253 r=7.1 /><circle class=k cx=2768 cy=78 r=7.1 /><circle class=o cx=2830 cy=1091 r=7.1 /><circle class=q cx=2864 cy=873 r=7.1 /><circle class=q cx=3106 cy=469 r=7.1 /><circle class=j cx=3187 cy=663 r=7.1 /><circle class=b cx=2709 cy=102 r=7.1 /><circle class=o cx=2813 cy=926 r=7.1 /><circle class=f cx=3027 cy=273 r=7.1 /><circle class=i cx=2827 cy=352 r=7.1 /><circle class=e cx=2977 cy=1008 r=7.1 /><circle class=i cx=3131 cy=155 r=7.1 /><circle class=o cx=2808 cy=823 r=7.1 /><circle class=p cx=2732 cy=790 r=7.1 /><circle class=n cx=2411 cy=579 r=7.1 /><circle class=k cx=2592 cy=222 r=7.1 /><circle class=q cx=3094 cy=551 r=7.1 /><circle class=k cx=2567 cy=575 r=7.1 /><circle class=i cx=2868 cy=90 r=7.1 /><circle class=f cx=2878 cy=395 r=7.1 /><circle class=l cx=2930 cy=674 r=7.1 /><circle class=n cx=2472 cy=653 r=7.1 /><circle class=g cx=3421 cy=593 r=7.1 /><circle class=d cx=2701 cy=497 r=7.1 /><circle class=b cx=2885 cy=986 r=7.1 /><circle class=p cx=2695 cy=872 r=7.1 /><circle class=b cx=2678 cy=134 r=7.1 /><circle class=r cx=2913 cy=1058 r=7.1 /><circle class=e cx=2907 cy=355 r=7.1 /><circle class=a cx=2584 cy=376 r=7.1 /><circle class=r cx=3095 cy=969 r=7.1 /><circle class=f cx=3046 cy=408 r=7.1 /><circle class=m cx=3046 cy=668 r=7.1 /><circle class=q cx=3001 cy=694 r=7.1 /><circle class=a cx=2962 cy=572 r=7.1 /><circle class=n cx=2466 cy=634 r=7.1 /><circle class=e cx=3180 cy=274 r=7.1 /><circle class=e cx=3124 cy=267 r=7.1 /><circle class=q cx=3182 cy=814 r=7.1 /><circle class=j cx=3057 cy=284 r=7.1 /><circle class=c cx=2475 cy=305 r=7.1 /><circle class=j cx=3278 cy=711 r=7.1 /><circle class=o cx=2734 cy=972 r=7.1 /><circle class=f cx=2969 cy=303 r=7.1 /><circle class=c cx=2794 cy=336 r=7.1 /><circle class=m cx=3050 cy=613 r=7.1 /><circle class=h cx=2589 cy=525 r=7.1 /><circle class=i cx=3157 cy=157 r=7.1 /><circle class=p cx=2638 cy=847 r=7.1 /><circle class=e cx=3199 cy=517 r=7.1 /><circle class=q cx=3001 cy=684 r=7.1 /><circle class=o cx=2983 cy=901 r=7.1 /><circle class=i cx=2891 cy=219 r=7.1 /><circle class=p cx=2701 cy=857 r=7.1 /><circle class=e cx=3140 cy=629 r=7.1 /><circle class=p cx=2551 cy=468 r=7.1 /><circle class=h cx=2395 cy=388 r=7.1 /><circle class=i cx=2912 cy=159 r=7.1 /><circle class=p cx=2567 cy=895 r=7.1 /><circle class=m cx=3138 cy=143 r=7.1 /><circle class=d cx=3225 cy=831 r=7.1 /><circle class=p cx=2640 cy=747 r=7.1 /><circle class=f cx=2901 cy=396 r=7.1 /><circle class=f cx=3009 cy=326 r=7.1 /><circle class=p cx=2612 cy=410 r=7.1 /><circle class=n cx=2485 cy=627 r=7.1 /><circle class=l cx=2897 cy=711 r=7.1 /><circle class=a cx=2893 cy=150 r=7.1 /><circle class=e cx=3225 cy=538 r=7.1 /><circle class=m cx=3225 cy=451 r=7.1 /><circle class=a cx=2987 cy=616 r=7.1 /><circle class=o cx=2783 cy=893 r=7.1 /><circle class=c cx=2702 cy=450 r=7.1 /><circle class=j cx=3267 cy=722 r=7.1 /><circle class=c cx=2815 cy=328 r=7.1 /><circle class=c cx=2813 cy=75 r=7.1 /><circle class=q cx=2839 cy=390 r=7.1 /><circle class=t cx=2800 cy=283 r=7.1 /><circle class=c cx=2682 cy=436 r=7.1 /><circle class=i cx=3136 cy=233 r=7.1 /><circle class=i cx=2899 cy=128 r=7.1 /><circle class=d cx=2731 cy=742 r=7.1 /><circle class=i cx=2938 cy=98 r=7.1 /><circle class=j cx=3153 cy=719 r=7.1 /><circle class=o cx=2876 cy=1023 r=7.1 /><circle class=e cx=2889 cy=525 r=7.1 /><circle class=p cx=2911 cy=824 r=7.1 /><circle class=b cx=2804 cy=135 r=7.1 /><circle class=h cx=2791 cy=750 r=7.1 /><circle class=o cx=2775 cy=917 r=7.1 /><circle class=q cx=2876 cy=485 r=7.1 /><circle class=f cx=2973 cy=361 r=7.1 /><circle class=a cx=3231 cy=325 r=7.1 /><circle class=c cx=2656 cy=419 r=7.1 /><circle class=q cx=2795 cy=389 r=7.1 /><circle class=s cx=3254 cy=309 r=7.1 /><circle class=h cx=3277 cy=418 r=7.1 /><circle class=q cx=2613 cy=876 r=7.1 /><circle class=p cx=2679 cy=868 r=7.1 /><circle class=t cx=3064 cy=835 r=7.1 /><circle class=q cx=3087 cy=612 r=7.1 /><circle class=c cx=2444 cy=369 r=7.1 /><circle class=s cx=3251 cy=425 r=7.1 /><circle class=e cx=3227 cy=461 r=7.1 /><circle class=e cx=3209 cy=534 r=7.1 /><circle class=a cx=3092 cy=273 r=7.1 /><circle class=e cx=3015 cy=566 r=7.1 /><circle class=q cx=3087 cy=525 r=7.1 /><circle class=p cx=2680 cy=700 r=7.1 /><circle class=c cx=2818 cy=408 r=7.1 /><circle class=c cx=2629 cy=328 r=7.1 /><circle class=b cx=2720 cy=241 r=7.1 /><circle class=h cx=2606 cy=631 r=7.1 /><circle class=c cx=2720 cy=285 r=7.1 /><circle class=p cx=2581 cy=522 r=7.1 /><circle class=n cx=3118 cy=689 r=7.1 /><circle class=i cx=3016 cy=153 r=7.1 /><circle class=c cx=2832 cy=343 r=7.1 /><circle class=i cx=3168 cy=169 r=7.1 /><circle class=s cx=3282 cy=387 r=7.1 /><circle class=l cx=3126 cy=610 r=7.1 /><circle class=k cx=2568 cy=225 r=7.1 /><circle class=q cx=2825 cy=365 r=7.1 /><circle class=q cx=3001 cy=723 r=7.1 /><circle class=h cx=2965 cy=894 r=7.1 /><circle class=m cx=2733 cy=678 r=7.1 /><circle class=c cx=2704 cy=473 r=7.1 /><circle class=n cx=2438 cy=606 r=7.1 /><circle class=n cx=2440 cy=616 r=7.1 /><circle class=q cx=2831 cy=449 r=7.1 /><circle class=k cx=2565 cy=251 r=7.1 /><circle class=h cx=2656 cy=662 r=7.1 /><circle class=g cx=3200 cy=179 r=7.1 /><circle class=s cx=3170 cy=380 r=7.1 /><circle class=c cx=2505 cy=445 r=7.1 /><circle class=m cx=2811 cy=739 r=7.1 /><circle class=f cx=2955 cy=360 r=7.1 /><circle class=p cx=2588 cy=782 r=7.1 /><circle class=o cx=2829 cy=901 r=7.1 /><circle class=p cx=2648 cy=836 r=7.1 /><circle class=n cx=3148 cy=697 r=7.1 /><circle class=b cx=2792 cy=215 r=7.1 /><circle class=q cx=2982 cy=712 r=7.1 /><circle class=o cx=3122 cy=946 r=7.1 /><circle class=f cx=3082 cy=273 r=7.1 /><circle class=c cx=2680 cy=412 r=7.1 /><circle class=i cx=3042 cy=225 r=7.1 /><circle class=a cx=2972 cy=583 r=7.1 /><circle class=s cx=3243 cy=419 r=7.1 /><circle class=e cx=3060 cy=449 r=7.1 /><circle class=n cx=2883 cy=605 r=7.1 /><circle class=i cx=2884 cy=251 r=7.1 /><circle class=f cx=3027 cy=512 r=7.1 /><circle class=c cx=2976 cy=426 r=7.1 /><circle class=o cx=2840 cy=822 r=7.1 /><circle class=n cx=2510 cy=634 r=7.1 /><circle class=i cx=2885 cy=269 r=7.1 /><circle class=i cx=2872 cy=233 r=7.1 /><circle class=p cx=3201 cy=569 r=7.1 /><circle class=h cx=2791 cy=299 r=7.1 /><circle class=p cx=2638 cy=828 r=7.1 /><circle class=t cx=3038 cy=935 r=7.1 /><circle class=c cx=2672 cy=334 r=7.1 /><circle class=q cx=2929 cy=573 r=7.1 /><circle class=f cx=2954 cy=399 r=7.1 /><circle class=s cx=3173 cy=389 r=7.1 /><circle class=q cx=2927 cy=785 r=7.1 /><circle class=t cx=3096 cy=998 r=7.1 /><circle class=q cx=2770 cy=552 r=7.1 /><circle class=t cx=3150 cy=914 r=7.1 /><circle class=q cx=3126 cy=498 r=7.1 /><circle class=d cx=2821 cy=764 r=7.1 /><circle class=b cx=2830 cy=198 r=7.1 /><circle class=c cx=2595 cy=389 r=7.1 /><circle class=c cx=2710 cy=353 r=7.1 /><circle class=o cx=2929 cy=969 r=7.1 /><circle class=i cx=2922 cy=63 r=7.1 /><circle class=n cx=2433 cy=658 r=7.1 /><circle class=i cx=2929 cy=95 r=7.1 /><circle class=q cx=2981 cy=720 r=7.1 /><circle class=h cx=2995 cy=312 r=7.1 /><circle class=q cx=2889 cy=451 r=7.1 /><circle class=e cx=3060 cy=440 r=7.1 /><circle class=h cx=2634 cy=673 r=7.1 /><circle class=e cx=2992 cy=507 r=7.1 /><circle class=e cx=3239 cy=504 r=7.1 /><circle class=q cx=2791 cy=475 r=7.1 /><circle class=r cx=2825 cy=1047 r=7.1 /><circle class=s cx=2965 cy=923 r=7.1 /><circle class=s cx=3225 cy=390 r=7.1 /><circle class=f cx=3084 cy=538 r=7.1 /><circle class=h cx=2946 cy=889 r=7.1 /><circle class=a cx=2956 cy=539 r=7.1 /><circle class=c cx=2737 cy=237 r=7.1 /><circle class=f cx=2952 cy=342 r=7.1 /><circle class=i cx=2831 cy=116 r=7.1 /><circle class=o cx=2745 cy=851 r=7.1 /><circle class=f cx=2971 cy=406 r=7.1 /><circle class=d cx=2525 cy=561 r=7.1 /><circle class=n cx=2732 cy=610 r=7.1 /><circle class=n cx=2444 cy=630 r=7.1 /><circle class=e cx=3163 cy=703 r=7.1 /><circle class=f cx=3212 cy=307 r=7.1 /><circle class=m cx=3055 cy=772 r=7.1 /><circle class=q cx=2840 cy=478 r=7.1 /><circle class=a cx=2479 cy=368 r=7.1 /><circle class=p cx=2666 cy=662 r=7.1 /><circle class=c cx=2711 cy=372 r=7.1 /><circle class=q cx=3179 cy=734 r=7.1 /><circle class=f cx=2977 cy=379 r=7.1 /><circle class=q cx=2831 cy=577 r=7.1 /><circle class=f cx=2987 cy=402 r=7.1 /><circle class=t cx=3107 cy=894 r=7.1 /><circle class=d cx=2819 cy=678 r=7.1 /><circle class=d cx=2730 cy=771 r=7.1 /><circle class=d cx=2835 cy=56 r=7.1 /><circle class=o cx=2734 cy=954 r=7.1 /><circle class=h cx=2663 cy=562 r=7.1 /><circle class=e cx=3226 cy=472 r=7.1 /><circle class=m cx=2708 cy=663 r=7.1 /><circle class=d cx=2741 cy=787 r=7.1 /><circle class=i cx=2894 cy=74 r=7.1 /><circle class=n cx=2493 cy=674 r=7.1 /><circle class=f cx=3057 cy=475 r=7.1 /><circle class=m cx=2533 cy=278 r=7.1 /><circle class=f cx=2854 cy=383 r=7.1 /><circle class=p cx=2600 cy=835 r=7.1 /><circle class=o cx=2732 cy=904 r=7.1 /><circle class=a cx=2526 cy=416 r=7.1 /><circle class=a cx=2997 cy=188 r=7.1 /><circle class=e cx=2809 cy=605 r=7.1 /><circle class=o cx=2752 cy=887 r=7.1 /><circle class=q cx=2825 cy=470 r=7.1 /><circle class=m cx=2848 cy=657 r=7.1 /><circle class=d cx=2855 cy=107 r=7.1 /><circle class=n cx=2802 cy=636 r=7.1 /><circle class=g cx=2999 cy=652 r=7.1 /><circle class=h cx=2982 cy=921 r=7.1 /><circle class=p cx=3145 cy=581 r=7.1 /><circle class=q cx=3034 cy=664 r=7.1 /><circle class=q cx=2745 cy=495 r=7.1 /><circle class=f cx=3051 cy=371 r=7.1 /><circle class=s cx=3177 cy=361 r=7.1 /><circle class=e cx=3177 cy=309 r=7.1 /><circle class=a cx=3042 cy=243 r=7.1 /><circle class=b cx=2794 cy=113 r=7.1 /><circle class=b cx=2740 cy=104 r=7.1 /><circle class=p cx=2663 cy=824 r=7.1 /><circle class=e cx=3108 cy=617 r=7.1 /><circle class=i cx=2944 cy=176 r=7.1 /><circle class=i cx=2910 cy=102 r=7.1 /><circle class=q cx=2836 cy=411 r=7.1 /><circle class=d cx=2691 cy=607 r=7.1 /><circle class=h cx=3170 cy=543 r=7.1 /><circle class=g cx=3340 cy=588 r=7.1 /><circle class=o cx=2754 cy=848 r=7.1 /><circle class=m cx=2620 cy=629 r=7.1 /><circle class=q cx=2841 cy=875 r=7.1 /><circle class=a cx=3154 cy=431 r=7.1 /><circle class=t cx=3102 cy=845 r=7.1 /><circle class=c cx=2701 cy=354 r=7.1 /><circle class=o cx=2898 cy=1024 r=7.1 /><circle class=a cx=2514 cy=425 r=7.1 /><circle class=f cx=2979 cy=328 r=7.1 /><circle class=m cx=2805 cy=622 r=7.1 /><circle class=h cx=2666 cy=614 r=7.1 /><circle class=m cx=2712 cy=654 r=7.1 /><circle class=j cx=3196 cy=594 r=7.1 /><circle class=f cx=2995 cy=353 r=7.1 /><circle class=c cx=2744 cy=374 r=7.1 /><circle class=k cx=2565 cy=531 r=7.1 /><circle class=c cx=2609 cy=367 r=7.1 /><circle class=i cx=2971 cy=130 r=7.1 /><circle class=c cx=2674 cy=468 r=7.1 /><circle class=k cx=2689 cy=259 r=7.1 /><circle class=f cx=2971 cy=345 r=7.1 /><circle class=c cx=2742 cy=273 r=7.1 /><circle class=b cx=2682 cy=158 r=7.1 /><circle class=h cx=2937 cy=609 r=7.1 /><circle class=r cx=3173 cy=569 r=7.1 /><circle class=h cx=2584 cy=611 r=7.1 /><circle class=n cx=2394 cy=655 r=7.1 /><circle class=j cx=3293 cy=732 r=7.1 /><circle class=f cx=2943 cy=365 r=7.1 /><circle class=i cx=3000 cy=132 r=7.1 /><circle class=j cx=3185 cy=619 r=7.1 /><circle class=c cx=2727 cy=462 r=7.1 /><circle class=f cx=2913 cy=317 r=7.1 /><circle class=k cx=2475 cy=523 r=7.1 /><circle class=b cx=2817 cy=273 r=7.1 /><circle class=l cx=2938 cy=759 r=7.1 /><circle class=r cx=2783 cy=1057 r=7.1 /><circle class=o cx=2706 cy=889 r=7.1 /><circle class=s cx=3182 cy=317 r=7.1 /><circle class=c cx=2685 cy=405 r=7.1 /><circle class=q cx=2787 cy=493 r=7.1 /><circle class=a cx=3062 cy=183 r=7.1 /><circle class=m cx=2699 cy=710 r=7.1 /><circle class=j cx=2972 cy=482 r=7.1 /><circle class=l cx=2926 cy=758 r=7.1 /><circle class=b cx=2738 cy=128 r=7.1 /><circle class=m cx=3072 cy=790 r=7.1 /><circle class=e cx=3173 cy=810 r=7.1 /><circle class=q cx=2804 cy=832 r=7.1 /><circle class=t cx=3149 cy=947 r=7.1 /><circle class=q cx=2851 cy=464 r=7.1 /><circle class=j cx=3228 cy=676 r=7.1 /><circle class=f cx=2905 cy=322 r=7.1 /><circle class=i cx=3095 cy=137 r=7.1 /><circle class=n cx=2791 cy=610 r=7.1 /><circle class=h cx=2676 cy=625 r=7.1 /><circle class=c cx=2465 cy=304 r=7.1 /><circle class=o cx=2860 cy=830 r=7.1 /><circle class=e cx=3131 cy=242 r=7.1 /><circle class=j cx=3190 cy=681 r=7.1 /><circle class=a cx=2983 cy=531 r=7.1 /><circle class=o cx=2827 cy=919 r=7.1 /><circle class=a cx=3074 cy=632 r=7.1 /><circle class=p cx=2562 cy=846 r=7.1 /><circle class=g cx=3299 cy=591 r=7.1 /><circle class=n cx=2486 cy=646 r=7.1 /><circle class=f cx=3147 cy=442 r=7.1 /><circle class=s cx=3247 cy=334 r=7.1 /><circle class=g cx=3432 cy=618 r=7.1 /><circle class=i cx=3336 cy=385 r=7.1 /><circle class=q cx=3256 cy=775 r=7.1 /><circle class=s cx=3237 cy=333 r=7.1 /><circle class=c cx=2663 cy=397 r=7.1 /><circle class=r cx=2867 cy=944 r=7.1 /><circle class=j cx=3331 cy=656 r=7.1 /><circle class=q cx=2834 cy=377 r=7.1 /><circle class=e cx=2767 cy=562 r=7.1 /><circle class=o cx=2844 cy=912 r=7.1 /><circle class=c cx=2629 cy=440 r=7.1 /><circle class=p cx=2722 cy=871 r=7.1 /><circle class=h cx=2488 cy=565 r=7.1 /><circle class=l cx=2952 cy=831 r=7.1 /><circle class=o cx=2793 cy=901 r=7.1 /><circle class=c cx=2668 cy=281 r=7.1 /><circle class=p cx=2433 cy=467 r=7.1 /><circle class=s cx=3324 cy=517 r=7.1 /><circle class=c cx=2735 cy=374 r=7.1 /><circle class=c cx=2546 cy=274 r=7.1 /><circle class=i cx=3185 cy=162 r=7.1 /><circle class=i cx=3306 cy=381 r=7.1 /><circle class=b cx=2623 cy=158 r=7.1 /><circle class=t cx=3075 cy=900 r=7.1 /><circle class=k cx=3060 cy=542 r=7.1 /><circle class=p cx=2692 cy=854 r=7.1 /><circle class=f cx=2933 cy=401 r=7.1 /><circle class=b cx=2735 cy=96 r=7.1 /><circle class=e cx=3028 cy=549 r=7.1 /><circle class=i cx=3072 cy=208 r=7.1 /><circle class=n cx=3146 cy=679 r=7.1 /><circle class=i cx=3064 cy=110 r=7.1 /><circle class=r cx=2723 cy=414 r=7.1 /><circle class=j cx=3029 cy=476 r=7.1 /><circle class=n cx=2440 cy=436 r=7.1 /><circle class=i cx=2922 cy=314 r=7.1 /><circle class=n cx=3075 cy=738 r=7.1 /><circle class=m cx=2701 cy=721 r=7.1 /><circle class=q cx=2758 cy=507 r=7.1 /><circle class=d cx=3034 cy=235 r=7.1 /><circle class=b cx=2818 cy=312 r=7.1 /><circle class=o cx=2972 cy=823 r=7.1 /><circle class=j cx=3259 cy=766 r=7.1 /><circle class=b cx=2830 cy=176 r=7.1 /><circle class=a cx=2978 cy=576 r=7.1 /><circle class=b cx=2726 cy=261 r=7.1 /><circle class=m cx=2799 cy=702 r=7.1 /><circle class=q cx=2928 cy=436 r=7.1 /><circle class=c cx=2687 cy=420 r=7.1 /><circle class=h cx=2938 cy=866 r=7.1 /><circle class=q cx=2847 cy=425 r=7.1 /><circle class=o cx=2839 cy=865 r=7.1 /><circle class=c cx=3126 cy=559 r=7.1 /><circle class=k cx=2653 cy=389 r=7.1 /><circle class=d cx=2537 cy=805 r=7.1 /><circle class=p cx=2627 cy=734 r=7.1 /><circle class=c cx=2705 cy=407 r=7.1 /><circle class=b cx=3090 cy=455 r=7.1 /><circle class=o cx=2976 cy=886 r=7.1 /><circle class=r cx=2881 cy=1055 r=7.1 /><circle class=p cx=2649 cy=668 r=7.1 /><circle class=f cx=3031 cy=382 r=7.1 /><circle class=b cx=2730 cy=229 r=7.1 /><circle class=p cx=2672 cy=750 r=7.1 /><circle class=s cx=3309 cy=397 r=7.1 /><circle class=l cx=2982 cy=733 r=7.1 /><circle class=p cx=2520 cy=479 r=7.1 /><circle class=e cx=3140 cy=464 r=7.1 /><circle class=q cx=2805 cy=531 r=7.1 /><circle class=d cx=2905 cy=500 r=7.1 /><circle class=a cx=2568 cy=778 r=7.1 /><circle class=b cx=2639 cy=148 r=7.1 /><circle class=q cx=2929 cy=418 r=7.1 /><circle class=o cx=2926 cy=848 r=7.1 /><circle class=p cx=2581 cy=746 r=7.1 /><circle class=c cx=2654 cy=482 r=7.1 /><circle class=d cx=2763 cy=852 r=7.1 /><circle class=m cx=3032 cy=634 r=7.1 /><circle class=e cx=3072 cy=572 r=7.1 /><circle class=e cx=3202 cy=539 r=7.1 /><circle class=n cx=2845 cy=531 r=7.1 /><circle class=g cx=3394 cy=583 r=7.1 /><circle class=i cx=3101 cy=145 r=7.1 /><circle class=a cx=2785 cy=106 r=7.1 /><circle class=i cx=2977 cy=124 r=7.1 /><circle class=b cx=2726 cy=102 r=7.1 /><circle class=j cx=3318 cy=712 r=7.1 /><circle class=d cx=2695 cy=788 r=7.1 /><circle class=c cx=2679 cy=485 r=7.1 /><circle class=m cx=2788 cy=732 r=7.1 /><circle class=c cx=2767 cy=503 r=7.1 /><circle class=r cx=2801 cy=1083 r=7.1 /><circle class=b cx=3200 cy=202 r=7.1 /><circle class=c cx=2697 cy=378 r=7.1 /><circle class=f cx=2848 cy=285 r=7.1 /><circle class=h cx=2633 cy=568 r=7.1 /><circle class=p cx=2618 cy=746 r=7.1 /><circle class=p cx=2577 cy=774 r=7.1 /><circle class=q cx=2836 cy=486 r=7.1 /><circle class=h cx=2634 cy=549 r=7.1 /><circle class=e cx=2875 cy=574 r=7.1 /><circle class=g cx=3393 cy=614 r=7.1 /><circle class=c cx=2811 cy=319 r=7.1 /><circle class=q cx=3115 cy=469 r=7.1 /><circle class=k cx=3075 cy=228 r=7.1 /><circle class=q cx=2974 cy=692 r=7.1 /><circle class=a cx=2976 cy=560 r=7.1 /><circle class=a cx=2677 cy=527 r=7.1 /><circle class=q cx=3123 cy=366 r=7.1 /><circle class=i cx=2952 cy=261 r=7.1 /><circle class=h cx=2673 cy=561 r=7.1 /><circle class=c cx=2709 cy=423 r=7.1 /><circle class=e cx=2991 cy=77 r=7.1 /><circle class=q cx=3130 cy=462 r=7.1 /><circle class=g cx=3010 cy=1007 r=7.1 /><circle class=b cx=2839 cy=172 r=7.1 /><circle class=p cx=2587 cy=849 r=7.1 /><circle class=p cx=2671 cy=534 r=7.1 /><circle class=q cx=2835 cy=804 r=7.1 /><circle class=t cx=3100 cy=932 r=7.1 /><circle class=p cx=2609 cy=379 r=7.1 /><circle class=o cx=2755 cy=920 r=7.1 /><circle class=s cx=3311 cy=346 r=7.1 /><circle class=q cx=2832 cy=419 r=7.1 /><circle class=g cx=2990 cy=972 r=7.1 /><circle class=m cx=3048 cy=625 r=7.1 /><circle class=n cx=2464 cy=661 r=7.1 /><circle class=p cx=2678 cy=796 r=7.1 /><circle class=e cx=3135 cy=608 r=7.1 /><circle class=h cx=2563 cy=622 r=7.1 /><circle class=e cx=3085 cy=740 r=7.1 /><circle class=j cx=3252 cy=784 r=7.1 /><circle class=q cx=2834 cy=529 r=7.1 /><circle class=b cx=2827 cy=234 r=7.1 /><circle class=o cx=2880 cy=885 r=7.1 /><circle class=s cx=3196 cy=366 r=7.1 /><circle class=p cx=2664 cy=886 r=7.1 /><circle class=p cx=2658 cy=837 r=7.1 /><circle class=d cx=2676 cy=542 r=7.1 /><circle class=g cx=3307 cy=564 r=7.1 /><circle class=a cx=3229 cy=734 r=7.1 /><circle class=h cx=2561 cy=540 r=7.1 /><circle class=l cx=3006 cy=988 r=7.1 /><circle class=n cx=2541 cy=572 r=7.1 /><circle class=j cx=3282 cy=704 r=7.1 /><circle class=f cx=2997 cy=345 r=7.1 /><circle class=c cx=2489 cy=294 r=7.1 /><circle class=b cx=2621 cy=224 r=7.1 /><circle class=j cx=3004 cy=520 r=7.1 /><circle class=h cx=2692 cy=582 r=7.1 /><circle class=f cx=2927 cy=394 r=7.1 /><circle class=o cx=2788 cy=836 r=7.1 /><circle class=t cx=3140 cy=1002 r=7.1 /><circle class=c cx=2626 cy=469 r=7.1 /><circle class=t cx=2969 cy=449 r=7.1 /><circle class=q cx=2817 cy=449 r=7.1 /><circle class=k cx=2574 cy=558 r=7.1 /><circle class=o cx=2815 cy=972 r=7.1 /><circle class=p cx=2653 cy=733 r=7.1 /><circle class=d cx=2881 cy=690 r=7.1 /><circle class=t cx=3113 cy=822 r=7.1 /><circle class=t cx=3131 cy=841 r=7.1 /><circle class=k cx=2583 cy=219 r=7.1 /><circle class=m cx=2807 cy=661 r=7.1 /><circle class=k cx=2556 cy=272 r=7.1 /><circle class=c cx=2759 cy=365 r=7.1 /><circle class=c cx=2756 cy=272 r=7.1 /><circle class=f cx=3083 cy=293 r=7.1 /><circle class=e cx=2883 cy=558 r=7.1 /><circle class=j cx=3229 cy=617 r=7.1 /><circle class=c cx=2493 cy=339 r=7.1 /><circle class=s cx=3341 cy=641 r=7.1 /><circle class=f cx=3022 cy=794 r=7.1 /><circle class=p cx=2484 cy=506 r=7.1 /><circle class=p cx=2597 cy=844 r=7.1 /><circle class=h cx=2509 cy=526 r=7.1 /><circle class=g cx=3321 cy=546 r=7.1 /><circle class=a cx=3081 cy=203 r=7.1 /><circle class=o cx=2740 cy=898 r=7.1 /><circle class=i cx=2720 cy=131 r=7.1 /><circle class=l cx=3028 cy=762 r=7.1 /><circle class=c cx=2676 cy=240 r=7.1 /><circle class=c cx=2758 cy=433 r=7.1 /><circle class=m cx=3095 cy=625 r=7.1 /><circle class=b cx=2629 cy=237 r=7.1 /><circle class=h cx=2594 cy=550 r=7.1 /><circle class=o cx=2613 cy=907 r=7.1 /><circle class=d cx=2889 cy=706 r=7.1 /><circle class=a cx=2448 cy=398 r=7.1 /><circle class=n cx=3079 cy=669 r=7.1 /><circle class=d cx=2836 cy=693 r=7.1 /><circle class=j cx=3178 cy=667 r=7.1 /><circle class=o cx=2824 cy=941 r=7.1 /><circle class=h cx=2505 cy=510 r=7.1 /><circle class=s cx=3267 cy=328 r=7.1 /><circle class=c cx=2679 cy=427 r=7.1 /><circle class=a cx=3004 cy=534 r=7.1 /><circle class=t cx=3108 cy=876 r=7.1 /><circle class=m cx=2640 cy=711 r=7.1 /><circle class=c cx=3073 cy=704 r=7.1 /><circle class=h cx=2629 cy=626 r=7.1 /><circle class=e cx=3127 cy=323 r=7.1 /><circle class=j cx=3213 cy=620 r=7.1 /><circle class=j cx=3210 cy=629 r=7.1 /><circle class=f cx=2913 cy=389 r=7.1 /><circle class=p cx=2719 cy=881 r=7.1 /><circle class=b cx=2948 cy=225 r=7.1 /><circle class=i cx=3125 cy=620 r=7.1 /><circle class=c cx=2584 cy=308 r=7.1 /><circle class=p cx=2560 cy=856 r=7.1 /><circle class=k cx=2584 cy=333 r=7.1 /><circle class=q cx=2830 cy=393 r=7.1 /><circle class=o cx=2771 cy=789 r=7.1 /><circle class=f cx=3099 cy=372 r=7.1 /><circle class=e cx=3064 cy=484 r=7.1 /><circle class=l cx=2839 cy=679 r=7.1 /><circle class=e cx=3091 cy=434 r=7.1 /><circle class=c cx=2691 cy=473 r=7.1 /><circle class=p cx=2513 cy=516 r=7.1 /><circle class=h cx=2678 cy=517 r=7.1 /><circle class=c cx=2711 cy=276 r=7.1 /><circle class=j cx=3285 cy=749 r=7.1 /><circle class=t cx=3118 cy=903 r=7.1 /><circle class=r cx=2761 cy=985 r=7.1 /><circle class=e cx=2994 cy=471 r=7.1 /><circle class=t cx=3141 cy=854 r=7.1 /><circle class=m cx=2734 cy=654 r=7.1 /><circle class=o cx=2831 cy=867 r=7.1 /><circle class=c cx=2558 cy=326 r=7.1 /><circle class=t cx=3104 cy=914 r=7.1 /><circle class=d cx=2849 cy=681 r=7.1 /><circle class=b cx=2687 cy=121 r=7.1 /><circle class=n cx=2464 cy=651 r=7.1 /><circle class=a cx=3082 cy=638 r=7.1 /><circle class=m cx=2954 cy=973 r=7.1 /><circle class=t cx=3090 cy=826 r=7.1 /><circle class=b cx=2722 cy=184 r=7.1 /><circle class=c cx=2824 cy=374 r=7.1 /><circle class=o cx=2803 cy=881 r=7.1 /><circle class=m cx=2837 cy=641 r=7.1 /><circle class=o cx=2716 cy=915 r=7.1 /><circle class=m cx=2952 cy=584 r=7.1 /><circle class=o cx=2625 cy=873 r=7.1 /><circle class=j cx=3158 cy=665 r=7.1 /><circle class=t cx=3104 cy=829 r=7.1 /><circle class=d cx=2719 cy=495 r=7.1 /><circle class=c cx=2766 cy=458 r=7.1 /><circle class=q cx=3111 cy=456 r=7.1 /><circle class=k cx=3121 cy=462 r=7.1 /><circle class=f cx=3000 cy=327 r=7.1 /><circle class=j cx=3253 cy=709 r=7.1 /><circle class=r cx=2859 cy=1060 r=7.1 /><circle class=c cx=2759 cy=346 r=7.1 /><circle class=s cx=3143 cy=372 r=7.1 /><circle class=b cx=2526 cy=254 r=7.1 /><circle class=n cx=2748 cy=620 r=7.1 /><circle class=a cx=2456 cy=373 r=7.1 /><circle class=p cx=2679 cy=650 r=7.1 /><circle class=t cx=3141 cy=932 r=7.1 /><circle class=q cx=2817 cy=474 r=7.1 /><circle class=o cx=2821 cy=897 r=7.1 /><circle class=p cx=2598 cy=814 r=7.1 /><circle class=n cx=2818 cy=1091 r=7.1 /><circle class=p cx=2637 cy=784 r=7.1 /><circle class=b cx=2732 cy=215 r=7.1 /><circle class=i cx=2914 cy=248 r=7.1 /><circle class=q cx=3061 cy=674 r=7.1 /><circle class=b cx=2647 cy=333 r=7.1 /><circle class=p cx=2703 cy=545 r=7.1 /><circle class=c cx=2688 cy=301 r=7.1 /><circle class=i cx=2945 cy=241 r=7.1 /><circle class=d cx=2891 cy=228 r=7.1 /><circle class=s cx=3220 cy=365 r=7.1 /><circle class=s cx=3272 cy=385 r=7.1 /><circle class=t cx=3133 cy=891 r=7.1 /><circle class=h cx=2589 cy=570 r=7.1 /><circle class=e cx=3131 cy=283 r=7.1 /><circle class=i cx=2890 cy=237 r=7.1 /><circle class=f cx=2878 cy=371 r=7.1 /><circle class=o cx=2850 cy=939 r=7.1 /><circle class=m cx=2745 cy=680 r=7.1 /><circle class=i cx=2934 cy=263 r=7.1 /><circle class=q cx=2947 cy=778 r=7.1 /><circle class=e cx=3168 cy=269 r=7.1 /><circle class=m cx=3090 cy=755 r=7.1 /><circle class=c cx=2681 cy=473 r=7.1 /><circle class=d cx=2517 cy=804 r=7.1 /><circle class=c cx=2725 cy=427 r=7.1 /><circle class=j cx=2753 cy=91 r=7.1 /><circle class=a cx=3002 cy=565 r=7.1 /><circle class=n cx=3128 cy=740 r=7.1 /><circle class=t cx=3083 cy=959 r=7.1 /><circle class=o cx=2702 cy=925 r=7.1 /><circle class=b cx=2807 cy=271 r=7.1 /><circle class=t cx=3046 cy=819 r=7.1 /><circle class=m cx=2985 cy=310 r=7.1 /><circle class=t cx=3148 cy=925 r=7.1 /><circle class=e cx=2930 cy=548 r=7.1 /><circle class=q cx=2857 cy=476 r=7.1 /><circle class=c cx=2529 cy=306 r=7.1 /><circle class=k cx=2575 cy=250 r=7.1 /><circle class=p cx=2685 cy=499 r=7.1 /><circle class=f cx=3006 cy=421 r=7.1 /><circle class=c cx=2741 cy=409 r=7.1 /><circle class=c cx=2743 cy=400 r=7.1 /><circle class=q cx=2851 cy=416 r=7.1 /><circle class=o cx=3310 cy=706 r=7.1 /><circle class=t cx=3165 cy=823 r=7.1 /><circle class=s cx=3230 cy=347 r=7.1 /><circle class=d cx=2683 cy=535 r=7.1 /><circle class=o cx=2838 cy=776 r=7.1 /><circle class=c cx=2638 cy=332 r=7.1 /><circle class=i cx=2928 cy=78 r=7.1 /><circle class=t cx=2999 cy=161 r=7.1 /><circle class=i cx=2891 cy=206 r=7.1 /><circle class=g cx=3409 cy=656 r=7.1 /><circle class=q cx=2930 cy=385 r=7.1 /><circle class=c cx=2530 cy=442 r=7.1 /><circle class=p cx=2631 cy=823 r=7.1 /><circle class=s cx=3210 cy=820 r=7.1 /><circle class=i cx=3006 cy=195 r=7.1 /><circle class=l cx=2792 cy=1091 r=7.1 /><circle class=q cx=2798 cy=472 r=7.1 /><circle class=b cx=2736 cy=206 r=7.1 /><circle class=t cx=3119 cy=851 r=7.1 /><circle class=t cx=3186 cy=837 r=7.1 /><circle class=q cx=2839 cy=856 r=7.1 /><circle class=i cx=2850 cy=164 r=7.1 /><circle class=r cx=2769 cy=1000 r=7.1 /><circle class=c cx=2736 cy=445 r=7.1 /><circle class=o cx=2875 cy=989 r=7.1 /><circle class=k cx=2616 cy=250 r=7.1 /><circle class=p cx=2437 cy=543 r=7.1 /><circle class=t cx=3211 cy=897 r=7.1 /><circle class=f cx=2872 cy=387 r=7.1 /><circle class=h cx=2685 cy=545 r=7.1 /><circle class=p cx=2640 cy=720 r=7.1 /><circle class=g cx=3332 cy=580 r=7.1 /><circle class=f cx=2969 cy=353 r=7.1 /><circle class=p cx=2646 cy=815 r=7.1 /><circle class=j cx=3383 cy=634 r=7.1 /><circle class=k cx=2562 cy=511 r=7.1 /><circle class=c cx=2713 cy=485 r=7.1 /><circle class=h cx=2586 cy=830 r=7.1 /><circle class=h cx=3030 cy=929 r=7.1 /><circle class=m cx=2746 cy=728 r=7.1 /><circle class=s cx=3307 cy=332 r=7.1 /><circle class=d cx=2878 cy=769 r=7.1 /><circle class=o cx=2797 cy=788 r=7.1 /><circle class=h cx=2573 cy=648 r=7.1 /><circle class=p cx=2624 cy=854 r=7.1 /><circle class=b cx=2639 cy=229 r=7.1 /><circle class=b cx=2753 cy=194 r=7.1 /><circle class=o cx=2833 cy=935 r=7.1 /><circle class=t cx=3030 cy=918 r=7.1 /><circle class=h cx=2626 cy=543 r=7.1 /><circle class=m cx=2730 cy=685 r=7.1 /><circle class=j cx=3230 cy=713 r=7.1 /><circle class=j cx=3290 cy=757 r=7.1 /><circle class=k cx=2596 cy=183 r=7.1 /><circle class=l cx=2926 cy=729 r=7.1 /><circle class=a cx=2620 cy=301 r=7.1 /><circle class=k cx=2630 cy=227 r=7.1 /><circle class=i cx=2810 cy=108 r=7.1 /><circle class=m cx=3307 cy=518 r=7.1 /><circle class=n cx=2478 cy=621 r=7.1 /><circle class=i cx=3006 cy=125 r=7.1 /><circle class=k cx=2583 cy=210 r=7.1 /><circle class=t cx=3039 cy=907 r=7.1 /><circle class=m cx=3086 cy=587 r=7.1 /><circle class=l cx=2943 cy=752 r=7.1 /><circle class=d cx=2602 cy=760 r=7.1 /><circle class=n cx=2496 cy=649 r=7.1 /><circle class=m cx=2769 cy=628 r=7.1 /><circle class=c cx=2693 cy=464 r=7.1 /><circle class=d cx=2962 cy=83 r=7.1 /><circle class=q cx=3106 cy=521 r=7.1 /><circle class=e cx=3076 cy=406 r=7.1 /><circle class=t cx=3229 cy=855 r=7.1 /><circle class=n cx=2785 cy=573 r=7.1 /><circle class=b cx=2783 cy=180 r=7.1 /><circle class=p cx=2762 cy=783 r=7.1 /><circle class=h cx=2794 cy=778 r=7.1 /><circle class=i cx=2931 cy=310 r=7.1 /><circle class=t cx=3043 cy=880 r=7.1 /><circle class=n cx=2486 cy=456 r=7.1 /><circle class=j cx=3265 cy=820 r=7.1 /><circle class=o cx=2692 cy=882 r=7.1 /><circle class=q cx=2826 cy=441 r=7.1 /><circle class=g cx=3399 cy=598 r=7.1 /><circle class=e cx=3189 cy=528 r=7.1 /><circle class=c cx=2643 cy=342 r=7.1 /><circle class=c cx=2711 cy=286 r=7.1 /><circle class=n cx=2485 cy=678 r=7.1 /><circle class=o cx=2774 cy=895 r=7.1 /><circle class=m cx=2837 cy=709 r=7.1 /><circle class=r cx=2801 cy=1051 r=7.1 /><circle class=j cx=2998 cy=238 r=7.1 /><circle class=m cx=2838 cy=794 r=7.1 /><circle class=h cx=2616 cy=566 r=7.1 /><circle class=e cx=3113 cy=301 r=7.1 /><circle class=d cx=2699 cy=779 r=7.1 /><circle class=a cx=2551 cy=426 r=7.1 /><circle class=d cx=2693 cy=555 r=7.1 /><circle class=c cx=2686 cy=330 r=7.1 /><circle class=l cx=2843 cy=688 r=7.1 /><circle class=q cx=2857 cy=409 r=7.1 /><circle class=b cx=3175 cy=300 r=7.1 /><circle class=a cx=2486 cy=345 r=7.1 /><circle class=c cx=2621 cy=455 r=7.1 /><circle class=l cx=2988 cy=755 r=7.1 /><circle class=j cx=3299 cy=759 r=7.1 /><circle class=t cx=3137 cy=824 r=7.1 /><circle class=j cx=3183 cy=723 r=7.1 /><circle class=f cx=3037 cy=422 r=7.1 /><circle class=t cx=3348 cy=397 r=7.1 /><circle class=r cx=2868 cy=1006 r=7.1 /><circle class=f cx=3080 cy=752 r=7.1 /><circle class=c cx=2687 cy=392 r=7.1 /><circle class=i cx=2893 cy=264 r=7.1 /><circle class=c cx=2696 cy=332 r=7.1 /><circle class=o cx=2743 cy=890 r=7.1 /><circle class=d cx=2675 cy=740 r=7.1 /><circle class=p cx=2586 cy=901 r=7.1 /><circle class=a cx=3098 cy=115 r=7.1 /><circle class=c cx=2778 cy=420 r=7.1 /><circle class=c cx=2752 cy=441 r=7.1 /><circle class=q cx=3229 cy=864 r=7.1 /><circle class=q cx=2837 cy=426 r=7.1 /><circle class=c cx=2712 cy=381 r=7.1 /><circle class=l cx=2989 cy=833 r=7.1 /><circle class=n cx=2876 cy=542 r=7.1 /><circle class=l cx=3176 cy=619 r=7.1 /><circle class=q cx=2824 cy=400 r=7.1 /><circle class=o cx=2727 cy=885 r=7.1 /><circle class=j cx=3020 cy=424 r=7.1 /><circle class=b cx=2783 cy=255 r=7.1 /><circle class=l cx=2963 cy=644 r=7.1 /><circle class=h cx=2632 cy=578 r=7.1 /><circle class=t cx=3127 cy=905 r=7.1 /><circle class=q cx=2871 cy=447 r=7.1 /><circle class=q cx=2823 cy=480 r=7.1 /><circle class=p cx=2551 cy=859 r=7.1 /><circle class=e cx=3151 cy=218 r=7.1 /><circle class=q cx=3132 cy=532 r=7.1 /><circle class=d cx=2717 cy=591 r=7.1 /><circle class=m cx=3227 cy=441 r=7.1 /><circle class=p cx=2616 cy=822 r=7.1 /><circle class=t cx=3194 cy=863 r=7.1 /><circle class=f cx=2987 cy=351 r=7.1 /><circle class=e cx=2876 cy=623 r=7.1 /><circle class=j cx=3183 cy=781 r=7.1 /><circle class=s cx=3272 cy=375 r=7.1 /><circle class=c cx=2832 cy=296 r=7.1 /><circle class=h cx=2624 cy=574 r=7.1 /><circle class=f cx=3029 cy=413 r=7.1 /><circle class=s cx=3336 cy=632 r=7.1 /><circle class=m cx=2791 cy=625 r=7.1 /><circle class=i cx=2821 cy=159 r=7.1 /><circle class=p cx=2534 cy=733 r=7.1 /><circle class=o cx=2735 cy=914 r=7.1 /><circle class=i cx=2835 cy=70 r=7.1 /><circle class=m cx=2703 cy=698 r=7.1 /><circle class=c cx=2752 cy=371 r=7.1 /><circle class=b cx=2677 cy=178 r=7.1 /><circle class=o cx=2578 cy=881 r=7.1 /><circle class=d cx=2940 cy=662 r=7.1 /><circle class=o cx=2723 cy=900 r=7.1 /><circle class=i cx=2924 cy=298 r=7.1 /><circle class=b cx=2826 cy=130 r=7.1 /><circle class=o cx=2834 cy=970 r=7.1 /><circle class=c cx=2694 cy=347 r=7.1 /><circle class=p cx=2584 cy=911 r=7.1 /><circle class=e cx=3071 cy=452 r=7.1 /><circle class=a cx=2575 cy=803 r=7.1 /><circle class=p cx=2629 cy=771 r=7.1 /><circle class=q cx=2904 cy=428 r=7.1 /><circle class=l cx=2948 cy=760 r=7.1 /><circle class=e cx=3138 cy=289 r=7.1 /><circle class=e cx=3090 cy=665 r=7.1 /><circle class=t cx=3141 cy=889 r=7.1 /><circle class=o cx=2838 cy=893 r=7.1 /><circle class=r cx=2874 cy=999 r=7.1 /><circle class=i cx=3032 cy=226 r=7.1 /><circle class=o cx=2804 cy=813 r=7.1 /><circle class=q cx=2848 cy=494 r=7.1 /><circle class=p cx=2467 cy=465 r=7.1 /><circle class=t cx=3128 cy=929 r=7.1 /><circle class=q cx=2860 cy=468 r=7.1 /><circle class=o cx=2771 cy=803 r=7.1 /><circle class=b cx=2648 cy=235 r=7.1 /><circle class=h cx=3002 cy=932 r=7.1 /><circle class=i cx=2885 cy=213 r=7.1 /><circle class=j cx=3014 cy=419 r=7.1 /><circle class=h cx=3182 cy=522 r=7.1 /><circle class=l cx=2905 cy=732 r=7.1 /><circle class=q cx=2778 cy=386 r=7.1 /><circle class=c cx=2732 cy=412 r=7.1 /><circle class=p cx=2624 cy=651 r=7.1 /><circle class=q cx=2820 cy=462 r=7.1 /><circle class=t cx=3072 cy=944 r=7.1 /><circle class=o cx=2783 cy=828 r=7.1 /><circle class=a cx=3047 cy=233 r=7.1 /><circle class=b cx=2588 cy=285 r=7.1 /><circle class=c cx=2779 cy=280 r=7.1 /><circle class=f cx=3035 cy=327 r=7.1 /><circle class=d cx=2877 cy=665 r=7.1 /><circle class=b cx=2713 cy=143 r=7.1 /><circle class=t cx=3073 cy=890 r=7.1 /><circle class=q cx=2733 cy=593 r=7.1 /><circle class=o cx=2801 cy=896 r=7.1 /><circle class=c cx=2715 cy=295 r=7.1 /><circle class=b cx=2726 cy=92 r=7.1 /><circle class=d cx=2881 cy=728 r=7.1 /><circle class=p cx=2673 cy=919 r=7.1 /><circle class=a cx=2953 cy=574 r=7.1 /><circle class=t cx=3105 cy=941 r=7.1 /><circle class=o cx=2794 cy=851 r=7.1 /><circle class=f cx=2917 cy=305 r=7.1 /><circle class=c cx=2703 cy=371 r=7.1 /><circle class=h cx=2534 cy=559 r=7.1 /><circle class=b cx=2717 cy=122 r=7.1 /><circle class=d cx=2628 cy=744 r=7.1 /><circle class=o cx=2712 cy=897 r=7.1 /><circle class=o cx=2786 cy=867 r=7.1 /><circle class=s cx=3237 cy=465 r=7.1 /><circle class=o cx=3285 cy=737 r=7.1 /><circle class=t cx=3150 cy=888 r=7.1 /><circle class=a cx=3051 cy=168 r=7.1 /><circle class=d cx=2861 cy=755 r=7.1 /><circle class=r cx=2835 cy=1091 r=7.1 /><circle class=m cx=2689 cy=650 r=7.1 /><circle class=m cx=2769 cy=651 r=7.1 /><circle class=e cx=3227 cy=555 r=7.1 /><circle class=n cx=2805 cy=578 r=7.1 /><circle class=f cx=2871 cy=409 r=7.1 /><circle class=q cx=2822 cy=864 r=7.1 /><circle class=s cx=3266 cy=343 r=7.1 /><circle class=k cx=2631 cy=170 r=7.1 /><circle class=j cx=3288 cy=714 r=7.1 /><circle class=j cx=3178 cy=770 r=7.1 /><circle class=g cx=3438 cy=625 r=7.1 /><circle class=r cx=2844 cy=984 r=7.1 /><circle class=k cx=3023 cy=340 r=7.1 /><circle class=j cx=3320 cy=760 r=7.1 /><circle class=m cx=2690 cy=634 r=7.1 /><circle class=f cx=2984 cy=320 r=7.1 /><circle class=k cx=2877 cy=780 r=7.1 /><circle class=k cx=2655 cy=397 r=7.1 /><circle class=e cx=3186 cy=230 r=7.1 /><circle class=p cx=2573 cy=679 r=7.1 /><circle class=p cx=2628 cy=780 r=7.1 /><circle class=f cx=2884 cy=379 r=7.1 /><circle class=t cx=3167 cy=923 r=7.1 /><circle class=t cx=3219 cy=227 r=7.1 /><circle class=e cx=3034 cy=565 r=7.1 /><circle class=e cx=3003 cy=481 r=7.1 /><circle class=n cx=2767 cy=609 r=7.1 /><circle class=l cx=2953 cy=796 r=7.1 /><circle class=t cx=3025 cy=836 r=7.1 /><circle class=c cx=2671 cy=484 r=7.1 /><circle class=p cx=2573 cy=727 r=7.1 /><circle class=c cx=2938 cy=459 r=7.1 /><circle class=l cx=2933 cy=689 r=7.1 /><circle class=q cx=3021 cy=721 r=7.1 /><circle class=j cx=3197 cy=696 r=7.1 /><circle class=b cx=2722 cy=250 r=7.1 /><circle class=m cx=2702 cy=678 r=7.1 /><circle class=k cx=2640 cy=219 r=7.1 /><circle class=h cx=2599 cy=684 r=7.1 /><circle class=b cx=2785 cy=222 r=7.1 /><circle class=d cx=2724 cy=517 r=7.1 /><circle class=d cx=2968 cy=120 r=7.1 /><circle class=i cx=2921 cy=264 r=7.1 /><circle class=m cx=2814 cy=750 r=7.1 /><circle class=f cx=3214 cy=572 r=7.1 /><circle class=t cx=3161 cy=871 r=7.1 /><circle class=j cx=3116 cy=702 r=7.1 /><circle class=b cx=2722 cy=277 r=7.1 /><circle class=r cx=2843 cy=1032 r=7.1 /><circle class=c cx=2837 cy=306 r=7.1 /><circle class=f cx=2940 cy=386 r=7.1 /><circle class=c cx=2755 cy=287 r=7.1 /><circle class=i cx=2882 cy=242 r=7.1 /><circle class=n cx=2816 cy=540 r=7.1 /><circle class=p cx=2585 cy=707 r=7.1 /><circle class=a cx=2939 cy=518 r=7.1 /><circle class=p cx=2568 cy=853 r=7.1 /><circle class=n cx=2413 cy=642 r=7.1 /><circle class=i cx=2938 cy=222 r=7.1 /><circle class=q cx=2840 cy=434 r=7.1 /><circle class=e cx=3104 cy=547 r=7.1 /><circle class=n cx=3085 cy=730 r=7.1 /><circle class=i cx=3004 cy=226 r=7.1 /><circle class=o cx=2855 cy=797 r=7.1 /><circle class=n cx=2831 cy=541 r=7.1 /><circle class=a cx=2995 cy=517 r=7.1 /><circle class=h cx=2672 cy=686 r=7.1 /><circle class=k cx=2525 cy=507 r=7.1 /><circle class=f cx=2964 cy=332 r=7.1 /><circle class=i cx=2859 cy=337 r=7.1 /><circle class=m cx=3075 cy=580 r=7.1 /><circle class=b cx=2800 cy=150 r=7.1 /><circle class=a cx=2963 cy=553 r=7.1 /><circle class=o cx=2920 cy=887 r=7.1 /><circle class=c cx=2774 cy=296 r=7.1 /><circle class=m cx=2628 cy=687 r=7.1 /><circle class=o cx=2761 cy=824 r=7.1 /><circle class=e cx=2795 cy=564 r=7.1 /><circle class=n cx=3107 cy=680 r=7.1 /><circle class=e cx=3185 cy=299 r=7.1 /><circle class=l cx=3038 cy=673 r=7.1 /><circle class=h cx=2655 cy=890 r=7.1 /><circle class=o cx=2899 cy=924 r=7.1 /><circle class=c cx=2674 cy=442 r=7.1 /><circle class=h cx=2652 cy=678 r=7.1 /><circle class=h cx=3209 cy=515 r=7.1 /><circle class=n cx=3088 cy=708 r=7.1 /><circle class=h cx=2579 cy=550 r=7.1 /><circle class=p cx=2590 cy=515 r=7.1 /><circle class=k cx=2547 cy=140 r=7.1 /><circle class=c cx=2669 cy=386 r=7.1 /><circle class=j cx=3135 cy=621 r=7.1 /><circle class=p cx=2489 cy=497 r=7.1 /><circle class=q cx=2930 cy=452 r=7.1 /><circle class=n cx=2883 cy=586 r=7.1 /><circle class=q cx=2864 cy=405 r=7.1 /><circle class=b cx=2703 cy=111 r=7.1 /><circle class=a cx=2957 cy=408 r=7.1 /><circle class=p cx=2424 cy=477 r=7.1 /><circle class=s cx=3308 cy=683 r=7.1 /><circle class=c cx=2699 cy=260 r=7.1 /><circle class=a cx=2480 cy=431 r=7.1 /><circle class=n cx=2476 cy=646 r=7.1 /><circle class=g cx=3135 cy=564 r=7.1 /><circle class=f cx=3138 cy=414 r=7.1 /><circle class=h cx=2655 cy=629 r=7.1 /><circle class=o cx=2841 cy=942 r=7.1 /><circle class=h cx=2429 cy=413 r=7.1 /><circle class=m cx=3091 cy=572 r=7.1 /><circle class=q cx=2891 cy=412 r=7.1 /><circle class=a cx=3022 cy=265 r=7.1 /><circle class=l cx=3028 cy=713 r=7.1 /><circle class=c cx=2744 cy=301 r=7.1 /><circle class=a cx=2955 cy=548 r=7.1 /><circle class=m cx=2920 cy=829 r=7.1 /><circle class=s cx=3281 cy=370 r=7.1 /><circle class=q cx=2803 cy=489 r=7.1 /><circle class=q cx=3138 cy=750 r=7.1 /><circle class=p cx=2612 cy=831 r=7.1 /><circle class=d cx=2526 cy=552 r=7.1 /><circle class=n cx=2436 cy=567 r=7.1 /><circle class=h cx=2586 cy=543 r=7.1 /><circle class=q cx=3092 cy=417 r=7.1 /><circle class=d cx=2641 cy=530 r=7.1 /><circle class=f cx=2972 cy=288 r=7.1 /><circle class=q cx=2841 cy=724 r=7.1 /><circle class=f cx=3034 cy=217 r=7.1 /><circle class=c cx=2791 cy=441 r=7.1 /><circle class=h cx=2533 cy=568 r=7.1 /><circle class=j cx=3277 cy=670 r=7.1 /><circle class=b cx=2611 cy=174 r=7.1 /><circle class=j cx=3265 cy=684 r=7.1 /><circle class=f cx=3022 cy=395 r=7.1 /><circle class=p cx=2645 cy=802 r=7.1 /><circle class=c cx=2763 cy=394 r=7.1 /><circle class=s cx=3001 cy=597 r=7.1 /><circle class=q cx=3082 cy=556 r=7.1 /><circle class=p cx=2550 cy=784 r=7.1 /><circle class=k cx=2548 cy=498 r=7.1 /><circle class=g cx=3392 cy=592 r=7.1 /><circle class=c cx=2669 cy=429 r=7.1 /><circle class=p cx=2573 cy=812 r=7.1 /><circle class=s cx=3151 cy=421 r=7.1 /><circle class=m cx=2693 cy=674 r=7.1 /><circle class=b cx=2777 cy=101 r=7.1 /><circle class=p cx=2422 cy=467 r=7.1 /><circle class=t cx=3162 cy=835 r=7.1 /><circle class=b cx=2641 cy=168 r=7.1 /><circle class=t cx=3133 cy=873 r=7.1 /><circle class=h cx=2874 cy=584 r=7.1 /><circle class=c cx=2749 cy=279 r=7.1 /><circle class=d cx=2712 cy=835 r=7.1 /><circle class=d cx=2620 cy=324 r=7.1 /><circle class=a cx=2985 cy=483 r=7.1 /><circle class=k cx=2631 cy=218 r=7.1 /><circle class=p cx=2649 cy=746 r=7.1 /><circle class=s cx=3273 cy=336 r=7.1 /><circle class=c cx=2397 cy=464 r=7.1 /><circle class=q cx=2819 cy=872 r=7.1 /><circle class=o cx=2984 cy=931 r=7.1 /><circle class=c cx=2812 cy=379 r=7.1 /><circle class=b cx=2986 cy=221 r=7.1 /><circle class=o cx=2832 cy=943 r=7.1 /><circle class=t cx=3123 cy=791 r=7.1 /><circle class=b cx=2617 cy=470 r=7.1 /><circle class=i cx=3175 cy=202 r=7.1 /><circle class=n cx=2428 cy=395 r=7.1 /><circle class=m cx=2789 cy=769 r=7.1 /><circle class=m cx=2672 cy=644 r=7.1 /><circle class=a cx=3044 cy=215 r=7.1 /><circle class=c cx=2777 cy=318 r=7.1 /><circle class=h cx=2628 cy=523 r=7.1 /><circle class=h cx=3018 cy=528 r=7.1 /><circle class=j cx=3258 cy=599 r=7.1 /><circle class=q cx=3197 cy=830 r=7.1 /><circle class=q cx=3100 cy=755 r=7.1 /><circle class=d cx=2869 cy=721 r=7.1 /><circle class=m cx=2688 cy=694 r=7.1 /><circle class=b cx=2677 cy=102 r=7.1 /><circle class=e cx=2936 cy=556 r=7.1 /><circle class=c cx=2592 cy=379 r=7.1 /><circle class=t cx=3219 cy=908 r=7.1 /><circle class=d cx=3276 cy=565 r=7.1 /><circle class=i cx=2869 cy=209 r=7.1 /><circle class=f cx=3224 cy=667 r=7.1 /><circle class=m cx=3055 cy=685 r=7.1 /><circle class=c cx=2585 cy=421 r=7.1 /><circle class=c cx=2818 cy=337 r=7.1 /><circle class=m cx=2722 cy=707 r=7.1 /><circle class=h cx=2646 cy=856 r=7.1 /><circle class=p cx=2522 cy=777 r=7.1 /><circle class=t cx=3058 cy=915 r=7.1 /><circle class=p cx=2580 cy=842 r=7.1 /><circle class=f cx=2973 cy=336 r=7.1 /><circle class=c cx=2763 cy=477 r=7.1 /><circle class=p cx=2688 cy=745 r=7.1 /><circle class=c cx=2704 cy=309 r=7.1 /><circle class=t cx=3159 cy=854 r=7.1 /><circle class=o cx=3217 cy=714 r=7.1 /><circle class=p cx=2594 cy=863 r=7.1 /><circle class=o cx=2757 cy=903 r=7.1 /><circle class=s cx=3289 cy=352 r=7.1 /><circle class=h cx=2884 cy=548 r=7.1 /><circle class=b cx=2731 cy=147 r=7.1 /><circle class=c cx=2731 cy=469 r=7.1 /><circle class=e cx=2795 cy=516 r=7.1 /><circle class=s cx=3277 cy=327 r=7.1 /><circle class=a cx=2985 cy=675 r=7.1 /><circle class=c cx=2685 cy=344 r=7.1 /><circle class=b cx=2704 cy=140 r=7.1 /><circle class=d cx=2755 cy=718 r=7.1 /><circle class=m cx=2707 cy=646 r=7.1 /><circle class=o cx=2848 cy=925 r=7.1 /><circle class=t cx=3036 cy=969 r=7.1 /><circle class=c cx=2713 cy=393 r=7.1 /><circle class=c cx=2644 cy=354 r=7.1 /><circle class=q cx=3219 cy=805 r=7.1 /><circle class=t cx=3073 cy=984 r=7.1 /><circle class=o cx=2839 cy=928 r=7.1 /><circle class=q cx=2819 cy=783 r=7.1 /><circle class=c cx=2715 cy=430 r=7.1 /><circle class=c cx=2580 cy=452 r=7.1 /><circle class=n cx=2436 cy=624 r=7.1 /><circle class=q cx=3108 cy=535 r=7.1 /><circle class=o cx=2758 cy=912 r=7.1 /><circle class=c cx=2696 cy=457 r=7.1 /><circle class=e cx=3188 cy=285 r=7.1 /><circle class=c cx=2653 cy=448 r=7.1 /><circle class=q cx=2792 cy=420 r=7.1 /><circle class=c cx=2756 cy=379 r=7.1 /><circle class=m cx=3081 cy=519 r=7.1 /><circle class=f cx=2965 cy=361 r=7.1 /><circle class=m cx=2733 cy=582 r=7.1 /><circle class=a cx=3202 cy=252 r=7.1 /><circle class=c cx=2767 cy=362 r=7.1 /><circle class=o cx=2831 cy=875 r=7.1 /><circle class=c cx=2793 cy=359 r=7.1 /><circle class=p cx=2561 cy=825 r=7.1 /><circle class=e cx=3170 cy=226 r=7.1 /><circle class=s cx=3182 cy=406 r=7.1 /><circle class=e cx=2926 cy=528 r=7.1 /><circle class=p cx=2686 cy=525 r=7.1 /><circle class=b cx=2686 cy=131 r=7.1 /><circle class=k cx=2564 cy=498 r=7.1 /><circle class=q cx=3109 cy=409 r=7.1 /><circle class=f cx=2997 cy=336 r=7.1 /><circle class=s cx=3316 cy=336 r=7.1 /><circle class=c cx=2668 cy=453 r=7.1 /><circle class=b cx=2680 cy=217 r=7.1 /><circle class=m cx=3033 cy=681 r=7.1 /><circle class=t cx=3174 cy=862 r=7.1 /><circle class=j cx=3311 cy=756 r=7.1 /><circle class=j cx=3277 cy=733 r=7.1 /><circle class=d cx=2978 cy=844 r=7.1 /><circle class=i cx=2916 cy=131 r=7.1 /><circle class=c cx=2703 cy=271 r=7.1 /><circle class=e cx=3237 cy=556 r=7.1 /><circle class=b cx=2660 cy=222 r=7.1 /><circle class=b cx=2661 cy=177 r=7.1 /><circle class=p cx=2643 cy=675 r=7.1 /><circle class=d cx=2694 cy=769 r=7.1 /><circle class=c cx=2804 cy=387 r=7.1 /><circle class=r cx=3144 cy=432 r=7.1 /><circle class=g cx=3436 cy=588 r=7.1 /><circle class=d cx=2698 cy=469 r=7.1 /><circle class=e cx=2966 cy=434 r=7.1 /><circle class=m cx=2509 cy=624 r=7.1 /><circle class=q cx=2896 cy=440 r=7.1 /><circle class=q cx=2774 cy=510 r=7.1 /><circle class=p cx=2539 cy=873 r=7.1 /><circle class=a cx=2995 cy=580 r=7.1 /><circle class=k cx=3056 cy=497 r=7.1 /><circle class=p cx=2735 cy=779 r=7.1 /><circle class=q cx=2740 cy=615 r=7.1 /><circle class=j cx=3168 cy=979 r=7.1 /><circle class=o cx=2841 cy=919 r=7.1 /><circle class=c cx=2575 cy=423 r=7.1 /><circle class=b cx=2753 cy=205 r=7.1 /><circle class=b cx=2827 cy=244 r=7.1 /><circle class=j cx=3233 cy=659 r=7.1 /><circle class=q cx=3219 cy=854 r=7.1 /><circle class=c cx=2747 cy=232 r=7.1 /><circle class=l cx=2918 cy=684 r=7.1 /><circle class=k cx=2582 cy=244 r=7.1 /><circle class=e cx=2976 cy=309 r=7.1 /><circle class=b cx=2694 cy=247 r=7.1 /><circle class=n cx=2784 cy=604 r=7.1 /><circle class=s cx=3323 cy=375 r=7.1 /><circle class=b cx=2689 cy=225 r=7.1 /><circle class=t cx=3035 cy=988 r=7.1 /><circle class=q cx=2871 cy=377 r=7.1 /><circle class=b cx=2885 cy=776 r=7.1 /><circle class=k cx=2559 cy=259 r=7.1 /><circle class=d cx=2828 cy=745 r=7.1 /><circle class=f cx=2898 cy=273 r=7.1 /><circle class=i cx=2819 cy=179 r=7.1 /><circle class=q cx=2862 cy=558 r=7.1 /><circle class=r cx=2790 cy=1067 r=7.1 /><circle class=k cx=2570 cy=197 r=7.1 /><circle class=p cx=2578 cy=479 r=7.1 /><circle class=q cx=2830 cy=858 r=7.1 /><circle class=p cx=2589 cy=839 r=7.1 /><circle class=b cx=2753 cy=127 r=7.1 /><circle class=r cx=2822 cy=990 r=7.1 /><circle class=m cx=2752 cy=634 r=7.1 /><circle class=l cx=2932 cy=665 r=7.1 /><circle class=i cx=2953 cy=47 r=7.1 /><circle class=h cx=2590 cy=680 r=7.1 /><circle class=c cx=2654 cy=428 r=7.1 /><circle class=a cx=2966 cy=565 r=7.1 /><circle class=a cx=3198 cy=223 r=7.1 /><circle class=j cx=3213 cy=723 r=7.1 /><circle class=t cx=3111 cy=845 r=7.1 /><circle class=l cx=2922 cy=713 r=7.1 /><circle class=c cx=2781 cy=326 r=7.1 /><circle class=n cx=2497 cy=615 r=7.1 /><circle class=s cx=3255 cy=496 r=7.1 /><circle class=m cx=2777 cy=755 r=7.1 /><circle class=m cx=2729 cy=751 r=7.1 /><circle class=h cx=3023 cy=287 r=7.1 /><circle class=b cx=2958 cy=352 r=7.1 /><circle class=h cx=2533 cy=621 r=7.1 /><circle class=b cx=2619 cy=606 r=7.1 /><circle class=n cx=2839 cy=583 r=7.1 /><circle class=s cx=3194 cy=354 r=7.1 /><circle class=i cx=3133 cy=809 r=7.1 /><circle class=p cx=2555 cy=723 r=7.1 /><circle class=g cx=3406 cy=618 r=7.1 /><circle class=c cx=2523 cy=353 r=7.1 /><circle class=i cx=2953 cy=57 r=7.1 /><circle class=c cx=2909 cy=630 r=7.1 /><circle class=r cx=2522 cy=676 r=7.1 /><circle class=c cx=2734 cy=392 r=7.1 /><circle class=e cx=3140 cy=279 r=7.1 /><circle class=d cx=2706 cy=828 r=7.1 /><circle class=p cx=2631 cy=761 r=7.1 /><circle class=n cx=2431 cy=612 r=7.1 /><circle class=r cx=2869 cy=1016 r=7.1 /><circle class=k cx=2673 cy=151 r=7.1 /><circle class=o cx=2877 cy=835 r=7.1 /><circle class=d cx=2908 cy=741 r=7.1 /><circle class=a cx=3017 cy=575 r=7.1 /><circle class=p cx=2616 cy=849 r=7.1 /><circle class=t cx=3126 cy=878 r=7.1 /><circle class=j cx=3276 cy=775 r=7.1 /><circle class=m cx=2797 cy=618 r=7.1 /><circle class=s cx=3216 cy=374 r=7.1 /><circle class=q cx=3038 cy=729 r=7.1 /><circle class=f cx=2900 cy=414 r=7.1 /><circle class=a cx=3046 cy=205 r=7.1 /><circle class=q cx=2825 cy=791 r=7.1 /><circle class=c cx=2749 cy=309 r=7.1 /><circle class=q cx=2891 cy=430 r=7.1 /><circle class=m cx=2705 cy=670 r=7.1 /><circle class=j cx=3319 cy=675 r=7.1 /><circle class=i cx=2853 cy=237 r=7.1 /><circle class=m cx=3070 cy=605 r=7.1 /><circle class=r cx=2798 cy=1030 r=7.1 /><circle class=a cx=3042 cy=186 r=7.1 /><circle class=t cx=3130 cy=958 r=7.1 /><circle class=d cx=2915 cy=1023 r=7.1 /><circle class=p cx=2920 cy=806 r=7.1 /><circle class=q cx=2855 cy=400 r=7.1 /><circle class=c cx=2658 cy=406 r=7.1 /><circle class=c cx=2659 cy=474 r=7.1 /><circle class=d cx=2875 cy=247 r=7.1 /><circle class=a cx=3074 cy=218 r=7.1 /><circle class=p cx=2565 cy=720 r=7.1 /><circle class=b cx=2687 cy=150 r=7.1 /><circle class=q cx=2854 cy=446 r=7.1 /><circle class=j cx=3192 cy=565 r=7.1 /><circle class=d cx=2677 cy=594 r=7.1 /><circle class=a cx=2467 cy=376 r=7.1 /><circle class=j cx=2979 cy=519 r=7.1 /><circle class=b cx=2794 cy=228 r=7.1 /><circle class=c cx=2817 cy=351 r=7.1 /><circle class=e cx=3213 cy=415 r=7.1 /><circle class=q cx=2835 cy=830 r=7.1 /><circle class=o cx=2841 cy=885 r=7.1 /><circle class=a cx=2581 cy=402 r=7.1 /><circle class=m cx=2826 cy=831 r=7.1 /><circle class=k cx=2576 cy=204 r=7.1 /><circle class=e cx=3027 cy=559 r=7.1 /><circle class=b cx=2774 cy=309 r=7.1 /><circle class=t cx=3194 cy=900 r=7.1 /><circle class=i cx=3125 cy=163 r=7.1 /><circle class=t cx=2997 cy=922 r=7.1 /><circle class=i cx=2898 cy=213 r=7.1 /><circle class=h cx=2587 cy=559 r=7.1 /><circle class=h cx=3126 cy=541 r=7.1 /><circle class=c cx=2660 cy=284 r=7.1 /><circle class=d cx=2768 cy=750 r=7.1 /><circle class=e cx=3195 cy=535 r=7.1 /><circle class=e cx=2961 cy=260 r=7.1 /><circle class=b cx=2774 cy=140 r=7.1 /><circle class=f cx=3005 cy=438 r=7.1 /><circle class=i cx=2882 cy=203 r=7.1 /><circle class=p cx=2564 cy=816 r=7.1 /><circle class=c cx=2688 cy=429 r=7.1 /><circle class=i cx=2931 cy=185 r=7.1 /><circle class=i cx=2929 cy=118 r=7.1 /><circle class=r cx=2838 cy=1091 r=7.1 /><circle class=d cx=2860 cy=649 r=7.1 /><circle class=t cx=3107 cy=905 r=7.1 /><circle class=t cx=3204 cy=885 r=7.1 /><circle class=g cx=3372 cy=582 r=7.1 /><circle class=c cx=2721 cy=398 r=7.1 /><circle class=l cx=2900 cy=748 r=7.1 /><circle class=a cx=3111 cy=178 r=7.1 /><circle class=l cx=2955 cy=674 r=7.1 /><circle class=t cx=3099 cy=890 r=7.1 /><circle class=d cx=2776 cy=561 r=7.1 /><circle class=r cx=2775 cy=1045 r=7.1 /><circle class=c cx=2396 cy=479 r=7.1 /><circle class=k cx=2561 cy=195 r=7.1 /><circle class=d cx=2823 cy=87 r=7.1 /><circle class=q cx=2862 cy=543 r=7.1 /><circle class=o cx=2785 cy=875 r=7.1 /><circle class=h cx=2583 cy=687 r=7.1 /><circle class=i cx=2864 cy=242 r=7.1 /><circle class=h cx=3167 cy=608 r=7.1 /><circle class=t cx=3107 cy=951 r=7.1 /><circle class=h cx=3041 cy=279 r=7.1 /><circle class=h cx=2939 cy=876 r=7.1 /><circle class=e cx=3126 cy=569 r=7.1 /><circle class=a cx=3063 cy=215 r=7.1 /><circle class=t cx=2997 cy=882 r=7.1 /><circle class=c cx=2739 cy=484 r=7.1 /><circle class=c cx=2459 cy=314 r=7.1 /><circle class=f cx=3106 cy=337 r=7.1 /><circle class=a cx=2524 cy=425 r=7.1 /><circle class=n cx=2867 cy=566 r=7.1 /><circle class=s cx=3284 cy=320 r=7.1 /><circle class=t cx=3216 cy=828 r=7.1 /><circle class=h cx=3199 cy=526 r=7.1 /><circle class=m cx=2772 cy=663 r=7.1 /><circle class=c cx=2648 cy=421 r=7.1 /><circle class=h cx=2545 cy=591 r=7.1 /><circle class=d cx=2961 cy=520 r=7.1 /><circle class=p cx=3285 cy=624 r=7.1 /><circle class=j cx=3285 cy=728 r=7.1 /><circle class=n cx=2486 cy=636 r=7.1 /><circle class=f cx=3098 cy=343 r=7.1 /><circle class=e cx=2982 cy=456 r=7.1 /><circle class=c cx=2626 cy=431 r=7.1 /><circle class=i cx=3131 cy=170 r=7.1 /><circle class=e cx=3100 cy=319 r=7.1 /><circle class=q cx=2805 cy=556 r=7.1 /><circle class=g cx=3415 cy=622 r=7.1 /><circle class=k cx=3025 cy=532 r=7.1 /><circle class=c cx=2770 cy=378 r=7.1 /><circle class=o cx=2526 cy=755 r=7.1 /><circle class=a cx=3001 cy=550 r=7.1 /><circle class=d cx=2717 cy=782 r=7.1 /><circle class=c cx=2678 cy=276 r=7.1 /><circle class=i cx=2929 cy=143 r=7.1 /><circle class=e cx=3201 cy=451 r=7.1 /><circle class=q cx=3112 cy=429 r=7.1 /><circle class=c cx=2770 cy=388 r=7.1 /><circle class=s cx=2961 cy=980 r=7.1 /><circle class=f cx=2985 cy=383 r=7.1 /><circle class=i cx=2921 cy=170 r=7.1 /><circle class=k cx=2551 cy=479 r=7.1 /><circle class=a cx=2605 cy=797 r=7.1 /><circle class=d cx=2717 cy=554 r=7.1 /><circle class=d cx=2841 cy=734 r=7.1 /><circle class=e cx=2893 cy=545 r=7.1 /><circle class=i cx=2959 cy=125 r=7.1 /><circle class=l cx=2985 cy=691 r=7.1 /><circle class=q cx=3051 cy=737 r=7.1 /><circle class=j cx=3170 cy=738 r=7.1 /><circle class=f cx=2878 cy=322 r=7.1 /><circle class=j cx=3245 cy=778 r=7.1 /><circle class=p cx=2643 cy=699 r=7.1 /><circle class=n cx=2461 cy=692 r=7.1 /><circle class=b cx=2617 cy=580 r=7.1 /><circle class=h cx=2644 cy=605 r=7.1 /><circle class=c cx=2762 cy=417 r=7.1 /><circle class=g cx=3298 cy=498 r=7.1 /><circle class=o cx=2741 cy=936 r=7.1 /><circle class=q cx=3087 cy=424 r=7.1 /><circle class=m cx=2724 cy=690 r=7.1 /><circle class=k cx=2546 cy=260 r=7.1 /><circle class=b cx=2726 cy=204 r=7.1 /><circle class=f cx=3123 cy=277 r=7.1 /><circle class=n cx=2428 cy=584 r=7.1 /><circle class=e cx=3069 cy=443 r=7.1 /><circle class=a cx=2938 cy=570 r=7.1 /><circle class=a cx=2986 cy=522 r=7.1 /><circle class=g cx=3277 cy=584 r=7.1 /><circle class=o cx=2772 cy=877 r=7.1 /><circle class=g cx=3401 cy=609 r=7.1 /><circle class=c cx=2716 cy=365 r=7.1 /><circle class=s cx=3235 cy=669 r=7.1 /><circle class=p cx=2969 cy=794 r=7.1 /><circle class=a cx=2486 cy=391 r=7.1 /><circle class=a cx=3065 cy=195 r=7.1 /><circle class=b cx=2726 cy=112 r=7.1 /><circle class=j cx=3119 cy=667 r=7.1 /><circle class=a cx=2968 cy=577 r=7.1 /><circle class=c cx=2712 cy=305 r=7.1 /><circle class=r cx=2755 cy=993 r=7.1 /><circle class=i cx=2848 cy=275 r=7.1 /><circle class=n cx=2443 cy=574 r=7.1 /><circle class=m cx=3060 cy=611 r=7.1 /><circle class=i cx=2809 cy=144 r=7.1 /><circle class=m cx=2783 cy=714 r=7.1 /><circle class=s cx=2480 cy=399 r=7.1 /><circle class=i cx=2890 cy=373 r=7.1 /><circle class=t cx=3146 cy=906 r=7.1 /><circle class=q cx=2863 cy=386 r=7.1 /><circle class=c cx=2675 cy=434 r=7.1 /><circle class=d cx=2818 cy=707 r=7.1 /><circle class=i cx=3147 cy=148 r=7.1 /><circle class=e cx=3251 cy=563 r=7.1 /><circle class=j cx=3301 cy=736 r=7.1 /><circle class=k cx=2542 cy=482 r=7.1 /><circle class=o cx=2786 cy=544 r=7.1 /><circle class=a cx=3067 cy=224 r=7.1 /><circle class=a cx=2934 cy=834 r=7.1 /><circle class=i cx=2798 cy=104 r=7.1 /><circle class=p cx=2717 cy=846 r=7.1 /><circle class=c cx=2752 cy=324 r=7.1 /><circle class=d cx=2722 cy=826 r=7.1 /><circle class=d cx=2920 cy=520 r=7.1 /><circle class=n cx=2433 cy=534 r=7.1 /><circle class=e cx=3217 cy=521 r=7.1 /><circle class=t cx=3123 cy=994 r=7.1 /><circle class=c cx=2743 cy=475 r=7.1 /><circle class=j cx=3319 cy=702 r=7.1 /><circle class=q cx=3091 cy=477 r=7.1 /><circle class=g cx=3241 cy=576 r=7.1 /><circle class=k cx=3044 cy=543 r=7.1 /><circle class=r cx=2764 cy=1021 r=7.1 /><circle class=n cx=2471 cy=441 r=7.1 /><circle class=o cx=2521 cy=313 r=7.1 /><circle class=a cx=2987 cy=1008 r=7.1 /><circle class=g cx=3374 cy=541 r=7.1 /><circle class=t cx=3114 cy=914 r=7.1 /><circle class=k cx=2566 cy=182 r=7.1 /><circle class=g cx=3442 cy=613 r=7.1 /><circle class=b cx=2649 cy=270 r=7.1 /><circle class=c cx=2771 cy=326 r=7.1 /><circle class=s cx=3199 cy=386 r=7.1 /><circle class=p cx=2568 cy=482 r=7.1 /><circle class=i cx=3086 cy=141 r=7.1 /><circle class=i cx=2733 cy=365 r=7.1 /><circle class=j cx=3329 cy=692 r=7.1 /><circle class=q cx=2808 cy=431 r=7.1 /><circle class=q cx=3139 cy=474 r=7.1 /><circle class=c cx=2663 cy=372 r=7.1 /><circle class=g cx=3423 cy=575 r=7.1 /><circle class=m cx=2685 cy=625 r=7.1 /><circle class=c cx=2725 cy=380 r=7.1 /><circle class=b cx=2994 cy=321 r=7.1 /><circle class=k cx=3369 cy=528 r=7.1 /><circle class=j cx=3209 cy=651 r=7.1 /><circle class=p cx=2599 cy=804 r=7.1 /><circle class=q cx=2927 cy=822 r=7.1 /><circle class=o cx=2752 cy=876 r=7.1 /><circle class=f cx=2829 cy=314 r=7.1 /><circle class=o cx=2877 cy=962 r=7.1 /><circle class=r cx=2885 cy=977 r=7.1 /><circle class=c cx=2625 cy=478 r=7.1 /><circle class=i cx=2921 cy=235 r=7.1 /><circle class=t cx=3131 cy=968 r=7.1 /><circle class=d cx=2875 cy=177 r=7.1 /><circle class=i cx=2866 cy=132 r=7.1 /><circle class=d cx=2873 cy=696 r=7.1 /><circle class=o cx=2731 cy=867 r=7.1 /><circle class=m cx=2394 cy=566 r=7.1 /><circle class=m cx=2772 cy=691 r=7.1 /><circle class=a cx=3173 cy=654 r=7.1 /><circle class=c cx=2713 cy=402 r=7.1 /><circle class=l cx=2972 cy=683 r=7.1 /><circle class=a cx=2989 cy=536 r=7.1 /><circle class=m cx=3114 cy=643 r=7.1 /><circle class=t cx=3090 cy=891 r=7.1 /><circle class=f cx=2932 cy=410 r=7.1 /><circle class=d cx=2743 cy=513 r=7.1 /><circle class=a cx=2971 cy=571 r=7.1 /><circle class=k cx=2619 cy=177 r=7.1 /><circle class=e cx=3031 cy=485 r=7.1 /><circle class=n cx=2776 cy=624 r=7.1 /><circle class=i cx=2822 cy=104 r=7.1 /><circle class=c cx=2647 cy=522 r=7.1 /><circle class=t cx=3196 cy=879 r=7.1 /><circle class=m cx=2771 cy=732 r=7.1 /><circle class=p cx=2626 cy=696 r=7.1 /><circle class=c cx=2654 cy=373 r=7.1 /><circle class=p cx=2586 cy=858 r=7.1 /><circle class=f cx=3068 cy=410 r=7.1 /><circle class=o cx=2872 cy=890 r=7.1 /><circle class=m cx=2783 cy=625 r=7.1 /><circle class=m cx=2788 cy=696 r=7.1 /><circle class=r cx=2926 cy=1063 r=7.1 /><circle class=j cx=3214 cy=608 r=7.1 /><circle class=s cx=3289 cy=634 r=7.1 /><circle class=n cx=2858 cy=619 r=7.1 /><circle class=c cx=2720 cy=390 r=7.1 /><circle class=t cx=3115 cy=871 r=7.1 /><circle class=p cx=2522 cy=532 r=7.1 /><circle class=a cx=2572 cy=621 r=7.1 /><circle class=c cx=2661 cy=444 r=7.1 /><circle class=p cx=2498 cy=492 r=7.1 /><circle class=g cx=3334 cy=552 r=7.1 /><circle class=i cx=3058 cy=261 r=7.1 /><circle class=c cx=2941 cy=413 r=7.1 /><circle class=s cx=3298 cy=335 r=7.1 /><circle class=c cx=2676 cy=286 r=7.1 /><circle class=f cx=2980 cy=344 r=7.1 /><circle class=e cx=2843 cy=632 r=7.1 /><circle class=j cx=2903 cy=941 r=7.1 /><circle class=i cx=2750 cy=342 r=7.1 /><circle class=c cx=2731 cy=297 r=7.1 /><circle class=i cx=2895 cy=322 r=7.1 /><circle class=f cx=2926 cy=323 r=7.1 /><circle class=e cx=3067 cy=475 r=7.1 /><circle class=a cx=2971 cy=506 r=7.1 /><circle class=d cx=2548 cy=677 r=7.1 /><circle class=s cx=3187 cy=361 r=7.1 /><circle class=m cx=2710 cy=638 r=7.1 /><circle class=k cx=2455 cy=570 r=7.1 /><circle class=m cx=2762 cy=657 r=7.1 /><circle class=r cx=2810 cy=1021 r=7.1 /><circle class=o cx=2846 cy=800 r=7.1 /><circle class=k cx=2637 cy=200 r=7.1 /><circle class=s cx=3066 cy=466 r=7.1 /><circle class=a cx=2459 cy=401 r=7.1 /><circle class=g cx=3420 cy=605 r=7.1 /><circle class=g cx=2936 cy=963 r=7.1 /><circle class=k cx=2630 cy=381 r=7.1 /><circle class=j cx=3224 cy=721 r=7.1 /><circle class=e cx=3150 cy=670 r=7.1 /><circle class=t cx=3172 cy=885 r=7.1 /><circle class=f cx=3167 cy=622 r=7.1 /><circle class=k cx=2631 cy=185 r=7.1 /><circle class=s cx=2950 cy=1009 r=7.1 /><circle class=f cx=3113 cy=360 r=7.1 /><circle class=e cx=2886 cy=567 r=7.1 /><circle class=f cx=2989 cy=342 r=7.1 /><circle class=d cx=2702 cy=799 r=7.1 /><circle class=f cx=2930 cy=356 r=7.1 /><circle class=j cx=2834 cy=627 r=7.1 /><circle class=b cx=2736 cy=86 r=7.1 /><circle class=m cx=2614 cy=688 r=7.1 /><circle class=h cx=2556 cy=528 r=7.1 /><circle class=a cx=2446 cy=328 r=7.1 /><circle class=b cx=2765 cy=272 r=7.1 /><circle class=c cx=2782 cy=303 r=7.1 /><circle class=o cx=2731 cy=922 r=7.1 /><circle class=q cx=2785 cy=457 r=7.1 /><circle class=e cx=3214 cy=497 r=7.1 /><circle class=m cx=2697 cy=730 r=7.1 /><circle class=m cx=2777 cy=595 r=7.1 /><circle class=c cx=2705 cy=293 r=7.1 /><circle class=i cx=2927 cy=279 r=7.1 /><circle class=m cx=2727 cy=648 r=7.1 /><circle class=k cx=2617 cy=186 r=7.1 /><circle class=p cx=2561 cy=708 r=7.1 /><circle class=d cx=2855 cy=702 r=7.1 /><circle class=j cx=3281 cy=615 r=7.1 /><circle class=e cx=3154 cy=244 r=7.1 /><circle class=j cx=3024 cy=825 r=7.1 /><circle class=t cx=3112 cy=830 r=7.1 /><circle class=m cx=2829 cy=654 r=7.1 /><circle class=q cx=2973 cy=813 r=7.1 /><circle class=d cx=2896 cy=692 r=7.1 /><circle class=s cx=3139 cy=381 r=7.1 /><circle class=m cx=2698 cy=638 r=7.1 /><circle class=f cx=2915 cy=289 r=7.1 /><circle class=g cx=3217 cy=637 r=7.1 /><circle class=c cx=2867 cy=346 r=7.1 /><circle class=e cx=2977 cy=99 r=7.1 /><circle class=p cx=2679 cy=713 r=7.1 /><circle class=m cx=3059 cy=653 r=7.1 /><circle class=d cx=2903 cy=518 r=7.1 /><circle class=b cx=2685 cy=244 r=7.1 /><circle class=i cx=2971 cy=228 r=7.1 /><circle class=h cx=2877 cy=818 r=7.1 /><circle class=q cx=2972 cy=716 r=7.1 /><circle class=s cx=3239 cy=342 r=7.1 /><circle class=r cx=3103 cy=987 r=7.1 /><circle class=n cx=2868 cy=593 r=7.1 /><circle class=p cx=2655 cy=583 r=7.1 /><circle class=p cx=2502 cy=501 r=7.1 /><circle class=m cx=2725 cy=666 r=7.1 /><circle class=t cx=3088 cy=785 r=7.1 /><circle class=q cx=2867 cy=778 r=7.1 /><circle class=a cx=3200 cy=750 r=7.1 /><circle class=j cx=3034 cy=998 r=7.1 /><circle class=j cx=3201 cy=820 r=7.1 /><circle class=d cx=2744 cy=567 r=7.1 /><circle class=k cx=2634 cy=340 r=7.1 /><circle class=p cx=2699 cy=895 r=7.1 /><circle class=p cx=2578 cy=737 r=7.1 /><circle class=p cx=2557 cy=867 r=7.1 /><circle class=n cx=2479 cy=568 r=7.1 /><circle class=q cx=2820 cy=887 r=7.1 /><circle class=l cx=2966 cy=677 r=7.1 /><circle class=m cx=2719 cy=652 r=7.1 /><circle class=o cx=3212 cy=764 r=7.1 /><circle class=t cx=3128 cy=823 r=7.1 /><circle class=s cx=3208 cy=329 r=7.1 /><circle class=c cx=2830 cy=286 r=7.1 /><circle class=q cx=3094 cy=542 r=7.1 /><circle class=r cx=2933 cy=997 r=7.1 /><circle class=h cx=3186 cy=510 r=7.1 /><circle class=o cx=2766 cy=907 r=7.1 /><circle class=n cx=2515 cy=666 r=7.1 /><circle class=m cx=2763 cy=620 r=7.1 /><circle class=o cx=2790 cy=956 r=7.1 /><circle class=m cx=2823 cy=686 r=7.1 /><circle class=c cx=3310 cy=530 r=7.1 /><circle class=p cx=2670 cy=678 r=7.1 /><circle class=c cx=2722 cy=457 r=7.1 /><circle class=d cx=2675 cy=504 r=7.1 /><circle class=c cx=2827 cy=304 r=7.1 /><circle class=e cx=2974 cy=497 r=7.1 /><circle class=p cx=2592 cy=455 r=7.1 /><circle class=i cx=2943 cy=68 r=7.1 /><circle class=m cx=2698 cy=648 r=7.1 /><circle class=h cx=3216 cy=478 r=7.1 /><circle class=d cx=2885 cy=279 r=7.1 /><circle class=f cx=3068 cy=282 r=7.1 /><circle class=n cx=2449 cy=660 r=7.1 /><circle class=r cx=2835 cy=1026 r=7.1 /><circle class=c cx=2748 cy=482 r=7.1 /><circle class=o cx=2881 cy=1014 r=7.1 /><circle class=o cx=2745 cy=926 r=7.1 /><circle class=o cx=2799 cy=1006 r=7.1 /><circle class=t cx=3152 cy=836 r=7.1 /><circle class=c cx=2615 cy=527 r=7.1 /><circle class=d cx=2840 cy=759 r=7.1 /><circle class=c cx=2496 cy=479 r=7.1 /><circle class=o cx=2804 cy=872 r=7.1 /><circle class=c cx=2677 cy=381 r=7.1 /><circle class=i cx=2870 cy=141 r=7.1 /><circle class=i cx=3044 cy=162 r=7.1 /><circle class=h cx=2893 cy=585 r=7.1 /><circle class=p cx=2659 cy=786 r=7.1 /><circle class=c cx=2801 cy=447 r=7.1 /><circle class=h cx=2632 cy=645 r=7.1 /><circle class=h cx=2618 cy=556 r=7.1 /><circle class=a cx=2989 cy=449 r=7.1 /><circle class=e cx=3194 cy=327 r=7.1 /><circle class=p cx=2616 cy=673 r=7.1 /><circle class=j cx=3102 cy=701 r=7.1 /><circle class=q cx=3056 cy=748 r=7.1 /><circle class=c cx=2740 cy=467 r=7.1 /><circle class=e cx=2979 cy=465 r=7.1 /><circle class=c cx=2688 cy=442 r=7.1 /><circle class=e cx=3085 cy=403 r=7.1 /><circle class=p cx=2596 cy=882 r=7.1 /><circle class=j cx=3227 cy=812 r=7.1 /><circle class=b cx=2852 cy=215 r=7.1 /><circle class=c cx=2771 cy=344 r=7.1 /><circle class=g cx=3265 cy=541 r=7.1 /><circle class=r cx=2751 cy=1024 r=7.1 /><circle class=t cx=3088 cy=1004 r=7.1 /><circle class=p cx=2574 cy=432 r=7.1 /><circle class=d cx=2984 cy=287 r=7.1 /><circle class=o cx=2790 cy=926 r=7.1 /><circle class=q cx=2805 cy=509 r=7.1 /><circle class=j cx=3250 cy=622 r=7.1 /><circle class=t cx=3119 cy=1011 r=7.1 /><circle class=p cx=2713 cy=673 r=7.1 /><circle class=q cx=3186 cy=854 r=7.1 /><circle class=t cx=3044 cy=829 r=7.1 /><circle class=f cx=3028 cy=672 r=7.1 /><circle class=i cx=2869 cy=107 r=7.1 /><circle class=h cx=2572 cy=522 r=7.1 /><circle class=a cx=2438 cy=379 r=7.1 /><circle class=k cx=3331 cy=523 r=7.1 /><circle class=t cx=2723 cy=213 r=7.1 /><circle class=n cx=2397 cy=635 r=7.1 /><circle class=m cx=2790 cy=686 r=7.1 /><circle class=m cx=2811 cy=675 r=7.1 /><circle class=t cx=3081 cy=910 r=7.1 /><circle class=f cx=3082 cy=431 r=7.1 /><circle class=m cx=2734 cy=663 r=7.1 /><circle class=k cx=2566 cy=423 r=7.1 /><circle class=h cx=2575 cy=611 r=7.1 /><circle class=k cx=2593 cy=232 r=7.1 /><circle class=o cx=2831 cy=884 r=7.1 /><circle class=b cx=2614 cy=293 r=7.1 /><circle class=e cx=3129 cy=597 r=7.1 /><circle class=q cx=3069 cy=781 r=7.1 /><circle class=q cx=2817 cy=438 r=7.1 /><circle class=e cx=3008 cy=60 r=7.1 /><circle class=d cx=2693 cy=506 r=7.1 /><circle class=i cx=2915 cy=271 r=7.1 /><circle class=n cx=2449 cy=452 r=7.1 /><circle class=n cx=2789 cy=289 r=7.1 /><circle class=h cx=2636 cy=815 r=7.1 /><circle class=o cx=2966 cy=971 r=7.1 /><circle class=j cx=3309 cy=715 r=7.1 /><circle class=d cx=2709 cy=727 r=7.1 /><circle class=m cx=2581 cy=720 r=7.1 /><circle class=n cx=2807 cy=568 r=7.1 /><circle class=d cx=2970 cy=637 r=7.1 /><circle class=b cx=2955 cy=174 r=7.1 /><circle class=e cx=2824 cy=547 r=7.1 /><circle class=t cx=3126 cy=897 r=7.1 /><circle class=c cx=2845 cy=323 r=7.1 /><circle class=e cx=2783 cy=535 r=7.1 /><circle class=c cx=2624 cy=335 r=7.1 /><circle class=j cx=3253 cy=758 r=7.1 /><circle class=e cx=2992 cy=127 r=7.1 /><circle class=p cx=2634 cy=856 r=7.1 /><circle class=q cx=3082 cy=721 r=7.1 /><circle class=p cx=2477 cy=577 r=7.1 /><circle class=c cx=2625 cy=389 r=7.1 /><circle class=b cx=2792 cy=253 r=7.1 /><circle class=q cx=2872 cy=401 r=7.1 /><circle class=r cx=2834 cy=1073 r=7.1 /><circle class=m cx=2779 cy=613 r=7.1 /><circle class=m cx=2886 cy=647 r=7.1 /><circle class=m cx=2743 cy=607 r=7.1 /><circle class=a cx=3004 cy=581 r=7.1 /><circle class=p cx=2668 cy=782 r=7.1 /><circle class=o cx=2825 cy=910 r=7.1 /><circle class=j cx=3127 cy=685 r=7.1 /><circle class=k cx=2646 cy=432 r=7.1 /><circle class=e cx=3031 cy=525 r=7.1 /><circle class=f cx=2998 cy=379 r=7.1 /><circle class=q cx=2842 cy=418 r=7.1 /><circle class=h cx=2568 cy=603 r=7.1 /><circle class=n cx=2469 cy=671 r=7.1 /><circle class=a cx=2978 cy=400 r=7.1 /><circle class=h cx=2576 cy=574 r=7.1 /><circle class=h cx=3212 cy=433 r=7.1 /><circle class=r cx=2810 cy=1088 r=7.1 /><circle class=p cx=2644 cy=464 r=7.1 /><circle class=o cx=2745 cy=881 r=7.1 /><circle class=c cx=2672 cy=411 r=7.1 /><circle class=s cx=3230 cy=404 r=7.1 /><circle class=f cx=3249 cy=519 r=7.1 /><circle class=f cx=2852 cy=361 r=7.1 /><circle class=d cx=2845 cy=672 r=7.1 /><circle class=k cx=3131 cy=480 r=7.1 /><circle class=t cx=3082 cy=832 r=7.1 /><circle class=c cx=2702 cy=433 r=7.1 /><circle class=a cx=3012 cy=521 r=7.1 /><circle class=k cx=2584 cy=460 r=7.1 /><circle class=i cx=2908 cy=125 r=7.1 /><circle class=d cx=2754 cy=980 r=7.1 /><circle class=i cx=3130 cy=201 r=7.1 /><circle class=f cx=3041 cy=497 r=7.1 /><circle class=n cx=2477 cy=638 r=7.1 /><circle class=a cx=2965 cy=512 r=7.1 /><circle class=q cx=2981 cy=699 r=7.1 /><circle class=f cx=3034 cy=316 r=7.1 /><circle class=c cx=2632 cy=415 r=7.1 /><circle class=f cx=3013 cy=361 r=7.1 /><circle class=d cx=2744 cy=777 r=7.1 /><circle class=q cx=3081 cy=476 r=7.1 /><circle class=h cx=2649 cy=575 r=7.1 /><circle class=d cx=2904 cy=670 r=7.1 /><circle class=n cx=2484 cy=663 r=7.1 /><circle class=a cx=2765 cy=262 r=7.1 /><circle class=r cx=2849 cy=1076 r=7.1 /><circle class=q cx=3089 cy=563 r=7.1 /><circle class=h cx=3126 cy=579 r=7.1 /><circle class=d cx=2701 cy=762 r=7.1 /><circle class=r cx=2835 cy=1050 r=7.1 /><circle class=m cx=3121 cy=628 r=7.1 /><circle class=r cx=3005 cy=139 r=7.1 /><circle class=k cx=2590 cy=195 r=7.1 /><circle class=f cx=3028 cy=347 r=7.1 /><circle class=c cx=2748 cy=155 r=7.1 /><circle class=o cx=2662 cy=911 r=7.1 /><circle class=c cx=2699 cy=301 r=7.1 /><circle class=n cx=2433 cy=678 r=7.1 /><circle class=f cx=3127 cy=348 r=7.1 /><circle class=n cx=2493 cy=624 r=7.1 /><circle class=g cx=3376 cy=570 r=7.1 /><circle class=s cx=3000 cy=618 r=7.1 /><circle class=m cx=2745 cy=691 r=7.1 /><circle class=o cx=2932 cy=1007 r=7.1 /><circle class=j cx=3310 cy=623 r=7.1 /><circle class=d cx=2864 cy=512 r=7.1 /><circle class=h cx=3183 cy=491 r=7.1 /><circle class=n cx=2800 cy=608 r=7.1 /><circle class=i cx=3115 cy=188 r=7.1 /><circle class=b cx=2651 cy=287 r=7.1 /><circle class=r cx=3316 cy=567 r=7.1 /><circle class=a cx=2966 cy=528 r=7.1 /><circle class=n cx=2476 cy=591 r=7.1 /><circle class=q cx=3126 cy=438 r=7.1 /><circle class=o cx=2810 cy=918 r=7.1 /><circle class=f cx=3035 cy=354 r=7.1 /><circle class=l cx=2680 cy=755 r=7.1 /><circle class=e cx=3134 cy=224 r=7.1 /><circle class=q cx=2874 cy=476 r=7.1 /><circle class=g cx=2749 cy=559 r=7.1 /><circle class=j cx=3162 cy=460 r=7.1 /><circle class=e cx=3151 cy=312 r=7.1 /><circle class=r cx=3184 cy=190 r=7.1 /><circle class=t cx=3141 cy=872 r=7.1 /><circle class=c cx=2734 cy=428 r=7.1 /><circle class=h cx=2912 cy=919 r=7.1 /><circle class=c cx=2778 cy=74 r=7.1 /><circle class=t cx=3174 cy=819 r=7.1 /><circle class=m cx=3077 cy=610 r=7.1 /><circle class=e cx=3098 cy=577 r=7.1 /><circle class=m cx=2781 cy=688 r=7.1 /><circle class=t cx=3181 cy=885 r=7.1 /><circle class=i cx=3016 cy=216 r=7.1 /><circle class=l cx=2959 cy=722 r=7.1 /><circle class=c cx=2651 cy=324 r=7.1 /><circle class=e cx=3031 cy=578 r=7.1 /><circle class=h cx=2625 cy=638 r=7.1 /><circle class=a cx=3034 cy=589 r=7.1 /><circle class=h cx=3268 cy=406 r=7.1 /><circle class=o cx=2893 cy=932 r=7.1 /><circle class=m cx=3128 cy=634 r=7.1 /><circle class=a cx=2516 cy=416 r=7.1 /><circle class=o cx=2820 cy=934 r=7.1 /><circle class=e cx=3084 cy=579 r=7.1 /><circle class=h cx=2592 cy=735 r=7.1 /><circle class=o cx=2848 cy=993 r=7.1 /><circle class=f cx=3012 cy=386 r=7.1 /><circle class=b cx=2800 cy=221 r=7.1 /><circle class=e cx=3158 cy=262 r=7.1 /><circle class=c cx=2981 cy=828 r=7.1 /><circle class=f cx=2884 cy=389 r=7.1 /><circle class=a cx=2982 cy=584 r=7.1 /><circle class=d cx=2661 cy=775 r=7.1 /><circle class=d cx=2924 cy=247 r=7.1 /><circle class=t cx=3086 cy=927 r=7.1 /><circle class=f cx=2914 cy=362 r=7.1 /><circle class=t cx=3064 cy=825 r=7.1 /><circle class=k cx=2574 cy=378 r=7.1 /><circle class=m cx=2789 cy=676 r=7.1 /><circle class=l cx=2633 cy=537 r=7.1 /><circle class=b cx=2720 cy=85 r=7.1 /><circle class=j cx=3266 cy=776 r=7.1 /><circle class=o cx=2776 cy=941 r=7.1 /><circle class=c cx=2593 cy=417 r=7.1 /><circle class=d cx=3103 cy=746 r=7.1 /><circle class=a cx=3211 cy=262 r=7.1 /><circle class=t cx=3235 cy=848 r=7.1 /><circle class=n cx=2823 cy=525 r=7.1 /><circle class=m cx=2879 cy=679 r=7.1 /><circle class=m cx=3122 cy=648 r=7.1 /><circle class=p cx=2552 cy=821 r=7.1 /><circle class=a cx=3027 cy=181 r=7.1 /><circle class=n cx=2405 cy=657 r=7.1 /><circle class=m cx=2708 cy=708 r=7.1 /><circle class=s cx=3167 cy=366 r=7.1 /><circle class=c cx=2652 cy=300 r=7.1 /><circle class=g cx=3398 cy=623 r=7.1 /><circle class=a cx=3055 cy=202 r=7.1 /><circle class=t cx=3073 cy=881 r=7.1 /><circle class=t cx=3071 cy=973 r=7.1 /><circle class=c cx=2665 cy=301 r=7.1 /><circle class=b cx=2671 cy=204 r=7.1 /><circle class=e cx=2950 cy=421 r=7.1 /><circle class=j cx=3201 cy=719 r=7.1 /><circle class=d cx=2777 cy=772 r=7.1 /><circle class=e cx=3144 cy=224 r=7.1 /><circle class=e cx=3116 cy=414 r=7.1 /><circle class=f cx=3049 cy=276 r=7.1 /><circle class=s cx=3247 cy=377 r=7.1 /><circle class=h cx=2580 cy=565 r=7.1 /><circle class=l cx=2641 cy=570 r=7.1 /><circle class=t cx=3168 cy=848 r=7.1 /><circle class=b cx=2741 cy=249 r=7.1 /><circle class=l cx=2970 cy=784 r=7.1 /><circle class=n cx=2513 cy=605 r=7.1 /><circle class=s cx=3264 cy=357 r=7.1 /><circle class=m cx=2746 cy=661 r=7.1 /><circle class=c cx=2676 cy=309 r=7.1 /><circle class=q cx=2859 cy=486 r=7.1 /><circle class=p cx=2659 cy=689 r=7.1 /><circle class=h cx=2683 cy=602 r=7.1 /><circle class=i cx=2881 cy=148 r=7.1 /><circle class=c cx=2625 cy=422 r=7.1 /><circle class=a cx=2585 cy=437 r=7.1 /><circle class=e cx=2978 cy=299 r=7.1 /><circle class=j cx=2527 cy=588 r=7.1 /><circle class=t cx=3071 cy=910 r=7.1 /><circle class=c cx=2657 cy=353 r=7.1 /><circle class=o cx=2726 cy=844 r=7.1 /><circle class=n cx=2519 cy=624 r=7.1 /><circle class=t cx=3023 cy=868 r=7.1 /><circle class=q cx=2794 cy=369 r=7.1 /><circle class=h cx=2952 cy=881 r=7.1 /><circle class=d cx=2864 cy=691 r=7.1 /><circle class=q cx=2874 cy=433 r=7.1 /><circle class=r cx=2803 cy=1073 r=7.1 /><circle class=e cx=2904 cy=568 r=7.1 /><circle class=n cx=2469 cy=614 r=7.1 /><circle class=o cx=2870 cy=978 r=7.1 /><circle class=i cx=2792 cy=138 r=7.1 /><circle class=k cx=2609 cy=423 r=7.1 /><circle class=p cx=2711 cy=875 r=7.1 /><circle class=j cx=3245 cy=790 r=7.1 /><circle class=c cx=2741 cy=392 r=7.1 /><circle class=q cx=2864 cy=584 r=7.1 /><circle class=h cx=2658 cy=593 r=7.1 /><circle class=t cx=3082 cy=1013 r=7.1 /><circle class=j cx=3300 cy=665 r=7.1 /><circle class=f cx=2932 cy=230 r=7.1 /><circle class=f cx=3025 cy=311 r=7.1 /><circle class=g cx=3258 cy=556 r=7.1 /><circle class=h cx=2524 cy=571 r=7.1 /><circle class=q cx=2923 cy=460 r=7.1 /><circle class=o cx=2816 cy=963 r=7.1 /><circle class=f cx=3010 cy=340 r=7.1 /><circle class=m cx=2696 cy=599 r=7.1 /><circle class=a cx=3028 cy=198 r=7.1 /><circle class=f cx=2978 cy=366 r=7.1 /><circle class=k cx=3288 cy=569 r=7.1 /><circle class=t cx=3184 cy=862 r=7.1 /><circle class=a cx=3043 cy=176 r=7.1 /><circle class=p cx=2684 cy=886 r=7.1 /><circle class=s cx=3147 cy=470 r=7.1 /><circle class=c cx=2535 cy=324 r=7.1 /><circle class=s cx=3290 cy=362 r=7.1 /><circle class=c cx=2570 cy=514 r=7.1 /><circle class=s cx=3118 cy=110 r=7.1 /><circle class=h cx=2982 cy=748 r=7.1 /><circle class=i cx=2906 cy=231 r=7.1 /><circle class=a cx=2996 cy=535 r=7.1 /><circle class=q cx=3196 cy=855 r=7.1 /><circle class=o cx=2847 cy=868 r=7.1 /><circle class=t cx=3186 cy=846 r=7.1 /><circle class=h cx=2768 cy=760 r=7.1 /><circle class=p cx=2715 cy=720 r=7.1 /><circle class=a cx=2549 cy=649 r=7.1 /><circle class=h cx=2484 cy=540 r=7.1 /><circle class=j cx=2693 cy=449 r=7.1 /><circle class=k cx=2619 cy=233 r=7.1 /><circle class=c cx=2809 cy=477 r=7.1 /><circle class=d cx=2704 cy=485 r=7.1 /><circle class=f cx=2904 cy=289 r=7.1 /><circle class=i cx=2806 cy=170 r=7.1 /><circle class=e cx=3187 cy=308 r=7.1 /><circle class=n cx=2843 cy=568 r=7.1 /><circle class=k cx=2561 cy=231 r=7.1 /><circle class=e cx=3105 cy=311 r=7.1 /><circle class=b cx=2493 cy=257 r=7.1 /><circle class=p cx=2936 cy=824 r=7.1 /><circle class=d cx=2731 cy=823 r=7.1 /><circle class=i cx=3114 cy=96 r=7.1 /><circle class=c cx=2827 cy=334 r=7.1 /><circle class=o cx=2795 cy=909 r=7.1 /><circle class=d cx=2715 cy=579 r=7.1 /><circle class=k cx=2575 cy=138 r=7.1 /><circle class=o cx=3144 cy=803 r=7.1 /><circle class=q cx=2920 cy=451 r=7.1 /><circle class=q cx=2863 cy=415 r=7.1 /><circle class=a cx=2926 cy=55 r=7.1 /><circle class=m cx=2735 cy=633 r=7.1 /><circle class=b cx=2599 cy=239 r=7.1 /><circle class=n cx=2771 cy=576 r=7.1 /><circle class=f cx=2882 cy=428 r=7.1 /><circle class=e cx=2956 cy=296 r=7.1 /><circle class=h cx=2591 cy=617 r=7.1 /><circle class=d cx=2690 cy=754 r=7.1 /><circle class=c cx=2733 cy=276 r=7.1 /><circle class=p cx=2685 cy=789 r=7.1 /><circle class=q cx=3105 cy=508 r=7.1 /><circle class=f cx=3058 cy=355 r=7.1 /><circle class=h cx=2937 cy=893 r=7.1 /><circle class=b cx=2703 cy=187 r=7.1 /><circle class=r cx=2815 cy=1034 r=7.1 /><circle class=k cx=2620 cy=380 r=7.1 /><circle class=k cx=2607 cy=255 r=7.1 /><circle class=h cx=2587 cy=643 r=7.1 /><circle class=i cx=3187 cy=172 r=7.1 /><circle class=d cx=2831 cy=185 r=7.1 /><circle class=o cx=2746 cy=841 r=7.1 /><circle class=q cx=2897 cy=423 r=7.1 /><circle class=d cx=2731 cy=521 r=7.1 /><circle class=p cx=2470 cy=508 r=7.1 /><circle class=e cx=3177 cy=233 r=7.1 /><circle class=q cx=3079 cy=564 r=7.1 /><circle class=o cx=2798 cy=936 r=7.1 /><circle class=q cx=2882 cy=498 r=7.1 /><circle class=r cx=2874 cy=1034 r=7.1 /><circle class=n cx=3109 cy=709 r=7.1 /><circle class=d cx=2880 cy=508 r=7.1 /><circle class=m cx=2601 cy=673 r=7.1 /><circle class=n cx=3270 cy=628 r=7.1 /><circle class=k cx=3201 cy=662 r=7.1 /><circle class=m cx=3248 cy=469 r=7.1 /><circle class=m cx=2856 cy=662 r=7.1 /><circle class=t cx=2829 cy=892 r=7.1 /><circle class=o cx=2767 cy=926 r=7.1 /><circle class=q cx=2874 cy=416 r=7.1 /><circle class=h cx=2534 cy=523 r=7.1 /><circle class=c cx=2650 cy=471 r=7.1 /><circle class=h cx=2579 cy=629 r=7.1 /><circle class=e cx=2914 cy=666 r=7.1 /><circle class=c cx=2418 cy=422 r=7.1 /><circle class=n cx=2479 cy=288 r=7.1 /><circle class=l cx=2940 cy=671 r=7.1 /><circle class=d cx=2742 cy=533 r=7.1 /><circle class=d cx=2728 cy=724 r=7.1 /><circle class=c cx=2786 cy=413 r=7.1 /><circle class=n cx=3013 cy=291 r=7.1 /><circle class=t cx=3119 cy=880 r=7.1 /><circle class=q cx=3115 cy=489 r=7.1 /><circle class=i cx=2972 cy=218 r=7.1 /><circle class=a cx=2986 cy=555 r=7.1 /><circle class=m cx=2725 cy=716 r=7.1 /><circle class=f cx=2993 cy=361 r=7.1 /><circle class=e cx=3064 cy=458 r=7.1 /><circle class=a cx=3106 cy=154 r=7.1 /><circle class=q cx=3108 cy=565 r=7.1 /><circle class=o cx=2623 cy=906 r=7.1 /><circle class=c cx=2718 cy=477 r=7.1 /><circle class=j cx=3242 cy=741 r=7.1 /><circle class=m cx=3260 cy=421 r=7.1 /><circle class=q cx=2828 cy=384 r=7.1 /><circle class=a cx=3051 cy=183 r=7.1 /><circle class=c cx=3145 cy=481 r=7.1 /><circle class=f cx=2978 cy=353 r=7.1 /><circle class=f cx=3038 cy=395 r=7.1 /><circle class=f cx=2962 cy=343 r=7.1 /><circle class=f cx=2856 cy=328 r=7.1 /><circle class=o cx=2784 cy=779 r=7.1 /><circle class=p cx=2676 cy=850 r=7.1 /><circle class=o cx=2806 cy=940 r=7.1 /><circle class=j cx=3267 cy=712 r=7.1 /><circle class=a cx=2537 cy=337 r=7.1 /><circle class=a cx=2637 cy=519 r=7.1 /><circle class=q cx=3097 cy=524 r=7.1 /><circle class=d cx=2729 cy=761 r=7.1 /><circle class=o cx=2920 cy=973 r=7.1 /><circle class=c cx=2660 cy=459 r=7.1 /><circle class=s cx=3216 cy=403 r=7.1 /><circle class=c cx=2707 cy=328 r=7.1 /><circle class=j cx=3227 cy=766 r=7.1 /><circle class=h cx=2562 cy=521 r=7.1 /><circle class=o cx=2785 cy=1042 r=7.1 /><circle class=o cx=2737 cy=945 r=7.1 /><circle class=g cx=3054 cy=433 r=7.1 /><circle class=c cx=2770 cy=434 r=7.1 /><circle class=m cx=2990 cy=606 r=7.1 /><circle class=s cx=3185 cy=419 r=7.1 /><circle class=k cx=2604 cy=161 r=7.1 /><circle class=q cx=2851 cy=483 r=7.1 /><circle class=h cx=2901 cy=603 r=7.1 /><circle class=f cx=2969 cy=395 r=7.1 /><circle class=d cx=2886 cy=515 r=7.1 /><circle class=b cx=2840 cy=201 r=7.1 /><circle class=q cx=2867 cy=488 r=7.1 /><circle class=a cx=2982 cy=506 r=7.1 /><circle class=o cx=2738 cy=874 r=7.1 /><circle class=h cx=2797 cy=757 r=7.1 /><circle class=j cx=3228 cy=752 r=7.1 /><circle class=i cx=3035 cy=160 r=7.1 /><circle class=d cx=2831 cy=737 r=7.1 /><circle class=t cx=3081 cy=894 r=7.1 /><circle class=e cx=3164 cy=240 r=7.1 /><circle class=s cx=3183 cy=380 r=7.1 /><circle class=i cx=2937 cy=196 r=7.1 /><circle class=f cx=3006 cy=375 r=7.1 /><circle class=o cx=2748 cy=909 r=7.1 /><circle class=m cx=2991 cy=587 r=7.1 /><circle class=b cx=3082 cy=761 r=7.1 /><circle class=d cx=2743 cy=580 r=7.1 /><circle class=c cx=2662 cy=424 r=7.1 /><circle class=r cx=2788 cy=995 r=7.1 /><circle class=q cx=2796 cy=455 r=7.1 /><circle class=o cx=2792 cy=892 r=7.1 /><circle class=c cx=2569 cy=279 r=7.1 /><circle class=b cx=2748 cy=223 r=7.1 /><circle class=d cx=2697 cy=823 r=7.1 /><circle class=e cx=3234 cy=446 r=7.1 /><circle class=g cx=3382 cy=578 r=7.1 /><circle class=d cx=2696 cy=489 r=7.1 /><circle class=s cx=3193 cy=426 r=7.1 /><circle class=p cx=2571 cy=822 r=7.1 /><circle class=c cx=2678 cy=327 r=7.1 /><circle class=a cx=2993 cy=562 r=7.1 /><circle class=p cx=2593 cy=534 r=7.1 /><circle class=a cx=3144 cy=723 r=7.1 /><circle class=i cx=2969 cy=93 r=7.1 /><circle class=i cx=2794 cy=186 r=7.1 /><circle class=c cx=2700 cy=415 r=7.1 /><circle class=o cx=3337 cy=709 r=7.1 /><circle class=p cx=2582 cy=799 r=7.1 /><circle class=f cx=2937 cy=299 r=7.1 /><circle class=s cx=3231 cy=413 r=7.1 /><circle class=m cx=2786 cy=723 r=7.1 /><circle class=t cx=3096 cy=486 r=7.1 /><circle class=c cx=3158 cy=810 r=7.1 /><circle class=g cx=2987 cy=146 r=7.1 /><circle class=t cx=3100 cy=881 r=7.1 /><circle class=e cx=2913 cy=547 r=7.1 /><circle class=e cx=3181 cy=328 r=7.1 /><circle class=l cx=2966 cy=709 r=7.1 /><circle class=p cx=2492 cy=556 r=7.1 /><circle class=n cx=2423 cy=673 r=7.1 /><circle class=d cx=2715 cy=516 r=7.1 /><circle class=c cx=2657 cy=335 r=7.1 /><circle class=h cx=2674 cy=665 r=7.1 /><circle class=k cx=2630 cy=193 r=7.1 /><circle class=r cx=2825 cy=1065 r=7.1 /><circle class=i cx=2923 cy=225 r=7.1 /><circle class=p cx=2645 cy=887 r=7.1 /><circle class=b cx=2934 cy=364 r=7.1 /><circle class=i cx=2872 cy=223 r=7.1 /><circle class=q cx=2842 cy=468 r=7.1 /><circle class=n cx=2484 cy=585 r=7.1 /><circle class=h cx=2934 cy=539 r=7.1 /><circle class=d cx=2824 cy=64 r=7.1 /><circle class=p cx=2636 cy=738 r=7.1 /><circle class=q cx=2430 cy=516 r=7.1 /><circle class=p cx=2476 cy=421 r=7.1 /><circle class=n cx=2745 cy=629 r=7.1 /><circle class=n cx=3082 cy=770 r=7.1 /><circle class=g cx=3420 cy=614 r=7.1 /><circle class=t cx=3126 cy=985 r=7.1 /><circle class=g cx=2829 cy=771 r=7.1 /><circle class=i cx=2694 cy=128 r=7.1 /><circle class=k cx=3081 cy=328 r=7.1 /><circle class=o cx=2811 cy=869 r=7.1 /><circle class=i cx=3068 cy=152 r=7.1 /><circle class=o cx=3092 cy=942 r=7.1 /><circle class=f cx=2855 cy=909 r=7.1 /><circle class=h cx=2599 cy=621 r=7.1 /><circle class=b cx=3142 cy=615 r=7.1 /><circle class=h cx=2498 cy=468 r=7.1 /><circle class=j cx=3219 cy=748 r=7.1 /><circle class=k cx=2630 cy=152 r=7.1 /><circle class=d cx=3056 cy=310 r=7.1 /><circle class=i cx=3302 cy=296 r=7.1 /><circle class=g cx=3308 cy=313 r=7.1 /><circle class=c cx=3318 cy=304 r=7.1 /><circle class=q cx=3323 cy=309 r=7.1 /><circle class=e cx=2843 cy=31 r=7.1 /><circle cx="3265" cy="241.5" r="6.6" fill="#98df8a" stroke="#1a1a1a" stroke-width="2.2"/>
</g>
<!-- highlighted points -->
<circle cx="3359" cy="567.5" r="20.3" fill="#dd2a2a" stroke="#111" stroke-width="5"/>
<!-- curves -->
<path stroke="#9467bd" fill="none" stroke-width="5" d="M1833.6 403.5C2243.5 403.5 2625.1 219.6 2850.3 132.4"/>
<path fill="#9467bd" stroke="#9467bd" stroke-width="3" stroke-linejoin="round" d="M2863.5 127.3L2843.2 152.3L2843.9 134.9L2831.6 122.5Z"/>
<path stroke="#bcbd22" fill="none" stroke-width="5" d="M1833.6 556.8C2136.6 556.8 2511.0 493.4 2801.1 443.9"/>
<path fill="#bcbd22" stroke="#bcbd22" stroke-width="3" stroke-linejoin="round" d="M2815.0 441.5L2790.1 462.0L2794.3 445.0L2784.7 430.4Z"/>
<path stroke="#c7c7c7" fill="none" stroke-width="5" d="M1833.6 764.0C2106.3 764.0 2228.3 782.7 2518.8 811.6"/>
<path fill="#c7c7c7" stroke="#c7c7c7" stroke-width="3" stroke-linejoin="round" d="M2532.7 813.0L2503.3 826.1L2511.8 810.9L2506.4 794.3Z"/>
<!-- vectors store box -->
<text class="t" x="2357" y="88">Vectors Store</text>
<rect x="3367.2" y="509.1" width="200" height="47.9" rx="7" fill="#fff" stroke="#222" stroke-width="2.5"/>
<text x="3377" y="544.2" font-size="29" font-weight="bold" fill="#25272b" textLength="158" lengthAdjust="spacingAndGlyphs">swaziland</text>
<rect x="2334.5" y="29.5" width="1146" height="1075" rx="10" fill="none" stroke="#ebc433" stroke-width="3"/>
</svg>
</body></html>
